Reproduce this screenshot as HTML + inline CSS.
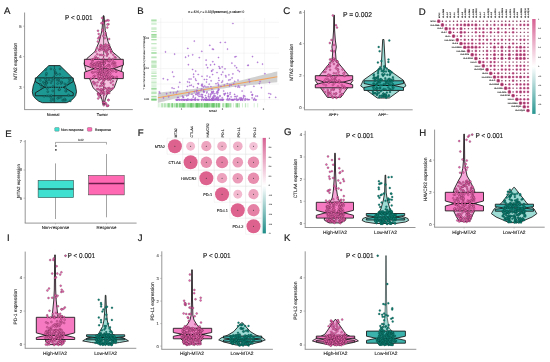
<!DOCTYPE html>
<html><head><meta charset="utf-8"><style>html,body{margin:0;padding:0;background:#fff;overflow:hidden}svg{display:block;will-change:transform}</style></head>
<body>
<svg width="550" height="362" viewBox="0 0 550 362" text-rendering="geometricPrecision" font-family='"Liberation Sans", sans-serif'>
<rect x="0" y="0" width="550" height="362" fill="#ffffff"/>
<text x="4.1" y="13.6" font-size="9.6" fill="#1a1a1a" stroke="#1a1a1a" stroke-width="0.2">A</text>
<line x1="24.6" y1="12.5" x2="24.6" y2="109.6" stroke="#8a8a8a" stroke-width="0.9"/>
<line x1="23" y1="26.2" x2="24.6" y2="26.2" stroke="#8a8a8a" stroke-width="0.5"/>
<text x="21.6" y="27.6" font-size="4.2" text-anchor="end" fill="#555" stroke="#555" stroke-width="0.12">5</text>
<line x1="23" y1="56.6" x2="24.6" y2="56.6" stroke="#8a8a8a" stroke-width="0.5"/>
<text x="21.6" y="58" font-size="4.2" text-anchor="end" fill="#555" stroke="#555" stroke-width="0.12">4</text>
<line x1="23" y1="87.1" x2="24.6" y2="87.1" stroke="#8a8a8a" stroke-width="0.5"/>
<text x="21.6" y="88.5" font-size="4.2" text-anchor="end" fill="#555" stroke="#555" stroke-width="0.12">3</text>
<line x1="24.15" y1="109.6" x2="132.8" y2="109.6" stroke="#8a8a8a" stroke-width="0.9"/>
<line x1="54.4" y1="109.6" x2="54.4" y2="110.9" stroke="#8a8a8a" stroke-width="0.45"/>
<line x1="103.6" y1="109.6" x2="103.6" y2="110.9" stroke="#8a8a8a" stroke-width="0.45"/>
<text x="16.7" y="61.2" font-size="4.8" text-anchor="middle" fill="#333" stroke="#333" stroke-width="0.12" transform="rotate(-90 16.7 61.2)">MTA2 expression</text>
<text x="53" y="116.1" font-size="3.9" text-anchor="middle" fill="#222" stroke="#222" stroke-width="0.12">Normal</text>
<text x="102.3" y="116.1" font-size="3.9" text-anchor="middle" fill="#222" stroke="#222" stroke-width="0.12">Tumor</text>
<text x="65.1" y="20.3" font-size="7.0" fill="#1a1a1a" stroke="#1a1a1a" stroke-width="0.15" textLength="27.4" lengthAdjust="spacingAndGlyphs">P &lt; 0.001</text>
<path d="M60,65.6L72.6,77.9L75.6,86L76.5,91.8L75.7,95.5L73.4,98.5L69.9,101.3L66.3,102.7L42.5,102.7L38.9,101.3L35.4,98.5L33.1,95.5L32.3,91.8L33.2,86L36.2,77.9L48.8,65.6Z" fill="#1e9893" stroke="#141414" stroke-width="0.85" stroke-linejoin="round"/>
<path d="M35.3,77.9L73.2,77.9L73.2,81.6L63.73,87.2L73.2,92.8L73.2,95.8L35.3,95.8L35.3,92.8L44.77,87.2L35.3,81.6Z" fill="#1e9893" stroke="#141414" stroke-width="0.85"/>
<line x1="44.7" y1="87.2" x2="64.1" y2="87.2" stroke="#141414" stroke-width="1.1" stroke-dasharray="1.6,0.7"/>
<line x1="54.4" y1="65.6" x2="54.4" y2="102.7" stroke="#141414" stroke-width="0.45"/>
<g fill="#1a8c87" stroke="#081c1c" stroke-width="0.3"><circle cx="55.5" cy="72.5" r="1.0"/><circle cx="53.8" cy="77.2" r="1.0"/><circle cx="56.0" cy="73.1" r="1.0"/><circle cx="54.6" cy="69.8" r="1.0"/><circle cx="59.7" cy="74.3" r="1.0"/><circle cx="50.9" cy="68.9" r="1.0"/><circle cx="60.0" cy="68.9" r="1.0"/><circle cx="46.2" cy="74.9" r="1.0"/><circle cx="62.8" cy="77.8" r="1.0"/><circle cx="56.5" cy="74.5" r="1.0"/><circle cx="45.7" cy="69.6" r="1.0"/><circle cx="46.5" cy="73.3" r="1.0"/><circle cx="46.1" cy="82.4" r="1.0"/><circle cx="53.2" cy="78.7" r="1.0"/><circle cx="65.4" cy="88.1" r="1.0"/><circle cx="58.9" cy="89.9" r="1.0"/><circle cx="59.6" cy="89.5" r="1.0"/><circle cx="47.3" cy="88.5" r="1.0"/><circle cx="70.3" cy="100.9" r="1.0"/><circle cx="61.0" cy="97.3" r="1.0"/><circle cx="45.7" cy="85.3" r="1.0"/><circle cx="40.6" cy="84.6" r="1.0"/><circle cx="51.2" cy="95.6" r="1.0"/><circle cx="50.8" cy="97.5" r="1.0"/><circle cx="65.5" cy="100.0" r="1.0"/><circle cx="45.1" cy="78.0" r="1.0"/><circle cx="53.4" cy="98.9" r="1.0"/><circle cx="51.1" cy="100.5" r="1.0"/><circle cx="58.5" cy="79.7" r="1.0"/><circle cx="47.0" cy="95.9" r="1.0"/><circle cx="49.0" cy="80.0" r="1.0"/><circle cx="62.7" cy="100.2" r="1.0"/><circle cx="46.3" cy="80.7" r="1.0"/><circle cx="40.3" cy="80.3" r="1.0"/><circle cx="44.1" cy="96.3" r="1.0"/><circle cx="52.7" cy="90.9" r="1.0"/><circle cx="61.8" cy="82.4" r="1.0"/><circle cx="59.0" cy="81.0" r="1.0"/><circle cx="51.9" cy="80.7" r="1.0"/><circle cx="47.0" cy="82.9" r="1.0"/><circle cx="64.1" cy="100.3" r="1.0"/><circle cx="66.7" cy="85.0" r="1.0"/><circle cx="51.0" cy="82.8" r="1.0"/><circle cx="58.9" cy="97.7" r="1.0"/><circle cx="70.1" cy="80.3" r="1.0"/><circle cx="46.7" cy="82.9" r="1.0"/><circle cx="48.9" cy="95.8" r="1.0"/><circle cx="40.7" cy="84.8" r="1.0"/><circle cx="57.0" cy="80.1" r="1.0"/><circle cx="57.6" cy="83.6" r="1.0"/><circle cx="52.9" cy="86.5" r="1.0"/><circle cx="53.9" cy="100.1" r="1.0"/><circle cx="66.1" cy="91.2" r="1.0"/><circle cx="43.3" cy="82.2" r="1.0"/><circle cx="64.6" cy="98.9" r="1.0"/><circle cx="44.5" cy="83.7" r="1.0"/><circle cx="68.5" cy="95.0" r="1.0"/><circle cx="68.8" cy="82.5" r="1.0"/><circle cx="57.7" cy="98.3" r="1.0"/><circle cx="41.7" cy="87.7" r="1.0"/><circle cx="69.2" cy="78.9" r="1.0"/><circle cx="60.9" cy="83.5" r="1.0"/><circle cx="64.8" cy="83.9" r="1.0"/><circle cx="47.8" cy="91.7" r="1.0"/><circle cx="61.5" cy="82.0" r="1.0"/><circle cx="45.7" cy="79.6" r="1.0"/><circle cx="65.7" cy="90.9" r="1.0"/></g>
<path d="M104,15.8L105.3,30.7L108.1,41.8L112.2,51.5L120.2,58.4L123.1,63L121.6,70L117.3,79.3L114.2,87.7L107,94.5L105.1,100L104.1,105.2L103.1,105.2L102.1,100L100.2,94.5L93,87.7L89.9,79.3L85.6,70L84.1,63L87,58.4L95,51.5L99.1,41.8L101.9,30.7L103.2,15.8Z" fill="#f6c0e0" stroke="#141414" stroke-width="0.85" stroke-linejoin="round"/>
<path d="M84.4,59.3L123.3,59.3L123.3,65.2L113.58,68.7L123.3,72.2L123.3,78.6L84.4,78.6L84.4,72.2L94.12,68.7L84.4,65.2Z" fill="#f67ac2" stroke="#141414" stroke-width="0.85"/>
<line x1="94.12" y1="68.7" x2="113.58" y2="68.7" stroke="#141414" stroke-width="0.7"/>
<line x1="103.6" y1="15.8" x2="103.6" y2="105.2" stroke="#141414" stroke-width="0.55"/>
<g fill="#ea62ae" stroke="#1a0610" stroke-width="0.2"><circle cx="105.5" cy="33.0" r="1.0"/><circle cx="99.3" cy="37.7" r="1.0"/><circle cx="102.1" cy="17.9" r="1.0"/><circle cx="107.3" cy="27.6" r="1.0"/><circle cx="104.8" cy="38.2" r="1.0"/><circle cx="105.5" cy="35.1" r="1.0"/><circle cx="102.9" cy="23.6" r="1.0"/><circle cx="108.5" cy="24.2" r="1.0"/><circle cx="107.4" cy="20.3" r="1.0"/><circle cx="105.8" cy="21.0" r="1.0"/><circle cx="102.5" cy="29.4" r="1.0"/><circle cx="97.8" cy="41.6" r="1.0"/><circle cx="108.6" cy="20.4" r="1.0"/><circle cx="98.7" cy="33.9" r="1.0"/><circle cx="109.0" cy="44.7" r="1.0"/><circle cx="102.7" cy="22.4" r="1.0"/><circle cx="101.4" cy="23.2" r="1.0"/><circle cx="99.6" cy="36.6" r="1.0"/><circle cx="98.2" cy="38.4" r="1.0"/><circle cx="107.4" cy="24.5" r="1.0"/><circle cx="102.6" cy="31.1" r="1.0"/><circle cx="103.3" cy="36.0" r="1.0"/><circle cx="98.0" cy="30.7" r="1.0"/><circle cx="109.2" cy="39.0" r="1.0"/><circle cx="105.6" cy="44.5" r="1.0"/><circle cx="101.6" cy="49.6" r="1.0"/><circle cx="107.4" cy="54.0" r="1.0"/><circle cx="100.3" cy="46.5" r="1.0"/><circle cx="103.8" cy="49.7" r="1.0"/><circle cx="103.6" cy="55.5" r="1.0"/><circle cx="107.5" cy="45.4" r="1.0"/><circle cx="103.9" cy="50.6" r="1.0"/><circle cx="102.6" cy="47.9" r="1.0"/><circle cx="107.7" cy="50.0" r="1.0"/><circle cx="104.2" cy="46.3" r="1.0"/><circle cx="106.1" cy="47.3" r="1.0"/><circle cx="100.9" cy="45.5" r="1.0"/><circle cx="105.6" cy="49.5" r="1.0"/><circle cx="103.1" cy="45.7" r="1.0"/><circle cx="100.7" cy="47.7" r="1.0"/><circle cx="111.0" cy="51.2" r="1.0"/><circle cx="111.0" cy="51.3" r="1.0"/><circle cx="109.1" cy="47.2" r="1.0"/><circle cx="99.0" cy="49.7" r="1.0"/><circle cx="113.3" cy="54.7" r="1.0"/><circle cx="100.8" cy="45.1" r="1.0"/><circle cx="99.8" cy="55.0" r="1.0"/><circle cx="96.9" cy="48.1" r="1.0"/><circle cx="105.0" cy="45.5" r="1.0"/><circle cx="115.6" cy="57.8" r="1.0"/><circle cx="95.8" cy="51.5" r="1.0"/><circle cx="107.8" cy="49.2" r="1.0"/><circle cx="106.9" cy="55.8" r="1.0"/><circle cx="104.0" cy="48.0" r="1.0"/><circle cx="105.6" cy="51.2" r="1.0"/><circle cx="109.8" cy="48.4" r="1.0"/><circle cx="95.5" cy="56.6" r="1.0"/><circle cx="108.9" cy="48.8" r="1.0"/><circle cx="109.8" cy="48.6" r="1.0"/><circle cx="106.9" cy="51.7" r="1.0"/><circle cx="97.3" cy="54.2" r="1.0"/><circle cx="100.1" cy="48.7" r="1.0"/><circle cx="107.8" cy="53.9" r="1.0"/><circle cx="108.4" cy="46.7" r="1.0"/><circle cx="99.6" cy="50.5" r="1.0"/><circle cx="111.1" cy="50.7" r="1.0"/><circle cx="105.9" cy="52.3" r="1.0"/><circle cx="114.7" cy="57.0" r="1.0"/><circle cx="101.6" cy="54.9" r="1.0"/><circle cx="111.2" cy="52.6" r="1.0"/><circle cx="105.8" cy="75.4" r="1.0"/><circle cx="100.0" cy="65.6" r="1.0"/><circle cx="105.3" cy="74.2" r="1.0"/><circle cx="109.3" cy="58.4" r="1.0"/><circle cx="111.6" cy="77.9" r="1.0"/><circle cx="114.7" cy="77.7" r="1.0"/><circle cx="111.4" cy="69.8" r="1.0"/><circle cx="92.8" cy="66.3" r="1.0"/><circle cx="98.5" cy="65.8" r="1.0"/><circle cx="108.6" cy="78.5" r="1.0"/><circle cx="106.9" cy="69.9" r="1.0"/><circle cx="104.5" cy="60.7" r="1.0"/><circle cx="100.7" cy="73.4" r="1.0"/><circle cx="101.1" cy="63.4" r="1.0"/><circle cx="108.6" cy="65.1" r="1.0"/><circle cx="92.5" cy="61.1" r="1.0"/><circle cx="108.9" cy="64.9" r="1.0"/><circle cx="107.9" cy="74.7" r="1.0"/><circle cx="100.0" cy="78.6" r="1.0"/><circle cx="103.3" cy="58.7" r="1.0"/><circle cx="94.9" cy="67.8" r="1.0"/><circle cx="99.3" cy="72.7" r="1.0"/><circle cx="98.9" cy="63.2" r="1.0"/><circle cx="90.6" cy="78.8" r="1.0"/><circle cx="97.7" cy="65.9" r="1.0"/><circle cx="101.8" cy="62.4" r="1.0"/><circle cx="114.9" cy="62.8" r="1.0"/><circle cx="108.9" cy="69.0" r="1.0"/><circle cx="102.6" cy="61.6" r="1.0"/><circle cx="112.9" cy="71.3" r="1.0"/><circle cx="102.5" cy="63.5" r="1.0"/><circle cx="112.6" cy="76.8" r="1.0"/><circle cx="104.6" cy="63.0" r="1.0"/><circle cx="100.8" cy="74.7" r="1.0"/><circle cx="108.0" cy="72.8" r="1.0"/><circle cx="105.0" cy="79.4" r="1.0"/><circle cx="99.6" cy="73.0" r="1.0"/><circle cx="98.8" cy="74.1" r="1.0"/><circle cx="99.8" cy="69.0" r="1.0"/><circle cx="93.8" cy="64.8" r="1.0"/><circle cx="104.8" cy="63.0" r="1.0"/><circle cx="91.3" cy="63.5" r="1.0"/><circle cx="97.8" cy="75.7" r="1.0"/><circle cx="106.2" cy="78.6" r="1.0"/><circle cx="113.7" cy="66.6" r="1.0"/><circle cx="98.8" cy="77.7" r="1.0"/><circle cx="107.4" cy="60.8" r="1.0"/><circle cx="106.5" cy="76.5" r="1.0"/><circle cx="101.2" cy="75.3" r="1.0"/><circle cx="97.2" cy="71.6" r="1.0"/><circle cx="100.4" cy="67.0" r="1.0"/><circle cx="100.9" cy="66.5" r="1.0"/><circle cx="94.7" cy="75.8" r="1.0"/><circle cx="97.0" cy="62.5" r="1.0"/><circle cx="104.2" cy="79.4" r="1.0"/><circle cx="112.7" cy="59.2" r="1.0"/><circle cx="112.3" cy="77.2" r="1.0"/><circle cx="109.9" cy="65.9" r="1.0"/><circle cx="93.8" cy="64.7" r="1.0"/><circle cx="112.6" cy="77.0" r="1.0"/><circle cx="113.9" cy="62.6" r="1.0"/><circle cx="98.4" cy="58.5" r="1.0"/><circle cx="94.7" cy="58.3" r="1.0"/><circle cx="109.4" cy="61.6" r="1.0"/><circle cx="95.2" cy="64.5" r="1.0"/><circle cx="98.5" cy="62.0" r="1.0"/><circle cx="106.5" cy="77.0" r="1.0"/><circle cx="108.6" cy="60.3" r="1.0"/><circle cx="102.2" cy="69.8" r="1.0"/><circle cx="107.7" cy="69.6" r="1.0"/><circle cx="103.7" cy="75.6" r="1.0"/><circle cx="102.7" cy="72.0" r="1.0"/><circle cx="100.6" cy="71.9" r="1.0"/><circle cx="104.0" cy="67.1" r="1.0"/><circle cx="97.6" cy="73.7" r="1.0"/><circle cx="103.4" cy="78.3" r="1.0"/><circle cx="108.7" cy="76.8" r="1.0"/><circle cx="108.4" cy="79.0" r="1.0"/><circle cx="101.1" cy="67.4" r="1.0"/><circle cx="110.5" cy="71.4" r="1.0"/><circle cx="93.6" cy="76.5" r="1.0"/><circle cx="93.0" cy="59.4" r="1.0"/><circle cx="91.6" cy="59.9" r="1.0"/><circle cx="96.8" cy="58.2" r="1.0"/><circle cx="108.6" cy="60.5" r="1.0"/><circle cx="116.2" cy="71.5" r="1.0"/><circle cx="110.1" cy="79.1" r="1.0"/><circle cx="91.1" cy="78.9" r="1.0"/><circle cx="115.1" cy="63.0" r="1.0"/><circle cx="95.7" cy="68.5" r="1.0"/><circle cx="101.5" cy="74.6" r="1.0"/><circle cx="98.6" cy="69.9" r="1.0"/><circle cx="92.5" cy="63.3" r="1.0"/><circle cx="115.8" cy="71.4" r="1.0"/><circle cx="110.4" cy="79.7" r="1.0"/><circle cx="99.9" cy="78.5" r="1.0"/><circle cx="115.0" cy="64.6" r="1.0"/><circle cx="108.2" cy="71.2" r="1.0"/><circle cx="96.3" cy="58.3" r="1.0"/><circle cx="109.8" cy="68.6" r="1.0"/><circle cx="110.5" cy="76.2" r="1.0"/><circle cx="100.4" cy="65.5" r="1.0"/><circle cx="116.8" cy="77.0" r="1.0"/><circle cx="95.4" cy="68.7" r="1.0"/><circle cx="104.6" cy="71.7" r="1.0"/><circle cx="96.3" cy="66.0" r="1.0"/><circle cx="106.6" cy="66.5" r="1.0"/><circle cx="104.7" cy="60.8" r="1.0"/><circle cx="110.1" cy="79.0" r="1.0"/><circle cx="101.4" cy="63.5" r="1.0"/><circle cx="110.0" cy="60.3" r="1.0"/><circle cx="94.8" cy="71.9" r="1.0"/><circle cx="106.2" cy="70.1" r="1.0"/><circle cx="100.3" cy="70.7" r="1.0"/><circle cx="99.7" cy="64.8" r="1.0"/><circle cx="99.3" cy="79.9" r="1.0"/><circle cx="102.5" cy="69.1" r="1.0"/><circle cx="100.9" cy="61.8" r="1.0"/><circle cx="98.8" cy="62.5" r="1.0"/><circle cx="99.5" cy="66.1" r="1.0"/><circle cx="98.2" cy="78.6" r="1.0"/><circle cx="107.9" cy="65.3" r="1.0"/><circle cx="104.0" cy="66.7" r="1.0"/><circle cx="92.1" cy="72.2" r="1.0"/><circle cx="92.8" cy="72.8" r="1.0"/><circle cx="112.0" cy="63.5" r="1.0"/><circle cx="108.1" cy="79.8" r="1.0"/><circle cx="101.9" cy="61.8" r="1.0"/><circle cx="112.8" cy="64.2" r="1.0"/><circle cx="95.4" cy="63.1" r="1.0"/><circle cx="107.3" cy="72.0" r="1.0"/><circle cx="103.0" cy="71.0" r="1.0"/><circle cx="102.5" cy="79.1" r="1.0"/><circle cx="100.7" cy="78.6" r="1.0"/><circle cx="99.8" cy="68.2" r="1.0"/><circle cx="110.4" cy="73.7" r="1.0"/><circle cx="104.3" cy="63.3" r="1.0"/><circle cx="103.6" cy="74.0" r="1.0"/><circle cx="106.7" cy="72.6" r="1.0"/><circle cx="99.7" cy="73.7" r="1.0"/><circle cx="90.8" cy="64.7" r="1.0"/><circle cx="111.4" cy="77.6" r="1.0"/><circle cx="116.2" cy="66.6" r="1.0"/><circle cx="94.2" cy="77.9" r="1.0"/><circle cx="101.5" cy="76.4" r="1.0"/><circle cx="97.1" cy="64.9" r="1.0"/><circle cx="91.5" cy="67.1" r="1.0"/><circle cx="93.3" cy="59.1" r="1.0"/><circle cx="94.4" cy="64.8" r="1.0"/><circle cx="112.6" cy="60.7" r="1.0"/><circle cx="103.4" cy="85.7" r="1.0"/><circle cx="111.2" cy="89.0" r="1.0"/><circle cx="97.6" cy="82.2" r="1.0"/><circle cx="108.5" cy="92.9" r="1.0"/><circle cx="103.9" cy="94.0" r="1.0"/><circle cx="96.9" cy="85.5" r="1.0"/><circle cx="106.8" cy="93.7" r="1.0"/><circle cx="109.1" cy="88.3" r="1.0"/><circle cx="104.3" cy="83.9" r="1.0"/><circle cx="98.9" cy="93.6" r="1.0"/><circle cx="98.3" cy="89.3" r="1.0"/><circle cx="107.7" cy="92.6" r="1.0"/><circle cx="102.6" cy="89.7" r="1.0"/><circle cx="103.5" cy="80.3" r="1.0"/><circle cx="101.4" cy="85.4" r="1.0"/><circle cx="112.8" cy="81.2" r="1.0"/><circle cx="104.8" cy="87.8" r="1.0"/><circle cx="108.4" cy="92.6" r="1.0"/><circle cx="104.4" cy="88.2" r="1.0"/><circle cx="102.1" cy="92.7" r="1.0"/><circle cx="97.9" cy="93.5" r="1.0"/><circle cx="103.9" cy="91.9" r="1.0"/><circle cx="111.9" cy="89.3" r="1.0"/><circle cx="101.6" cy="83.3" r="1.0"/><circle cx="106.6" cy="92.0" r="1.0"/><circle cx="109.1" cy="87.9" r="1.0"/><circle cx="109.2" cy="90.2" r="1.0"/><circle cx="101.4" cy="89.8" r="1.0"/><circle cx="94.4" cy="84.3" r="1.0"/><circle cx="93.5" cy="81.8" r="1.0"/><circle cx="99.3" cy="94.6" r="1.0"/><circle cx="97.2" cy="89.0" r="1.0"/><circle cx="104.0" cy="94.5" r="1.0"/><circle cx="110.8" cy="82.7" r="1.0"/><circle cx="109.3" cy="92.9" r="1.0"/><circle cx="101.5" cy="83.4" r="1.0"/><circle cx="100.2" cy="89.9" r="1.0"/><circle cx="107.3" cy="88.5" r="1.0"/><circle cx="107.8" cy="91.3" r="1.0"/><circle cx="100.8" cy="91.3" r="1.0"/><circle cx="102.7" cy="91.3" r="1.0"/><circle cx="93.1" cy="82.5" r="1.0"/><circle cx="101.2" cy="89.3" r="1.0"/><circle cx="103.4" cy="81.4" r="1.0"/><circle cx="99.9" cy="86.2" r="1.0"/><circle cx="104.3" cy="88.5" r="1.0"/><circle cx="113.2" cy="87.9" r="1.0"/><circle cx="101.2" cy="93.6" r="1.0"/><circle cx="101.4" cy="93.1" r="1.0"/><circle cx="98.3" cy="94.1" r="1.0"/><circle cx="113.1" cy="84.8" r="1.0"/><circle cx="106.8" cy="89.9" r="1.0"/><circle cx="95.3" cy="83.1" r="1.0"/><circle cx="98.4" cy="94.4" r="1.0"/><circle cx="102.1" cy="82.6" r="1.0"/><circle cx="105.8" cy="104.0" r="1.0"/><circle cx="107.0" cy="106.0" r="1.0"/><circle cx="108.5" cy="99.8" r="1.0"/><circle cx="98.2" cy="98.5" r="1.0"/><circle cx="108.2" cy="105.6" r="1.0"/><circle cx="103.4" cy="102.3" r="1.0"/><circle cx="100.2" cy="97.2" r="1.0"/><circle cx="98.7" cy="95.7" r="1.0"/><circle cx="108.4" cy="100.3" r="1.0"/><circle cx="103.8" cy="105.3" r="1.0"/><circle cx="103.2" cy="102.4" r="1.0"/><circle cx="106.1" cy="103.5" r="1.0"/><circle cx="107.7" cy="105.8" r="1.0"/><circle cx="104.7" cy="102.5" r="1.0"/></g>
<text x="137.26" y="13.6" font-size="9.6" fill="#1a1a1a" stroke="#1a1a1a" stroke-width="0.2">B</text>
<text x="216.2" y="13.3" font-size="3.5" text-anchor="middle" fill="#222" stroke="#222" stroke-width="0.12" textLength="56" lengthAdjust="spacingAndGlyphs">n = 424, r = 0.32(Spearman), p-value&lt; 0</text>
<line x1="160.8" y1="18" x2="160.8" y2="102.5" stroke="#ebebeb" stroke-width="0.45"/>
<line x1="182.5" y1="18" x2="182.5" y2="102.5" stroke="#ebebeb" stroke-width="0.45"/>
<line x1="203" y1="18" x2="203" y2="102.5" stroke="#ebebeb" stroke-width="0.45"/>
<line x1="223.2" y1="18" x2="223.2" y2="102.5" stroke="#ebebeb" stroke-width="0.45"/>
<line x1="244" y1="18" x2="244" y2="102.5" stroke="#ebebeb" stroke-width="0.45"/>
<line x1="264.6" y1="18" x2="264.6" y2="102.5" stroke="#ebebeb" stroke-width="0.45"/>
<line x1="157" y1="22.3" x2="279" y2="22.3" stroke="#ebebeb" stroke-width="0.45"/>
<line x1="157" y1="37.7" x2="279" y2="37.7" stroke="#ebebeb" stroke-width="0.45"/>
<line x1="157" y1="53.2" x2="279" y2="53.2" stroke="#ebebeb" stroke-width="0.45"/>
<line x1="157" y1="68.6" x2="279" y2="68.6" stroke="#ebebeb" stroke-width="0.45"/>
<line x1="157" y1="84" x2="279" y2="84" stroke="#ebebeb" stroke-width="0.45"/>
<line x1="157" y1="99.4" x2="279" y2="99.4" stroke="#ebebeb" stroke-width="0.45"/>
<text x="149" y="38.8" font-size="2.6" text-anchor="end" fill="#555" stroke="#555" stroke-width="0.12">0.15</text>
<text x="149" y="69.4" font-size="2.6" text-anchor="end" fill="#555" stroke="#555" stroke-width="0.12">0.10</text>
<text x="149" y="100" font-size="2.6" text-anchor="end" fill="#555" stroke="#555" stroke-width="0.12">0.05</text>
<text x="145.2" y="62.8" font-size="2.6" text-anchor="middle" fill="#444" stroke="#444" stroke-width="0.12" transform="rotate(-90 145.2 62.8)" textLength="53.6" lengthAdjust="spacingAndGlyphs">T cell follicular helper (immune infiltration)</text>
<text x="213" y="112.4" font-size="3.0" text-anchor="middle" fill="#333" stroke="#333" stroke-width="0.12">MTA2</text>
<text x="181.5" y="109.8" font-size="2.6" text-anchor="middle" fill="#555" stroke="#555" stroke-width="0.12">1</text>
<text x="222.5" y="109.8" font-size="2.6" text-anchor="middle" fill="#555" stroke="#555" stroke-width="0.12">2</text>
<text x="263.4" y="109.8" font-size="2.6" text-anchor="middle" fill="#555" stroke="#555" stroke-width="0.12">3</text>
<path d="M151.3,92.4H156.6M151.3,69.9H156.6M151.3,84.0H156.6M151.3,64.4H156.6M151.3,62.2H156.6M151.3,99.5H156.6M151.3,100.4H156.6M151.3,39.5H156.6M151.3,91.2H156.6M151.3,92.6H156.6M151.3,20.1H156.6M151.3,76.3H156.6M151.3,39.6H156.6M151.3,75.8H156.6M151.3,60.9H156.6M151.3,96.6H156.6M151.3,61.3H156.6M151.3,35.9H156.6M151.3,71.8H156.6M151.3,50.3H156.6M151.3,57.7H156.6M151.3,99.5H156.6M151.3,48.5H156.6M151.3,65.6H156.6M151.3,88.6H156.6M151.3,100.2H156.6M151.3,36.2H156.6M151.3,76.1H156.6M151.3,52.7H156.6M151.3,34.6H156.6M151.3,53.2H156.6M151.3,29.5H156.6M151.3,82.2H156.6M151.3,43.7H156.6M151.3,78.4H156.6M151.3,27.7H156.6M151.3,34.6H156.6M151.3,98.5H156.6M151.3,97.2H156.6M151.3,93.5H156.6M151.3,23.9H156.6M151.3,79.0H156.6M151.3,62.2H156.6M151.3,88.6H156.6M151.3,73.2H156.6M151.3,82.8H156.6M151.3,85.3H156.6M151.3,66.1H156.6M151.3,66.2H156.6M151.3,31.6H156.6M151.3,56.6H156.6M151.3,28.5H156.6M151.3,37.3H156.6M151.3,20.7H156.6M151.3,57.7H156.6M151.3,96.0H156.6M151.3,36.8H156.6M151.3,24.0H156.6M151.3,31.5H156.6M151.3,67.6H156.6M151.3,53.3H156.6M151.3,93.8H156.6M151.3,40.2H156.6M151.3,67.2H156.6M151.3,89.6H156.6M151.3,99.5H156.6M151.3,37.6H156.6M151.3,20.8H156.6M151.3,98.8H156.6M151.3,43.8H156.6M151.3,81.0H156.6M151.3,96.6H156.6M151.3,89.1H156.6M151.3,47.3H156.6M151.3,35.3H156.6M151.3,99.9H156.6M151.3,63.3H156.6M151.3,99.9H156.6M151.3,52.8H156.6M151.3,86.7H156.6M151.3,34.4H156.6M151.3,22.0H156.6M151.3,73.3H156.6M151.3,19.7H156.6M151.3,88.1H156.6" stroke="#3cb83c" stroke-width="0.5" stroke-opacity="0.42"/>
<path d="M226.4,103.2V107.4M213.8,103.2V107.4M214.3,103.2V107.4M202.9,103.2V107.4M174.7,103.2V107.4M216.5,103.2V107.4M203.6,103.2V107.4M205.4,103.2V107.4M212.9,103.2V107.4M185.9,103.2V107.4M245.3,103.2V107.4M188.0,103.2V107.4M182.4,103.2V107.4M217.0,103.2V107.4M168.6,103.2V107.4M196.0,103.2V107.4M176.8,103.2V107.4M184.1,103.2V107.4M161.9,103.2V107.4M164.2,103.2V107.4M176.7,103.2V107.4M199.0,103.2V107.4M197.0,103.2V107.4M184.1,103.2V107.4M180.8,103.2V107.4M257.6,103.2V107.4M172.5,103.2V107.4M196.3,103.2V107.4M222.7,103.2V107.4M201.6,103.2V107.4M196.1,103.2V107.4M197.9,103.2V107.4M176.8,103.2V107.4M179.3,103.2V107.4M228.7,103.2V107.4M211.4,103.2V107.4M167.6,103.2V107.4M207.0,103.2V107.4M179.3,103.2V107.4M227.6,103.2V107.4M199.6,103.2V107.4M195.4,103.2V107.4M230.7,103.2V107.4M212.3,103.2V107.4M216.3,103.2V107.4M196.2,103.2V107.4M171.6,103.2V107.4M208.0,103.2V107.4M191.1,103.2V107.4M218.9,103.2V107.4M191.9,103.2V107.4M219.5,103.2V107.4M184.7,103.2V107.4M189.5,103.2V107.4M172.9,103.2V107.4M226.4,103.2V107.4M228.1,103.2V107.4M204.8,103.2V107.4M198.2,103.2V107.4M181.1,103.2V107.4M206.8,103.2V107.4M239.1,103.2V107.4M201.0,103.2V107.4M214.1,103.2V107.4M168.7,103.2V107.4M213.5,103.2V107.4M215.6,103.2V107.4M211.6,103.2V107.4M179.1,103.2V107.4M236.0,103.2V107.4M159.9,103.2V107.4M216.3,103.2V107.4M209.7,103.2V107.4M217.4,103.2V107.4M173.2,103.2V107.4M163.0,103.2V107.4M185.0,103.2V107.4M204.8,103.2V107.4M219.6,103.2V107.4M218.6,103.2V107.4M214.5,103.2V107.4M237.2,103.2V107.4M207.4,103.2V107.4M188.1,103.2V107.4M192.9,103.2V107.4M239.3,103.2V107.4M175.0,103.2V107.4M169.0,103.2V107.4M193.5,103.2V107.4M209.6,103.2V107.4M189.8,103.2V107.4M237.7,103.2V107.4M197.3,103.2V107.4M220.1,103.2V107.4M180.1,103.2V107.4M211.4,103.2V107.4M158.3,103.2V107.4M226.7,103.2V107.4M201.2,103.2V107.4M201.8,103.2V107.4M242.5,103.2V107.4M184.2,103.2V107.4M223.4,103.2V107.4M198.1,103.2V107.4M247.9,103.2V107.4M184.5,103.2V107.4M206.3,103.2V107.4M235.8,103.2V107.4M216.8,103.2V107.4M172.2,103.2V107.4M182.0,103.2V107.4M197.8,103.2V107.4M191.4,103.2V107.4M213.3,103.2V107.4M226.7,103.2V107.4M212.2,103.2V107.4M190.8,103.2V107.4M239.0,103.2V107.4M245.7,103.2V107.4M213.3,103.2V107.4M182.7,103.2V107.4M237.6,103.2V107.4M171.5,103.2V107.4M196.8,103.2V107.4M198.3,103.2V107.4M199.6,103.2V107.4M186.5,103.2V107.4M190.0,103.2V107.4M230.9,103.2V107.4M177.5,103.2V107.4M196.4,103.2V107.4M228.1,103.2V107.4M188.7,103.2V107.4M190.9,103.2V107.4M214.1,103.2V107.4M216.2,103.2V107.4M180.9,103.2V107.4M204.1,103.2V107.4M179.9,103.2V107.4M208.8,103.2V107.4M225.7,103.2V107.4M205.5,103.2V107.4M187.7,103.2V107.4M212.9,103.2V107.4M214.1,103.2V107.4M161.5,103.2V107.4M230.9,103.2V107.4M201.5,103.2V107.4M204.6,103.2V107.4M194.6,103.2V107.4M197.7,103.2V107.4M217.2,103.2V107.4M177.3,103.2V107.4M196.1,103.2V107.4M162.5,103.2V107.4M206.5,103.2V107.4M207.4,103.2V107.4M200.1,103.2V107.4M207.9,103.2V107.4M208.1,103.2V107.4M254.2,103.2V107.4M224.9,103.2V107.4M205.7,103.2V107.4M192.6,103.2V107.4M180.8,103.2V107.4M199.7,103.2V107.4M191.9,103.2V107.4M218.8,103.2V107.4M182.4,103.2V107.4M176.7,103.2V107.4M190.8,103.2V107.4M211.0,103.2V107.4M194.6,103.2V107.4M210.0,103.2V107.4M167.2,103.2V107.4M188.1,103.2V107.4M193.4,103.2V107.4M206.1,103.2V107.4M209.2,103.2V107.4M219.2,103.2V107.4M169.5,103.2V107.4M176.6,103.2V107.4M171.1,103.2V107.4M227.0,103.2V107.4M183.3,103.2V107.4M183.7,103.2V107.4M182.1,103.2V107.4M218.5,103.2V107.4M193.3,103.2V107.4M178.0,103.2V107.4M191.6,103.2V107.4M177.0,103.2V107.4M200.8,103.2V107.4M227.2,103.2V107.4M197.1,103.2V107.4M192.0,103.2V107.4M179.4,103.2V107.4M210.5,103.2V107.4M237.6,103.2V107.4M164.6,103.2V107.4M166.9,103.2V107.4M233.4,103.2V107.4M204.4,103.2V107.4M183.4,103.2V107.4M189.0,103.2V107.4M202.5,103.2V107.4M212.5,103.2V107.4M170.1,103.2V107.4M229.6,103.2V107.4M174.6,103.2V107.4M182.3,103.2V107.4M168.9,103.2V107.4M190.6,103.2V107.4M196.0,103.2V107.4M198.1,103.2V107.4M198.9,103.2V107.4M223.5,103.2V107.4M229.8,103.2V107.4M209.3,103.2V107.4M202.7,103.2V107.4M236.8,103.2V107.4M226.5,103.2V107.4M202.1,103.2V107.4M204.3,103.2V107.4M206.1,103.2V107.4M190.6,103.2V107.4M218.3,103.2V107.4M172.7,103.2V107.4M228.0,103.2V107.4M165.4,103.2V107.4M181.2,103.2V107.4M236.6,103.2V107.4M208.5,103.2V107.4M165.2,103.2V107.4M197.5,103.2V107.4M228.7,103.2V107.4M222.7,103.2V107.4M207.2,103.2V107.4M196.9,103.2V107.4M187.3,103.2V107.4M225.3,103.2V107.4M207.7,103.2V107.4M185.5,103.2V107.4M207.1,103.2V107.4M215.1,103.2V107.4M172.5,103.2V107.4M175.5,103.2V107.4M183.5,103.2V107.4M213.0,103.2V107.4M183.7,103.2V107.4M212.4,103.2V107.4M192.0,103.2V107.4M204.5,103.2V107.4M199.9,103.2V107.4M168.8,103.2V107.4M219.0,103.2V107.4" stroke="#3cb83c" stroke-width="0.5" stroke-opacity="0.42"/>
<path d="M157.9,92.7L160.9,92.4L163.9,92.1L166.9,91.8L169.8,91.5L172.8,91.2L175.8,90.9L178.8,90.6L181.8,90.2L184.8,89.9L187.8,89.6L190.7,89.2L193.7,88.9L196.7,88.5L199.7,88.1L202.7,87.7L205.7,87.3L208.6,86.8L211.6,86.3L214.6,85.8L217.6,85.3L220.6,84.7L223.6,84.1L226.6,83.5L229.5,82.9L232.5,82.2L235.5,81.5L238.5,80.9L241.5,80.2L244.5,79.5L247.4,78.7L250.4,78.0L253.4,77.3L256.4,76.6L259.4,75.8L262.4,75.1L265.4,74.3L268.3,73.6L271.3,72.9L274.3,72.1L277.3,71.4L277.3,82.2L274.3,82.5L271.3,82.8L268.3,83.1L265.4,83.5L262.4,83.8L259.4,84.1L256.4,84.4L253.4,84.7L250.4,85.0L247.4,85.4L244.5,85.7L241.5,86.0L238.5,86.4L235.5,86.8L232.5,87.1L229.5,87.5L226.6,87.9L223.6,88.4L220.6,88.8L217.6,89.3L214.6,89.8L211.6,90.4L208.6,90.9L205.7,91.5L202.7,92.2L199.7,92.8L196.7,93.5L193.7,94.1L190.7,94.8L187.8,95.5L184.8,96.2L181.8,97.0L178.8,97.7L175.8,98.4L172.8,99.1L169.8,99.9L166.9,100.6L163.9,101.4L160.9,102.1L157.9,102.9Z" fill="#c8c8c8" fill-opacity="0.85"/>
<line x1="157.9" y1="97.8" x2="277.3" y2="76.8" stroke="#f3a35c" stroke-width="1.1"/>
<g fill="#c090e0" stroke="#9040c0" stroke-width="0.3"><circle cx="185.8" cy="99.6" r="0.6"/><circle cx="213.2" cy="99.7" r="0.6"/><circle cx="209.5" cy="99.8" r="0.6"/><circle cx="241.1" cy="99.8" r="0.6"/><circle cx="186.6" cy="100.0" r="0.6"/><circle cx="195.0" cy="99.9" r="0.6"/><circle cx="208.4" cy="100.0" r="0.6"/><circle cx="222.4" cy="99.8" r="0.6"/><circle cx="240.5" cy="99.8" r="0.6"/><circle cx="176.4" cy="99.7" r="0.6"/><circle cx="242.6" cy="99.8" r="0.6"/><circle cx="245.0" cy="100.0" r="0.6"/><circle cx="186.6" cy="100.0" r="0.6"/><circle cx="214.8" cy="99.8" r="0.6"/><circle cx="256.1" cy="99.9" r="0.6"/><circle cx="177.1" cy="99.8" r="0.6"/><circle cx="227.7" cy="99.8" r="0.6"/><circle cx="191.2" cy="99.6" r="0.6"/><circle cx="201.6" cy="99.7" r="0.6"/><circle cx="226.8" cy="99.7" r="0.6"/><circle cx="195.8" cy="99.9" r="0.6"/><circle cx="210.1" cy="100.0" r="0.6"/><circle cx="218.3" cy="99.8" r="0.6"/><circle cx="205.8" cy="99.8" r="0.6"/><circle cx="183.0" cy="99.6" r="0.6"/><circle cx="183.1" cy="99.7" r="0.6"/><circle cx="213.8" cy="99.9" r="0.6"/><circle cx="228.9" cy="100.0" r="0.6"/><circle cx="179.5" cy="99.7" r="0.6"/><circle cx="178.3" cy="99.7" r="0.6"/><circle cx="216.3" cy="99.7" r="0.6"/><circle cx="194.2" cy="99.6" r="0.6"/><circle cx="255.5" cy="99.9" r="0.6"/><circle cx="197.8" cy="99.7" r="0.6"/><circle cx="208.0" cy="99.7" r="0.6"/><circle cx="248.8" cy="99.7" r="0.6"/><circle cx="247.3" cy="99.7" r="0.6"/><circle cx="212.8" cy="99.6" r="0.6"/><circle cx="223.2" cy="99.7" r="0.6"/><circle cx="220.5" cy="100.0" r="0.6"/><circle cx="242.6" cy="100.0" r="0.6"/><circle cx="219.2" cy="99.8" r="0.6"/><circle cx="205.9" cy="99.7" r="0.6"/><circle cx="205.6" cy="100.0" r="0.6"/><circle cx="197.6" cy="99.7" r="0.6"/><circle cx="236.4" cy="99.9" r="0.6"/><circle cx="223.3" cy="99.6" r="0.6"/><circle cx="184.4" cy="99.9" r="0.6"/><circle cx="212.4" cy="100.0" r="0.6"/><circle cx="218.2" cy="99.7" r="0.6"/><circle cx="181.5" cy="99.8" r="0.6"/><circle cx="191.2" cy="99.9" r="0.6"/><circle cx="184.2" cy="99.9" r="0.6"/><circle cx="186.1" cy="99.9" r="0.6"/><circle cx="198.9" cy="99.8" r="0.6"/><circle cx="207.0" cy="99.9" r="0.6"/><circle cx="231.6" cy="99.6" r="0.6"/><circle cx="191.1" cy="99.8" r="0.6"/><circle cx="238.8" cy="99.7" r="0.6"/><circle cx="222.5" cy="99.8" r="0.6"/><circle cx="213.1" cy="100.0" r="0.6"/><circle cx="238.1" cy="99.6" r="0.6"/><circle cx="182.3" cy="99.6" r="0.6"/><circle cx="217.7" cy="99.9" r="0.6"/><circle cx="222.8" cy="99.6" r="0.6"/><circle cx="189.4" cy="99.8" r="0.6"/><circle cx="237.6" cy="100.0" r="0.6"/><circle cx="240.8" cy="100.0" r="0.6"/><circle cx="240.7" cy="99.6" r="0.6"/><circle cx="187.7" cy="99.8" r="0.6"/><circle cx="192.2" cy="99.8" r="0.6"/><circle cx="212.0" cy="99.8" r="0.6"/><circle cx="207.0" cy="99.8" r="0.6"/><circle cx="184.1" cy="99.8" r="0.6"/><circle cx="177.8" cy="99.7" r="0.6"/><circle cx="213.0" cy="99.6" r="0.6"/><circle cx="210.1" cy="99.8" r="0.6"/><circle cx="228.9" cy="99.6" r="0.6"/><circle cx="193.9" cy="99.8" r="0.6"/><circle cx="203.4" cy="99.9" r="0.6"/><circle cx="215.9" cy="99.6" r="0.6"/><circle cx="211.5" cy="100.0" r="0.6"/><circle cx="180.2" cy="99.9" r="0.6"/><circle cx="184.2" cy="100.0" r="0.6"/><circle cx="206.1" cy="99.9" r="0.6"/><circle cx="192.7" cy="99.6" r="0.6"/><circle cx="206.6" cy="99.6" r="0.6"/><circle cx="181.4" cy="99.8" r="0.6"/><circle cx="249.1" cy="99.6" r="0.6"/><circle cx="209.4" cy="99.6" r="0.6"/><circle cx="232.8" cy="99.8" r="0.6"/><circle cx="253.8" cy="99.6" r="0.6"/><circle cx="253.9" cy="100.0" r="0.6"/><circle cx="237.3" cy="99.7" r="0.6"/><circle cx="195.4" cy="99.7" r="0.6"/><circle cx="222.2" cy="100.0" r="0.6"/><circle cx="234.8" cy="99.6" r="0.6"/><circle cx="179.5" cy="99.7" r="0.6"/><circle cx="191.5" cy="99.7" r="0.6"/><circle cx="216.6" cy="99.6" r="0.6"/><circle cx="245.1" cy="99.8" r="0.6"/><circle cx="176.9" cy="100.0" r="0.6"/><circle cx="195.6" cy="99.8" r="0.6"/><circle cx="232.5" cy="99.8" r="0.6"/><circle cx="232.0" cy="99.9" r="0.6"/><circle cx="203.8" cy="99.8" r="0.6"/><circle cx="177.4" cy="99.7" r="0.6"/><circle cx="230.9" cy="99.7" r="0.6"/><circle cx="233.4" cy="99.8" r="0.6"/><circle cx="176.2" cy="99.9" r="0.6"/><circle cx="221.9" cy="100.0" r="0.6"/><circle cx="204.8" cy="99.7" r="0.6"/><circle cx="220.9" cy="99.6" r="0.6"/><circle cx="187.4" cy="99.8" r="0.6"/><circle cx="217.9" cy="99.8" r="0.6"/><circle cx="215.2" cy="99.6" r="0.6"/><circle cx="188.2" cy="100.0" r="0.6"/><circle cx="207.9" cy="99.9" r="0.6"/><circle cx="218.7" cy="99.8" r="0.6"/><circle cx="201.7" cy="99.9" r="0.6"/><circle cx="201.7" cy="99.6" r="0.6"/><circle cx="213.6" cy="99.7" r="0.6"/><circle cx="214.9" cy="99.6" r="0.6"/><circle cx="179.0" cy="99.6" r="0.6"/><circle cx="190.3" cy="99.7" r="0.6"/><circle cx="233.4" cy="99.8" r="0.6"/><circle cx="211.6" cy="99.6" r="0.6"/><circle cx="183.0" cy="99.7" r="0.6"/><circle cx="198.2" cy="100.0" r="0.6"/><circle cx="187.3" cy="99.9" r="0.6"/><circle cx="225.4" cy="93.4" r="0.6"/><circle cx="192.0" cy="94.2" r="0.6"/><circle cx="191.0" cy="79.0" r="0.6"/><circle cx="234.9" cy="99.1" r="0.6"/><circle cx="221.0" cy="86.3" r="0.6"/><circle cx="228.8" cy="80.1" r="0.6"/><circle cx="213.9" cy="97.8" r="0.6"/><circle cx="213.4" cy="91.7" r="0.6"/><circle cx="189.0" cy="93.2" r="0.6"/><circle cx="167.7" cy="79.7" r="0.6"/><circle cx="236.6" cy="67.7" r="0.6"/><circle cx="209.8" cy="77.1" r="0.6"/><circle cx="252.3" cy="95.1" r="0.6"/><circle cx="215.4" cy="96.1" r="0.6"/><circle cx="270.7" cy="94.1" r="0.6"/><circle cx="253.9" cy="86.3" r="0.6"/><circle cx="243.7" cy="95.6" r="0.6"/><circle cx="187.6" cy="99.2" r="0.6"/><circle cx="222.6" cy="81.0" r="0.6"/><circle cx="234.7" cy="81.3" r="0.6"/><circle cx="224.5" cy="94.9" r="0.6"/><circle cx="217.9" cy="83.0" r="0.6"/><circle cx="159.3" cy="91.9" r="0.6"/><circle cx="232.9" cy="23.5" r="0.6"/><circle cx="203.6" cy="86.9" r="0.6"/><circle cx="163.5" cy="97.9" r="0.6"/><circle cx="202.1" cy="94.8" r="0.6"/><circle cx="214.5" cy="64.4" r="0.6"/><circle cx="203.7" cy="91.2" r="0.6"/><circle cx="218.2" cy="98.2" r="0.6"/><circle cx="244.9" cy="85.8" r="0.6"/><circle cx="217.0" cy="72.6" r="0.6"/><circle cx="231.4" cy="84.9" r="0.6"/><circle cx="261.4" cy="87.7" r="0.6"/><circle cx="257.5" cy="96.1" r="0.6"/><circle cx="218.5" cy="84.5" r="0.6"/><circle cx="217.0" cy="91.8" r="0.6"/><circle cx="212.8" cy="61.7" r="0.6"/><circle cx="202.0" cy="76.3" r="0.6"/><circle cx="259.4" cy="83.6" r="0.6"/><circle cx="252.1" cy="97.9" r="0.6"/><circle cx="212.6" cy="74.5" r="0.6"/><circle cx="213.3" cy="98.0" r="0.6"/><circle cx="188.3" cy="95.2" r="0.6"/><circle cx="194.3" cy="41.1" r="0.6"/><circle cx="209.9" cy="97.1" r="0.6"/><circle cx="211.1" cy="80.8" r="0.6"/><circle cx="225.7" cy="75.6" r="0.6"/><circle cx="212.9" cy="69.8" r="0.6"/><circle cx="237.9" cy="87.1" r="0.6"/><circle cx="230.2" cy="79.6" r="0.6"/><circle cx="203.5" cy="90.0" r="0.6"/><circle cx="238.5" cy="85.8" r="0.6"/><circle cx="199.3" cy="94.0" r="0.6"/><circle cx="216.6" cy="97.5" r="0.6"/><circle cx="178.5" cy="87.0" r="0.6"/><circle cx="212.5" cy="98.4" r="0.6"/><circle cx="172.1" cy="87.9" r="0.6"/><circle cx="198.0" cy="93.8" r="0.6"/><circle cx="218.6" cy="78.1" r="0.6"/><circle cx="188.4" cy="99.3" r="0.6"/><circle cx="236.5" cy="98.2" r="0.6"/><circle cx="227.6" cy="96.5" r="0.6"/><circle cx="252.5" cy="94.6" r="0.6"/><circle cx="195.4" cy="97.8" r="0.6"/><circle cx="208.4" cy="96.8" r="0.6"/><circle cx="174.0" cy="88.5" r="0.6"/><circle cx="206.2" cy="97.8" r="0.6"/><circle cx="204.6" cy="99.1" r="0.6"/><circle cx="224.0" cy="93.9" r="0.6"/><circle cx="195.1" cy="98.8" r="0.6"/><circle cx="201.7" cy="88.9" r="0.6"/><circle cx="197.7" cy="93.6" r="0.6"/><circle cx="208.7" cy="94.1" r="0.6"/><circle cx="219.0" cy="66.5" r="0.6"/><circle cx="264.9" cy="73.7" r="0.6"/><circle cx="193.7" cy="76.9" r="0.6"/><circle cx="189.4" cy="82.3" r="0.6"/><circle cx="188.5" cy="55.8" r="0.6"/><circle cx="187.6" cy="81.8" r="0.6"/><circle cx="193.6" cy="74.2" r="0.6"/><circle cx="208.0" cy="86.8" r="0.6"/><circle cx="211.9" cy="93.7" r="0.6"/><circle cx="218.3" cy="89.1" r="0.6"/><circle cx="218.5" cy="57.5" r="0.6"/><circle cx="168.7" cy="96.8" r="0.6"/><circle cx="196.1" cy="94.0" r="0.6"/><circle cx="249.7" cy="81.9" r="0.6"/><circle cx="202.4" cy="94.7" r="0.6"/><circle cx="201.7" cy="96.4" r="0.6"/><circle cx="193.1" cy="97.1" r="0.6"/><circle cx="218.0" cy="92.7" r="0.6"/><circle cx="222.8" cy="72.1" r="0.6"/><circle cx="189.8" cy="85.6" r="0.6"/><circle cx="206.3" cy="64.9" r="0.6"/><circle cx="209.8" cy="45.3" r="0.6"/><circle cx="268.9" cy="93.5" r="0.6"/><circle cx="247.9" cy="65.5" r="0.6"/><circle cx="227.6" cy="93.2" r="0.6"/><circle cx="205.9" cy="97.6" r="0.6"/><circle cx="229.9" cy="84.7" r="0.6"/><circle cx="198.8" cy="92.3" r="0.6"/><circle cx="269.4" cy="97.5" r="0.6"/><circle cx="177.8" cy="97.5" r="0.6"/><circle cx="249.1" cy="79.7" r="0.6"/><circle cx="206.1" cy="60.1" r="0.6"/><circle cx="183.5" cy="97.3" r="0.6"/><circle cx="203.8" cy="92.2" r="0.6"/><circle cx="194.4" cy="91.7" r="0.6"/><circle cx="206.7" cy="92.9" r="0.6"/><circle cx="225.0" cy="68.8" r="0.6"/><circle cx="193.4" cy="95.9" r="0.6"/><circle cx="195.9" cy="94.6" r="0.6"/><circle cx="189.1" cy="79.0" r="0.6"/><circle cx="226.0" cy="76.9" r="0.6"/><circle cx="212.1" cy="98.4" r="0.6"/><circle cx="174.6" cy="54.1" r="0.6"/><circle cx="262.5" cy="64.1" r="0.6"/><circle cx="187.8" cy="48.4" r="0.6"/><circle cx="245.4" cy="98.5" r="0.6"/><circle cx="231.9" cy="63.1" r="0.6"/><circle cx="177.6" cy="91.3" r="0.6"/><circle cx="186.7" cy="90.1" r="0.6"/><circle cx="179.8" cy="82.3" r="0.6"/><circle cx="214.6" cy="96.0" r="0.6"/><circle cx="220.4" cy="42.5" r="0.6"/><circle cx="165.5" cy="51.9" r="0.6"/><circle cx="234.9" cy="65.8" r="0.6"/><circle cx="193.4" cy="86.7" r="0.6"/><circle cx="206.7" cy="79.5" r="0.6"/><circle cx="211.9" cy="98.6" r="0.6"/><circle cx="206.7" cy="99.0" r="0.6"/><circle cx="213.1" cy="93.1" r="0.6"/><circle cx="238.0" cy="80.1" r="0.6"/><circle cx="214.8" cy="93.6" r="0.6"/><circle cx="192.6" cy="69.5" r="0.6"/><circle cx="210.7" cy="94.0" r="0.6"/><circle cx="207.1" cy="76.0" r="0.6"/><circle cx="196.7" cy="92.2" r="0.6"/><circle cx="209.2" cy="84.2" r="0.6"/><circle cx="221.4" cy="74.6" r="0.6"/><circle cx="230.2" cy="92.7" r="0.6"/><circle cx="252.5" cy="56.6" r="0.6"/><circle cx="212.9" cy="96.9" r="0.6"/><circle cx="213.4" cy="49.3" r="0.6"/><circle cx="207.6" cy="67.7" r="0.6"/><circle cx="195.7" cy="71.1" r="0.6"/><circle cx="211.9" cy="89.2" r="0.6"/><circle cx="208.4" cy="96.0" r="0.6"/><circle cx="212.1" cy="92.5" r="0.6"/><circle cx="238.0" cy="70.3" r="0.6"/><circle cx="202.4" cy="97.1" r="0.6"/><circle cx="223.7" cy="91.0" r="0.6"/><circle cx="204.7" cy="86.0" r="0.6"/><circle cx="260.1" cy="81.6" r="0.6"/><circle cx="227.3" cy="83.6" r="0.6"/><circle cx="242.0" cy="98.7" r="0.6"/><circle cx="183.1" cy="97.2" r="0.6"/><circle cx="235.0" cy="56.9" r="0.6"/><circle cx="216.0" cy="83.7" r="0.6"/><circle cx="225.2" cy="42.4" r="0.6"/><circle cx="217.5" cy="94.0" r="0.6"/><circle cx="182.5" cy="96.1" r="0.6"/><circle cx="229.4" cy="86.0" r="0.6"/><circle cx="220.0" cy="95.6" r="0.6"/><circle cx="227.6" cy="95.6" r="0.6"/><circle cx="211.9" cy="92.3" r="0.6"/><circle cx="234.9" cy="96.6" r="0.6"/><circle cx="206.5" cy="82.0" r="0.6"/><circle cx="237.2" cy="96.1" r="0.6"/><circle cx="227.5" cy="49.1" r="0.6"/><circle cx="185.6" cy="57.2" r="0.6"/><circle cx="224.3" cy="85.1" r="0.6"/><circle cx="239.4" cy="71.6" r="0.6"/><circle cx="211.8" cy="91.7" r="0.6"/><circle cx="202.3" cy="86.2" r="0.6"/><circle cx="275.7" cy="97.3" r="0.6"/><circle cx="178.2" cy="97.4" r="0.6"/><circle cx="197.0" cy="90.5" r="0.6"/><circle cx="198.1" cy="83.7" r="0.6"/><circle cx="218.5" cy="90.4" r="0.6"/><circle cx="187.5" cy="86.5" r="0.6"/><circle cx="195.5" cy="79.0" r="0.6"/><circle cx="219.5" cy="68.0" r="0.6"/><circle cx="200.8" cy="90.3" r="0.6"/><circle cx="216.6" cy="92.9" r="0.6"/><circle cx="229.6" cy="98.6" r="0.6"/><circle cx="199.0" cy="96.5" r="0.6"/><circle cx="222.2" cy="66.9" r="0.6"/><circle cx="204.2" cy="91.8" r="0.6"/><circle cx="172.5" cy="72.1" r="0.6"/><circle cx="202.3" cy="97.8" r="0.6"/><circle cx="199.3" cy="57.6" r="0.6"/><circle cx="204.4" cy="79.5" r="0.6"/><circle cx="212.4" cy="49.1" r="0.6"/><circle cx="236.0" cy="56.5" r="0.6"/><circle cx="213.8" cy="96.1" r="0.6"/><circle cx="206.0" cy="86.9" r="0.6"/><circle cx="221.1" cy="99.3" r="0.6"/><circle cx="242.1" cy="91.0" r="0.6"/><circle cx="166.6" cy="93.7" r="0.6"/><circle cx="220.0" cy="68.3" r="0.6"/><circle cx="213.2" cy="91.3" r="0.6"/><circle cx="217.7" cy="96.9" r="0.6"/><circle cx="257.6" cy="62.3" r="0.6"/><circle cx="200.1" cy="96.2" r="0.6"/><circle cx="252.1" cy="94.9" r="0.6"/><circle cx="173.8" cy="76.6" r="0.6"/><circle cx="202.1" cy="84.2" r="0.6"/><circle cx="224.8" cy="93.9" r="0.6"/><circle cx="201.5" cy="85.3" r="0.6"/><circle cx="247.1" cy="99.2" r="0.6"/><circle cx="243.5" cy="98.1" r="0.6"/><circle cx="218.6" cy="97.9" r="0.6"/><circle cx="269.5" cy="82.6" r="0.6"/><circle cx="188.4" cy="64.7" r="0.6"/><circle cx="192.0" cy="99.4" r="0.6"/><circle cx="159.9" cy="93.1" r="0.6"/><circle cx="197.9" cy="95.2" r="0.6"/><circle cx="230.0" cy="94.2" r="0.6"/><circle cx="210.6" cy="64.9" r="0.6"/><circle cx="186.8" cy="95.9" r="0.6"/><circle cx="234.6" cy="94.4" r="0.6"/><circle cx="239.4" cy="98.2" r="0.6"/><circle cx="196.6" cy="90.5" r="0.6"/><circle cx="222.2" cy="97.8" r="0.6"/><circle cx="176.3" cy="92.8" r="0.6"/><circle cx="205.4" cy="95.6" r="0.6"/><circle cx="228.9" cy="74.8" r="0.6"/><circle cx="170.4" cy="92.6" r="0.6"/><circle cx="198.2" cy="74.5" r="0.6"/><circle cx="235.8" cy="96.5" r="0.6"/><circle cx="214.0" cy="95.2" r="0.6"/><circle cx="211.5" cy="71.0" r="0.6"/><circle cx="197.4" cy="87.7" r="0.6"/><circle cx="216.8" cy="98.5" r="0.6"/><circle cx="209.2" cy="98.9" r="0.6"/><circle cx="241.0" cy="98.6" r="0.6"/><circle cx="210.7" cy="94.8" r="0.6"/><circle cx="201.2" cy="94.3" r="0.6"/><circle cx="228.4" cy="95.7" r="0.6"/><circle cx="213.3" cy="97.8" r="0.6"/><circle cx="239.6" cy="87.1" r="0.6"/><circle cx="218.5" cy="85.7" r="0.6"/><circle cx="198.4" cy="83.8" r="0.6"/><circle cx="203.0" cy="97.4" r="0.6"/><circle cx="235.5" cy="86.5" r="0.6"/><circle cx="255.9" cy="96.1" r="0.6"/><circle cx="207.1" cy="91.9" r="0.6"/><circle cx="192.7" cy="54.8" r="0.6"/><circle cx="211.8" cy="71.0" r="0.6"/><circle cx="196.1" cy="80.5" r="0.6"/><circle cx="218.9" cy="89.5" r="0.6"/><circle cx="201.8" cy="51.3" r="0.6"/><circle cx="163.3" cy="78.7" r="0.6"/><circle cx="221.8" cy="82.3" r="0.6"/><circle cx="243.5" cy="96.8" r="0.6"/><circle cx="232.9" cy="73.9" r="0.6"/><circle cx="211.6" cy="99.2" r="0.6"/><circle cx="216.8" cy="98.2" r="0.6"/><circle cx="215.3" cy="98.4" r="0.6"/><circle cx="248.2" cy="65.2" r="0.6"/><circle cx="232.1" cy="77.9" r="0.6"/><circle cx="231.1" cy="96.8" r="0.6"/><circle cx="173.5" cy="92.8" r="0.6"/><circle cx="228.1" cy="96.5" r="0.6"/><circle cx="217.6" cy="91.0" r="0.6"/><circle cx="233.7" cy="83.6" r="0.6"/><circle cx="202.2" cy="84.9" r="0.6"/><circle cx="210.4" cy="96.1" r="0.6"/><circle cx="219.9" cy="96.4" r="0.6"/><circle cx="191.3" cy="85.2" r="0.6"/><circle cx="210.9" cy="86.6" r="0.6"/><circle cx="251.1" cy="92.1" r="0.6"/><circle cx="244.8" cy="96.2" r="0.6"/><circle cx="241.0" cy="97.7" r="0.6"/><circle cx="219.0" cy="80.5" r="0.6"/><circle cx="217.6" cy="91.9" r="0.6"/><circle cx="227.6" cy="98.3" r="0.6"/><circle cx="254.5" cy="98.3" r="0.6"/></g>
<text x="283.34" y="14.4" font-size="9.6" fill="#1a1a1a" stroke="#1a1a1a" stroke-width="0.2">C</text>
<line x1="304.5" y1="10.2" x2="304.5" y2="109.8" stroke="#8a8a8a" stroke-width="0.9"/>
<line x1="302.9" y1="12.5" x2="304.5" y2="12.5" stroke="#8a8a8a" stroke-width="0.5"/>
<text x="301.5" y="13.9" font-size="4.2" text-anchor="end" fill="#555" stroke="#555" stroke-width="0.12">6</text>
<line x1="302.9" y1="43.6" x2="304.5" y2="43.6" stroke="#8a8a8a" stroke-width="0.5"/>
<text x="301.5" y="45" font-size="4.2" text-anchor="end" fill="#555" stroke="#555" stroke-width="0.12">4</text>
<line x1="302.9" y1="75.8" x2="304.5" y2="75.8" stroke="#8a8a8a" stroke-width="0.5"/>
<text x="301.5" y="77.2" font-size="4.2" text-anchor="end" fill="#555" stroke="#555" stroke-width="0.12">2</text>
<line x1="302.9" y1="107.9" x2="304.5" y2="107.9" stroke="#8a8a8a" stroke-width="0.5"/>
<text x="301.5" y="109.3" font-size="4.2" text-anchor="end" fill="#555" stroke="#555" stroke-width="0.12">0</text>
<line x1="304.05" y1="109.8" x2="412.7" y2="109.8" stroke="#8a8a8a" stroke-width="0.9"/>
<line x1="333.7" y1="109.8" x2="333.7" y2="111.1" stroke="#8a8a8a" stroke-width="0.45"/>
<line x1="383.3" y1="109.8" x2="383.3" y2="111.1" stroke="#8a8a8a" stroke-width="0.45"/>
<text x="293.2" y="62.3" font-size="4.8" text-anchor="middle" fill="#333" stroke="#333" stroke-width="0.12" transform="rotate(-90 293.2 62.3)">MTA2 expression</text>
<text x="333.7" y="116.2" font-size="4.0" text-anchor="middle" fill="#222" stroke="#222" stroke-width="0.12">AFP+</text>
<text x="383.3" y="116.2" font-size="4.0" text-anchor="middle" fill="#222" stroke="#222" stroke-width="0.12">AFP−</text>
<text x="343" y="16.8" font-size="7.0" fill="#1a1a1a" stroke="#1a1a1a" stroke-width="0.15" textLength="29" lengthAdjust="spacingAndGlyphs">P = 0.002</text>
<path d="M334.4,15.2L334.6,30L335.3,40L336.3,47L335.5,52L336.1,60.2L352.9,80.5L340.8,97.4L327.4,97.4L315.3,80.5L332.1,60.2L332.7,52L331.9,47L332.9,40L333.6,30L333.8,15.2Z" fill="#f5a6d8" stroke="#141414" stroke-width="0.85" stroke-linejoin="round"/>
<path d="M315.3,75.7L352.7,75.7L352.7,79.5L343.35,82.1L352.7,84.7L352.7,87.8L315.3,87.8L315.3,84.7L324.65,82.1L315.3,79.5Z" fill="#f67ac2" stroke="#141414" stroke-width="0.85"/>
<line x1="324.65" y1="82.1" x2="343.35" y2="82.1" stroke="#141414" stroke-width="1.0"/>
<g fill="#ea62ae" stroke="#1a0610" stroke-width="0.2"><circle cx="336.0" cy="25.2" r="1.0"/><circle cx="333.9" cy="44.9" r="1.0"/><circle cx="337.0" cy="27.6" r="1.0"/><circle cx="334.2" cy="51.3" r="1.0"/><circle cx="331.5" cy="39.9" r="1.0"/><circle cx="332.8" cy="15.4" r="1.0"/><circle cx="329.8" cy="43.0" r="1.0"/><circle cx="331.4" cy="50.7" r="1.0"/><circle cx="326.2" cy="68.8" r="1.0"/><circle cx="336.5" cy="97.9" r="1.0"/><circle cx="336.2" cy="93.5" r="1.0"/><circle cx="332.4" cy="59.9" r="1.0"/><circle cx="325.6" cy="79.3" r="1.0"/><circle cx="332.2" cy="96.3" r="1.0"/><circle cx="337.9" cy="65.5" r="1.0"/><circle cx="338.4" cy="64.2" r="1.0"/><circle cx="335.2" cy="77.6" r="1.0"/><circle cx="333.8" cy="73.3" r="1.0"/><circle cx="327.5" cy="66.8" r="1.0"/><circle cx="329.2" cy="93.1" r="1.0"/><circle cx="327.7" cy="90.0" r="1.0"/><circle cx="339.4" cy="96.9" r="1.0"/><circle cx="339.9" cy="89.1" r="1.0"/><circle cx="339.2" cy="82.5" r="1.0"/><circle cx="333.9" cy="64.0" r="1.0"/><circle cx="328.0" cy="91.7" r="1.0"/><circle cx="340.2" cy="95.2" r="1.0"/><circle cx="331.1" cy="75.9" r="1.0"/><circle cx="331.6" cy="77.5" r="1.0"/><circle cx="333.0" cy="97.8" r="1.0"/><circle cx="330.0" cy="59.5" r="1.0"/><circle cx="344.9" cy="87.7" r="1.0"/><circle cx="333.9" cy="79.3" r="1.0"/><circle cx="339.6" cy="81.4" r="1.0"/><circle cx="335.9" cy="68.3" r="1.0"/><circle cx="336.8" cy="81.6" r="1.0"/><circle cx="329.5" cy="66.6" r="1.0"/><circle cx="343.5" cy="73.5" r="1.0"/><circle cx="336.2" cy="73.4" r="1.0"/><circle cx="325.4" cy="71.8" r="1.0"/><circle cx="337.2" cy="61.4" r="1.0"/><circle cx="331.3" cy="89.9" r="1.0"/><circle cx="338.0" cy="86.4" r="1.0"/><circle cx="341.8" cy="94.3" r="1.0"/><circle cx="344.9" cy="75.8" r="1.0"/><circle cx="335.3" cy="96.6" r="1.0"/><circle cx="333.9" cy="93.8" r="1.0"/><circle cx="328.5" cy="74.6" r="1.0"/><circle cx="328.0" cy="93.5" r="1.0"/><circle cx="337.2" cy="61.6" r="1.0"/><circle cx="333.7" cy="89.8" r="1.0"/><circle cx="325.2" cy="92.1" r="1.0"/><circle cx="330.1" cy="69.8" r="1.0"/><circle cx="326.9" cy="76.3" r="1.0"/><circle cx="332.5" cy="61.6" r="1.0"/><circle cx="342.3" cy="94.4" r="1.0"/><circle cx="333.6" cy="88.7" r="1.0"/><circle cx="342.6" cy="69.6" r="1.0"/><circle cx="339.1" cy="80.4" r="1.0"/><circle cx="331.2" cy="59.6" r="1.0"/><circle cx="340.0" cy="92.1" r="1.0"/><circle cx="335.9" cy="93.7" r="1.0"/><circle cx="335.9" cy="76.6" r="1.0"/><circle cx="330.4" cy="92.5" r="1.0"/><circle cx="329.2" cy="80.8" r="1.0"/><circle cx="323.3" cy="89.6" r="1.0"/><circle cx="344.1" cy="86.5" r="1.0"/><circle cx="335.0" cy="59.4" r="1.0"/><circle cx="341.8" cy="84.9" r="1.0"/><circle cx="328.8" cy="82.7" r="1.0"/><circle cx="344.2" cy="75.8" r="1.0"/><circle cx="328.0" cy="94.6" r="1.0"/><circle cx="330.0" cy="62.8" r="1.0"/><circle cx="333.6" cy="59.5" r="1.0"/><circle cx="338.2" cy="64.9" r="1.0"/><circle cx="325.9" cy="85.3" r="1.0"/><circle cx="330.2" cy="80.9" r="1.0"/><circle cx="327.9" cy="79.2" r="1.0"/><circle cx="330.0" cy="65.9" r="1.0"/><circle cx="338.7" cy="74.7" r="1.0"/><circle cx="324.1" cy="81.4" r="1.0"/><circle cx="342.3" cy="87.4" r="1.0"/><circle cx="340.5" cy="89.8" r="1.0"/><circle cx="333.7" cy="58.5" r="1.0"/><circle cx="336.7" cy="61.3" r="1.0"/><circle cx="336.9" cy="66.3" r="1.0"/><circle cx="337.8" cy="69.6" r="1.0"/><circle cx="324.0" cy="72.1" r="1.0"/><circle cx="329.9" cy="75.1" r="1.0"/><circle cx="330.7" cy="94.4" r="1.0"/><circle cx="335.2" cy="79.6" r="1.0"/><circle cx="328.3" cy="96.1" r="1.0"/><circle cx="334.3" cy="83.3" r="1.0"/><circle cx="344.4" cy="88.3" r="1.0"/><circle cx="338.5" cy="71.9" r="1.0"/><circle cx="335.4" cy="80.4" r="1.0"/><circle cx="337.2" cy="61.4" r="1.0"/><circle cx="332.2" cy="97.2" r="1.0"/><circle cx="345.0" cy="72.3" r="1.0"/><circle cx="329.9" cy="63.4" r="1.0"/><circle cx="337.2" cy="61.8" r="1.0"/><circle cx="333.0" cy="89.2" r="1.0"/><circle cx="323.5" cy="84.1" r="1.0"/><circle cx="332.8" cy="84.9" r="1.0"/><circle cx="331.7" cy="80.1" r="1.0"/><circle cx="328.1" cy="75.6" r="1.0"/><circle cx="333.4" cy="60.6" r="1.0"/><circle cx="337.8" cy="69.4" r="1.0"/></g>
<path d="M383.9,39.5L384.8,56L385.5,67.5L403.3,80.2L405.9,85.9L389.3,98L377.3,98L360.7,85.9L363.3,80.2L381.1,67.5L381.8,56L382.7,39.5Z" fill="#9ddbd5" stroke="#141414" stroke-width="0.85" stroke-linejoin="round"/>
<path d="M364,80.8L403.5,80.8L403.5,83.5L393.62,85.5L403.5,87.5L403.5,90.4L364,90.4L364,87.5L373.88,85.5L364,83.5Z" fill="#3bb2ac" stroke="#141414" stroke-width="0.85"/>
<line x1="373.88" y1="85.5" x2="393.62" y2="85.5" stroke="#141414" stroke-width="1.0"/>
<g fill="#0f7f72" stroke="#03302a" stroke-width="0.2"><circle cx="379.0" cy="69.0" r="1.0"/><circle cx="389.3" cy="40.5" r="1.0"/><circle cx="378.7" cy="47.0" r="1.0"/><circle cx="381.4" cy="61.0" r="1.0"/><circle cx="380.1" cy="67.2" r="1.0"/><circle cx="381.1" cy="69.0" r="1.0"/><circle cx="388.5" cy="59.6" r="1.0"/><circle cx="388.4" cy="61.9" r="1.0"/><circle cx="377.9" cy="62.5" r="1.0"/><circle cx="384.4" cy="67.0" r="1.0"/><circle cx="379.6" cy="51.2" r="1.0"/><circle cx="384.3" cy="66.2" r="1.0"/><circle cx="386.6" cy="68.5" r="1.0"/><circle cx="384.1" cy="69.0" r="1.0"/><circle cx="385.7" cy="89.6" r="1.0"/><circle cx="392.9" cy="77.2" r="1.0"/><circle cx="389.2" cy="78.7" r="1.0"/><circle cx="385.5" cy="96.7" r="1.0"/><circle cx="390.1" cy="74.0" r="1.0"/><circle cx="376.7" cy="88.7" r="1.0"/><circle cx="383.8" cy="71.4" r="1.0"/><circle cx="388.9" cy="70.9" r="1.0"/><circle cx="383.7" cy="84.2" r="1.0"/><circle cx="386.7" cy="81.5" r="1.0"/><circle cx="379.9" cy="95.7" r="1.0"/><circle cx="385.0" cy="80.5" r="1.0"/><circle cx="385.3" cy="78.3" r="1.0"/><circle cx="381.9" cy="85.2" r="1.0"/><circle cx="383.9" cy="88.9" r="1.0"/><circle cx="391.9" cy="72.5" r="1.0"/><circle cx="381.9" cy="80.0" r="1.0"/><circle cx="392.3" cy="81.3" r="1.0"/><circle cx="383.5" cy="96.7" r="1.0"/><circle cx="374.8" cy="81.2" r="1.0"/><circle cx="377.0" cy="95.1" r="1.0"/><circle cx="380.1" cy="85.3" r="1.0"/><circle cx="380.3" cy="79.2" r="1.0"/><circle cx="373.6" cy="75.4" r="1.0"/><circle cx="389.5" cy="85.0" r="1.0"/><circle cx="377.0" cy="88.1" r="1.0"/><circle cx="373.9" cy="89.4" r="1.0"/><circle cx="390.2" cy="81.5" r="1.0"/><circle cx="382.6" cy="95.8" r="1.0"/><circle cx="383.3" cy="93.7" r="1.0"/><circle cx="385.1" cy="84.7" r="1.0"/><circle cx="386.2" cy="97.8" r="1.0"/><circle cx="388.1" cy="83.2" r="1.0"/><circle cx="380.2" cy="88.0" r="1.0"/><circle cx="390.0" cy="92.0" r="1.0"/><circle cx="392.6" cy="87.0" r="1.0"/><circle cx="383.3" cy="70.5" r="1.0"/><circle cx="380.0" cy="87.8" r="1.0"/><circle cx="387.3" cy="74.8" r="1.0"/><circle cx="378.4" cy="82.2" r="1.0"/><circle cx="389.8" cy="71.2" r="1.0"/><circle cx="375.3" cy="79.9" r="1.0"/><circle cx="378.2" cy="76.1" r="1.0"/><circle cx="376.6" cy="94.3" r="1.0"/><circle cx="374.8" cy="77.7" r="1.0"/><circle cx="377.2" cy="83.2" r="1.0"/><circle cx="388.2" cy="79.6" r="1.0"/><circle cx="388.9" cy="95.9" r="1.0"/><circle cx="381.6" cy="71.1" r="1.0"/><circle cx="373.5" cy="93.8" r="1.0"/><circle cx="383.1" cy="75.7" r="1.0"/><circle cx="388.6" cy="80.7" r="1.0"/><circle cx="382.6" cy="90.1" r="1.0"/><circle cx="377.6" cy="77.0" r="1.0"/><circle cx="374.2" cy="77.5" r="1.0"/><circle cx="376.1" cy="88.6" r="1.0"/><circle cx="386.1" cy="94.9" r="1.0"/><circle cx="383.3" cy="71.6" r="1.0"/><circle cx="373.7" cy="86.9" r="1.0"/><circle cx="373.4" cy="83.6" r="1.0"/><circle cx="372.9" cy="91.5" r="1.0"/><circle cx="393.5" cy="87.7" r="1.0"/><circle cx="377.7" cy="93.7" r="1.0"/><circle cx="375.7" cy="85.0" r="1.0"/><circle cx="390.9" cy="79.6" r="1.0"/><circle cx="373.0" cy="92.9" r="1.0"/><circle cx="386.2" cy="80.6" r="1.0"/><circle cx="389.7" cy="74.9" r="1.0"/><circle cx="384.3" cy="95.0" r="1.0"/><circle cx="390.6" cy="80.1" r="1.0"/><circle cx="376.8" cy="84.4" r="1.0"/><circle cx="376.1" cy="77.8" r="1.0"/><circle cx="383.5" cy="93.5" r="1.0"/><circle cx="390.0" cy="89.5" r="1.0"/><circle cx="379.2" cy="97.3" r="1.0"/><circle cx="391.2" cy="81.4" r="1.0"/><circle cx="380.9" cy="91.3" r="1.0"/><circle cx="376.9" cy="88.4" r="1.0"/><circle cx="373.9" cy="74.5" r="1.0"/><circle cx="377.8" cy="80.6" r="1.0"/><circle cx="393.2" cy="84.5" r="1.0"/><circle cx="384.5" cy="74.3" r="1.0"/><circle cx="385.4" cy="94.2" r="1.0"/><circle cx="388.9" cy="84.8" r="1.0"/><circle cx="388.9" cy="70.6" r="1.0"/><circle cx="389.7" cy="89.2" r="1.0"/><circle cx="374.9" cy="93.1" r="1.0"/><circle cx="378.2" cy="71.9" r="1.0"/><circle cx="392.5" cy="84.1" r="1.0"/><circle cx="381.7" cy="95.5" r="1.0"/><circle cx="388.3" cy="87.4" r="1.0"/><circle cx="393.2" cy="79.3" r="1.0"/><circle cx="386.9" cy="96.4" r="1.0"/><circle cx="388.9" cy="95.2" r="1.0"/><circle cx="379.5" cy="88.3" r="1.0"/><circle cx="377.8" cy="77.9" r="1.0"/><circle cx="389.7" cy="71.6" r="1.0"/><circle cx="373.3" cy="78.4" r="1.0"/><circle cx="375.0" cy="78.9" r="1.0"/><circle cx="379.8" cy="82.5" r="1.0"/><circle cx="382.8" cy="74.9" r="1.0"/><circle cx="380.2" cy="81.6" r="1.0"/><circle cx="379.2" cy="92.8" r="1.0"/><circle cx="391.2" cy="85.2" r="1.0"/><circle cx="381.5" cy="96.9" r="1.0"/><circle cx="389.5" cy="71.1" r="1.0"/><circle cx="377.4" cy="84.4" r="1.0"/><circle cx="378.0" cy="73.6" r="1.0"/><circle cx="375.7" cy="78.7" r="1.0"/><circle cx="390.5" cy="71.4" r="1.0"/><circle cx="375.2" cy="93.0" r="1.0"/><circle cx="389.6" cy="83.5" r="1.0"/><circle cx="374.3" cy="84.1" r="1.0"/><circle cx="380.8" cy="79.5" r="1.0"/><circle cx="384.8" cy="95.6" r="1.0"/><circle cx="386.0" cy="82.9" r="1.0"/><circle cx="386.0" cy="71.4" r="1.0"/><circle cx="386.9" cy="92.6" r="1.0"/><circle cx="378.8" cy="80.1" r="1.0"/><circle cx="378.3" cy="70.3" r="1.0"/><circle cx="382.3" cy="74.3" r="1.0"/><circle cx="377.4" cy="91.8" r="1.0"/><circle cx="386.2" cy="83.2" r="1.0"/><circle cx="373.2" cy="87.6" r="1.0"/><circle cx="384.8" cy="95.8" r="1.0"/><circle cx="377.8" cy="78.5" r="1.0"/><circle cx="392.4" cy="89.3" r="1.0"/><circle cx="381.2" cy="79.4" r="1.0"/><circle cx="376.5" cy="85.6" r="1.0"/><circle cx="392.1" cy="81.4" r="1.0"/></g>
<text x="418.66" y="14.7" font-size="9.6" fill="#1a1a1a" stroke="#1a1a1a" stroke-width="0.2">D</text>
<text x="435.7" y="21.9" font-size="2.0" text-anchor="end" fill="#333" stroke="#333" stroke-width="0.12">MTA2</text>
<text x="440.2" y="17.9" font-size="2.0" fill="#333" stroke="#333" stroke-width="0.12" transform="rotate(-90 440.2 17.9)">MTA2</text>
<text x="439.42" y="25.62" font-size="2.0" text-anchor="end" fill="#333" stroke="#333" stroke-width="0.12">HLA-DMB</text>
<text x="443.92" y="17.9" font-size="2.0" fill="#333" stroke="#333" stroke-width="0.12" transform="rotate(-90 443.92 17.9)">HLA-DMB</text>
<text x="443.14" y="29.34" font-size="2.0" text-anchor="end" fill="#333" stroke="#333" stroke-width="0.12">HLA-F</text>
<text x="447.64" y="17.9" font-size="2.0" fill="#333" stroke="#333" stroke-width="0.12" transform="rotate(-90 447.64 17.9)">HLA-F</text>
<text x="446.86" y="33.06" font-size="2.0" text-anchor="end" fill="#333" stroke="#333" stroke-width="0.12">HLA-F</text>
<text x="451.36" y="17.9" font-size="2.0" fill="#333" stroke="#333" stroke-width="0.12" transform="rotate(-90 451.36 17.9)">HLA-F</text>
<text x="450.58" y="36.78" font-size="2.0" text-anchor="end" fill="#333" stroke="#333" stroke-width="0.12">HLA-L</text>
<text x="455.08" y="17.9" font-size="2.0" fill="#333" stroke="#333" stroke-width="0.12" transform="rotate(-90 455.08 17.9)">HLA-L</text>
<text x="454.3" y="40.5" font-size="2.0" text-anchor="end" fill="#333" stroke="#333" stroke-width="0.12">HLA-DPB2</text>
<text x="458.8" y="17.9" font-size="2.0" fill="#333" stroke="#333" stroke-width="0.12" transform="rotate(-90 458.8 17.9)">HLA-DPB2</text>
<text x="458.02" y="44.22" font-size="2.0" text-anchor="end" fill="#333" stroke="#333" stroke-width="0.12">HLA-B</text>
<text x="462.52" y="17.9" font-size="2.0" fill="#333" stroke="#333" stroke-width="0.12" transform="rotate(-90 462.52 17.9)">HLA-B</text>
<text x="461.74" y="47.94" font-size="2.0" text-anchor="end" fill="#333" stroke="#333" stroke-width="0.12">HLA-DRB1</text>
<text x="466.24" y="17.9" font-size="2.0" fill="#333" stroke="#333" stroke-width="0.12" transform="rotate(-90 466.24 17.9)">HLA-DRB1</text>
<text x="465.46" y="51.66" font-size="2.0" text-anchor="end" fill="#333" stroke="#333" stroke-width="0.12">HLA-DMA</text>
<text x="469.96" y="17.9" font-size="2.0" fill="#333" stroke="#333" stroke-width="0.12" transform="rotate(-90 469.96 17.9)">HLA-DMA</text>
<text x="469.18" y="55.38" font-size="2.0" text-anchor="end" fill="#333" stroke="#333" stroke-width="0.12">HLA-DOB</text>
<text x="473.68" y="17.9" font-size="2.0" fill="#333" stroke="#333" stroke-width="0.12" transform="rotate(-90 473.68 17.9)">HLA-DOB</text>
<text x="472.9" y="59.1" font-size="2.0" text-anchor="end" fill="#333" stroke="#333" stroke-width="0.12">HLA-DPB1</text>
<text x="477.4" y="17.9" font-size="2.0" fill="#333" stroke="#333" stroke-width="0.12" transform="rotate(-90 477.4 17.9)">HLA-DPB1</text>
<text x="476.62" y="62.82" font-size="2.0" text-anchor="end" fill="#333" stroke="#333" stroke-width="0.12">HLA-C</text>
<text x="481.12" y="17.9" font-size="2.0" fill="#333" stroke="#333" stroke-width="0.12" transform="rotate(-90 481.12 17.9)">HLA-C</text>
<text x="480.34" y="66.54" font-size="2.0" text-anchor="end" fill="#333" stroke="#333" stroke-width="0.12">HLA-J</text>
<text x="484.84" y="17.9" font-size="2.0" fill="#333" stroke="#333" stroke-width="0.12" transform="rotate(-90 484.84 17.9)">HLA-J</text>
<text x="484.06" y="70.26" font-size="2.0" text-anchor="end" fill="#333" stroke="#333" stroke-width="0.12">HLA-DQB1</text>
<text x="488.56" y="17.9" font-size="2.0" fill="#333" stroke="#333" stroke-width="0.12" transform="rotate(-90 488.56 17.9)">HLA-DQB1</text>
<text x="487.78" y="73.98" font-size="2.0" text-anchor="end" fill="#333" stroke="#333" stroke-width="0.12">HLA-E</text>
<text x="492.28" y="17.9" font-size="2.0" fill="#333" stroke="#333" stroke-width="0.12" transform="rotate(-90 492.28 17.9)">HLA-E</text>
<text x="491.5" y="77.7" font-size="2.0" text-anchor="end" fill="#333" stroke="#333" stroke-width="0.12">HLA-DPA1</text>
<text x="496" y="17.9" font-size="2.0" fill="#333" stroke="#333" stroke-width="0.12" transform="rotate(-90 496 17.9)">HLA-DPA1</text>
<text x="495.22" y="81.42" font-size="2.0" text-anchor="end" fill="#333" stroke="#333" stroke-width="0.12">HLA-G</text>
<text x="499.72" y="17.9" font-size="2.0" fill="#333" stroke="#333" stroke-width="0.12" transform="rotate(-90 499.72 17.9)">HLA-G</text>
<text x="498.94" y="85.14" font-size="2.0" text-anchor="end" fill="#333" stroke="#333" stroke-width="0.12">HLA-DRB6</text>
<text x="503.44" y="17.9" font-size="2.0" fill="#333" stroke="#333" stroke-width="0.12" transform="rotate(-90 503.44 17.9)">HLA-DRB6</text>
<text x="502.66" y="88.86" font-size="2.0" text-anchor="end" fill="#333" stroke="#333" stroke-width="0.12">HLA-DRA</text>
<text x="507.16" y="17.9" font-size="2.0" fill="#333" stroke="#333" stroke-width="0.12" transform="rotate(-90 507.16 17.9)">HLA-DRA</text>
<text x="506.38" y="92.58" font-size="2.0" text-anchor="end" fill="#333" stroke="#333" stroke-width="0.12">HLA-DOA</text>
<text x="510.88" y="17.9" font-size="2.0" fill="#333" stroke="#333" stroke-width="0.12" transform="rotate(-90 510.88 17.9)">HLA-DOA</text>
<text x="510.1" y="96.3" font-size="2.0" text-anchor="end" fill="#333" stroke="#333" stroke-width="0.12">HLA-DPB2</text>
<text x="514.6" y="17.9" font-size="2.0" fill="#333" stroke="#333" stroke-width="0.12" transform="rotate(-90 514.6 17.9)">HLA-DPB2</text>
<text x="513.82" y="100.02" font-size="2.0" text-anchor="end" fill="#333" stroke="#333" stroke-width="0.12">HLA-H</text>
<text x="518.32" y="17.9" font-size="2.0" fill="#333" stroke="#333" stroke-width="0.12" transform="rotate(-90 518.32 17.9)">HLA-H</text>
<text x="517.54" y="103.74" font-size="2.0" text-anchor="end" fill="#333" stroke="#333" stroke-width="0.12">HLA-DRB5</text>
<text x="522.04" y="17.9" font-size="2.0" fill="#333" stroke="#333" stroke-width="0.12" transform="rotate(-90 522.04 17.9)">HLA-DRB5</text>
<text x="521.26" y="107.46" font-size="2.0" text-anchor="end" fill="#333" stroke="#333" stroke-width="0.12">HLA-DQA1</text>
<text x="525.76" y="17.9" font-size="2.0" fill="#333" stroke="#333" stroke-width="0.12" transform="rotate(-90 525.76 17.9)">HLA-DQA1</text>
<text x="524.98" y="111.18" font-size="2.0" text-anchor="end" fill="#333" stroke="#333" stroke-width="0.12">HLA-DQA2</text>
<text x="529.48" y="17.9" font-size="2.0" fill="#333" stroke="#333" stroke-width="0.12" transform="rotate(-90 529.48 17.9)">HLA-DQA2</text>
<defs><radialGradient id="rgS"><stop offset="0" stop-color="#7a3a5a"/><stop offset="0.25" stop-color="#7a3a5a"/><stop offset="1" stop-color="#e8b0cc" stop-opacity="0.35"/></radialGradient><radialGradient id="rgM"><stop offset="0" stop-color="#a04070"/><stop offset="0.25" stop-color="#a04070"/><stop offset="1" stop-color="#e084b0" stop-opacity="1"/></radialGradient><radialGradient id="rgL"><stop offset="0" stop-color="#983868"/><stop offset="0.25" stop-color="#983868"/><stop offset="1" stop-color="#dc74a4" stop-opacity="1"/></radialGradient><radialGradient id="rgD"><stop offset="0" stop-color="#943060"/><stop offset="0.25" stop-color="#943060"/><stop offset="1" stop-color="#d86498" stop-opacity="1"/></radialGradient></defs>
<g fill="#f3d6e2"><circle cx="442.42" cy="21.20" r="1.0"/><circle cx="446.14" cy="21.20" r="1.0"/><circle cx="449.86" cy="21.20" r="1.0"/><circle cx="453.58" cy="21.20" r="1.0"/><circle cx="457.30" cy="21.20" r="1.0"/><circle cx="461.02" cy="21.20" r="1.0"/><circle cx="464.74" cy="21.20" r="1.0"/><circle cx="468.46" cy="21.20" r="1.0"/><circle cx="472.18" cy="21.20" r="1.0"/><circle cx="475.90" cy="21.20" r="1.0"/><circle cx="479.62" cy="21.20" r="1.0"/><circle cx="483.34" cy="21.20" r="1.0"/><circle cx="487.06" cy="21.20" r="1.0"/><circle cx="490.78" cy="21.20" r="1.0"/><circle cx="494.50" cy="21.20" r="1.0"/><circle cx="498.22" cy="21.20" r="1.0"/><circle cx="501.94" cy="21.20" r="1.0"/><circle cx="505.66" cy="21.20" r="1.0"/><circle cx="509.38" cy="21.20" r="1.0"/><circle cx="513.10" cy="21.20" r="1.0"/><circle cx="516.82" cy="21.20" r="1.0"/><circle cx="520.54" cy="21.20" r="1.0"/><circle cx="524.26" cy="21.20" r="1.0"/><circle cx="527.98" cy="21.20" r="1.0"/><circle cx="446.14" cy="24.92" r="1.0"/><circle cx="449.86" cy="24.92" r="1.0"/><circle cx="453.58" cy="24.92" r="1.0"/><circle cx="479.62" cy="24.92" r="1.0"/><circle cx="483.34" cy="24.92" r="1.0"/><circle cx="490.78" cy="24.92" r="1.0"/><circle cx="498.22" cy="24.92" r="1.0"/><circle cx="513.10" cy="24.92" r="1.0"/><circle cx="516.82" cy="24.92" r="1.0"/><circle cx="457.30" cy="28.64" r="1.0"/><circle cx="464.74" cy="28.64" r="1.0"/><circle cx="468.46" cy="28.64" r="1.0"/><circle cx="472.18" cy="28.64" r="1.0"/><circle cx="487.06" cy="28.64" r="1.0"/><circle cx="494.50" cy="28.64" r="1.0"/><circle cx="501.94" cy="28.64" r="1.0"/><circle cx="505.66" cy="28.64" r="1.0"/><circle cx="509.38" cy="28.64" r="1.0"/><circle cx="516.82" cy="28.64" r="1.0"/><circle cx="520.54" cy="28.64" r="1.0"/><circle cx="524.26" cy="28.64" r="1.0"/><circle cx="527.98" cy="28.64" r="1.0"/><circle cx="453.58" cy="32.36" r="1.0"/><circle cx="457.30" cy="32.36" r="1.0"/><circle cx="468.46" cy="32.36" r="1.0"/><circle cx="472.18" cy="32.36" r="1.0"/><circle cx="479.62" cy="32.36" r="1.0"/><circle cx="487.06" cy="32.36" r="1.0"/><circle cx="494.50" cy="32.36" r="1.0"/><circle cx="501.94" cy="32.36" r="1.0"/><circle cx="509.38" cy="32.36" r="1.0"/><circle cx="516.82" cy="32.36" r="1.0"/><circle cx="520.54" cy="32.36" r="1.0"/><circle cx="524.26" cy="32.36" r="1.0"/><circle cx="527.98" cy="32.36" r="1.0"/><circle cx="457.30" cy="36.08" r="1.0"/><circle cx="464.74" cy="36.08" r="1.0"/><circle cx="468.46" cy="36.08" r="1.0"/><circle cx="472.18" cy="36.08" r="1.0"/><circle cx="475.90" cy="36.08" r="1.0"/><circle cx="487.06" cy="36.08" r="1.0"/><circle cx="490.78" cy="36.08" r="1.0"/><circle cx="494.50" cy="36.08" r="1.0"/><circle cx="498.22" cy="36.08" r="1.0"/><circle cx="501.94" cy="36.08" r="1.0"/><circle cx="505.66" cy="36.08" r="1.0"/><circle cx="509.38" cy="36.08" r="1.0"/><circle cx="513.10" cy="36.08" r="1.0"/><circle cx="516.82" cy="36.08" r="1.0"/><circle cx="520.54" cy="36.08" r="1.0"/><circle cx="524.26" cy="36.08" r="1.0"/><circle cx="527.98" cy="36.08" r="1.0"/><circle cx="461.02" cy="39.80" r="1.0"/><circle cx="468.46" cy="39.80" r="1.0"/><circle cx="475.90" cy="39.80" r="1.0"/><circle cx="483.34" cy="39.80" r="1.0"/><circle cx="490.78" cy="39.80" r="1.0"/><circle cx="498.22" cy="39.80" r="1.0"/><circle cx="505.66" cy="39.80" r="1.0"/><circle cx="513.10" cy="39.80" r="1.0"/><circle cx="516.82" cy="39.80" r="1.0"/><circle cx="527.98" cy="39.80" r="1.0"/><circle cx="475.90" cy="43.52" r="1.0"/><circle cx="487.06" cy="43.52" r="1.0"/><circle cx="494.50" cy="43.52" r="1.0"/><circle cx="501.94" cy="43.52" r="1.0"/><circle cx="505.66" cy="43.52" r="1.0"/><circle cx="509.38" cy="43.52" r="1.0"/><circle cx="516.82" cy="43.52" r="1.0"/><circle cx="520.54" cy="43.52" r="1.0"/><circle cx="524.26" cy="43.52" r="1.0"/><circle cx="527.98" cy="43.52" r="1.0"/><circle cx="483.34" cy="47.24" r="1.0"/><circle cx="487.06" cy="47.24" r="1.0"/><circle cx="490.78" cy="47.24" r="1.0"/><circle cx="498.22" cy="47.24" r="1.0"/><circle cx="505.66" cy="47.24" r="1.0"/><circle cx="513.10" cy="47.24" r="1.0"/><circle cx="527.98" cy="47.24" r="1.0"/><circle cx="472.18" cy="50.96" r="1.0"/><circle cx="479.62" cy="50.96" r="1.0"/><circle cx="483.34" cy="50.96" r="1.0"/><circle cx="490.78" cy="50.96" r="1.0"/><circle cx="498.22" cy="50.96" r="1.0"/><circle cx="505.66" cy="50.96" r="1.0"/><circle cx="513.10" cy="50.96" r="1.0"/><circle cx="527.98" cy="50.96" r="1.0"/><circle cx="479.62" cy="54.68" r="1.0"/><circle cx="483.34" cy="54.68" r="1.0"/><circle cx="490.78" cy="54.68" r="1.0"/><circle cx="498.22" cy="54.68" r="1.0"/><circle cx="505.66" cy="54.68" r="1.0"/><circle cx="513.10" cy="54.68" r="1.0"/><circle cx="527.98" cy="54.68" r="1.0"/><circle cx="479.62" cy="58.40" r="1.0"/><circle cx="483.34" cy="58.40" r="1.0"/><circle cx="490.78" cy="58.40" r="1.0"/><circle cx="498.22" cy="58.40" r="1.0"/><circle cx="505.66" cy="58.40" r="1.0"/><circle cx="513.10" cy="58.40" r="1.0"/><circle cx="527.98" cy="58.40" r="1.0"/><circle cx="487.06" cy="62.12" r="1.0"/><circle cx="498.22" cy="62.12" r="1.0"/><circle cx="501.94" cy="62.12" r="1.0"/><circle cx="505.66" cy="62.12" r="1.0"/><circle cx="509.38" cy="62.12" r="1.0"/><circle cx="513.10" cy="62.12" r="1.0"/><circle cx="516.82" cy="62.12" r="1.0"/><circle cx="520.54" cy="62.12" r="1.0"/><circle cx="524.26" cy="62.12" r="1.0"/><circle cx="527.98" cy="62.12" r="1.0"/><circle cx="487.06" cy="65.84" r="1.0"/><circle cx="498.22" cy="65.84" r="1.0"/><circle cx="505.66" cy="65.84" r="1.0"/><circle cx="513.10" cy="65.84" r="1.0"/><circle cx="527.98" cy="65.84" r="1.0"/><circle cx="490.78" cy="69.56" r="1.0"/><circle cx="498.22" cy="69.56" r="1.0"/><circle cx="513.10" cy="69.56" r="1.0"/><circle cx="527.98" cy="69.56" r="1.0"/><circle cx="494.50" cy="73.28" r="1.0"/><circle cx="501.94" cy="73.28" r="1.0"/><circle cx="505.66" cy="73.28" r="1.0"/><circle cx="509.38" cy="73.28" r="1.0"/><circle cx="516.82" cy="73.28" r="1.0"/><circle cx="520.54" cy="73.28" r="1.0"/><circle cx="524.26" cy="73.28" r="1.0"/><circle cx="527.98" cy="73.28" r="1.0"/><circle cx="501.94" cy="80.72" r="1.0"/><circle cx="505.66" cy="80.72" r="1.0"/><circle cx="509.38" cy="80.72" r="1.0"/><circle cx="516.82" cy="80.72" r="1.0"/><circle cx="520.54" cy="80.72" r="1.0"/><circle cx="524.26" cy="80.72" r="1.0"/><circle cx="527.98" cy="80.72" r="1.0"/><circle cx="505.66" cy="84.44" r="1.0"/><circle cx="513.10" cy="84.44" r="1.0"/><circle cx="513.10" cy="88.16" r="1.0"/><circle cx="516.82" cy="88.16" r="1.0"/><circle cx="513.10" cy="91.88" r="1.0"/><circle cx="516.82" cy="95.60" r="1.0"/><circle cx="520.54" cy="95.60" r="1.0"/><circle cx="524.26" cy="95.60" r="1.0"/><circle cx="527.98" cy="95.60" r="1.0"/></g>
<g fill="#7a3a5a"><circle cx="442.42" cy="21.20" r="0.68"/><circle cx="446.14" cy="21.20" r="0.68"/><circle cx="449.86" cy="21.20" r="0.68"/><circle cx="453.58" cy="21.20" r="0.68"/><circle cx="457.30" cy="21.20" r="0.68"/><circle cx="461.02" cy="21.20" r="0.68"/><circle cx="464.74" cy="21.20" r="0.68"/><circle cx="468.46" cy="21.20" r="0.68"/><circle cx="472.18" cy="21.20" r="0.68"/><circle cx="475.90" cy="21.20" r="0.68"/><circle cx="479.62" cy="21.20" r="0.68"/><circle cx="483.34" cy="21.20" r="0.68"/><circle cx="487.06" cy="21.20" r="0.68"/><circle cx="490.78" cy="21.20" r="0.68"/><circle cx="494.50" cy="21.20" r="0.68"/><circle cx="498.22" cy="21.20" r="0.68"/><circle cx="501.94" cy="21.20" r="0.68"/><circle cx="505.66" cy="21.20" r="0.68"/><circle cx="509.38" cy="21.20" r="0.68"/><circle cx="513.10" cy="21.20" r="0.68"/><circle cx="516.82" cy="21.20" r="0.68"/><circle cx="520.54" cy="21.20" r="0.68"/><circle cx="524.26" cy="21.20" r="0.68"/><circle cx="527.98" cy="21.20" r="0.68"/><circle cx="446.14" cy="24.92" r="0.68"/><circle cx="449.86" cy="24.92" r="0.68"/><circle cx="453.58" cy="24.92" r="0.68"/><circle cx="479.62" cy="24.92" r="0.68"/><circle cx="483.34" cy="24.92" r="0.68"/><circle cx="490.78" cy="24.92" r="0.68"/><circle cx="498.22" cy="24.92" r="0.68"/><circle cx="513.10" cy="24.92" r="0.68"/><circle cx="516.82" cy="24.92" r="0.68"/><circle cx="457.30" cy="28.64" r="0.68"/><circle cx="464.74" cy="28.64" r="0.68"/><circle cx="468.46" cy="28.64" r="0.68"/><circle cx="472.18" cy="28.64" r="0.68"/><circle cx="487.06" cy="28.64" r="0.68"/><circle cx="494.50" cy="28.64" r="0.68"/><circle cx="501.94" cy="28.64" r="0.68"/><circle cx="505.66" cy="28.64" r="0.68"/><circle cx="509.38" cy="28.64" r="0.68"/><circle cx="516.82" cy="28.64" r="0.68"/><circle cx="520.54" cy="28.64" r="0.68"/><circle cx="524.26" cy="28.64" r="0.68"/><circle cx="527.98" cy="28.64" r="0.68"/><circle cx="453.58" cy="32.36" r="0.68"/><circle cx="457.30" cy="32.36" r="0.68"/><circle cx="468.46" cy="32.36" r="0.68"/><circle cx="472.18" cy="32.36" r="0.68"/><circle cx="479.62" cy="32.36" r="0.68"/><circle cx="487.06" cy="32.36" r="0.68"/><circle cx="494.50" cy="32.36" r="0.68"/><circle cx="501.94" cy="32.36" r="0.68"/><circle cx="509.38" cy="32.36" r="0.68"/><circle cx="516.82" cy="32.36" r="0.68"/><circle cx="520.54" cy="32.36" r="0.68"/><circle cx="524.26" cy="32.36" r="0.68"/><circle cx="527.98" cy="32.36" r="0.68"/><circle cx="457.30" cy="36.08" r="0.68"/><circle cx="464.74" cy="36.08" r="0.68"/><circle cx="468.46" cy="36.08" r="0.68"/><circle cx="472.18" cy="36.08" r="0.68"/><circle cx="475.90" cy="36.08" r="0.68"/><circle cx="487.06" cy="36.08" r="0.68"/><circle cx="490.78" cy="36.08" r="0.68"/><circle cx="494.50" cy="36.08" r="0.68"/><circle cx="498.22" cy="36.08" r="0.68"/><circle cx="501.94" cy="36.08" r="0.68"/><circle cx="505.66" cy="36.08" r="0.68"/><circle cx="509.38" cy="36.08" r="0.68"/><circle cx="513.10" cy="36.08" r="0.68"/><circle cx="516.82" cy="36.08" r="0.68"/><circle cx="520.54" cy="36.08" r="0.68"/><circle cx="524.26" cy="36.08" r="0.68"/><circle cx="527.98" cy="36.08" r="0.68"/><circle cx="461.02" cy="39.80" r="0.68"/><circle cx="468.46" cy="39.80" r="0.68"/><circle cx="475.90" cy="39.80" r="0.68"/><circle cx="483.34" cy="39.80" r="0.68"/><circle cx="490.78" cy="39.80" r="0.68"/><circle cx="498.22" cy="39.80" r="0.68"/><circle cx="505.66" cy="39.80" r="0.68"/><circle cx="513.10" cy="39.80" r="0.68"/><circle cx="516.82" cy="39.80" r="0.68"/><circle cx="527.98" cy="39.80" r="0.68"/><circle cx="475.90" cy="43.52" r="0.68"/><circle cx="487.06" cy="43.52" r="0.68"/><circle cx="494.50" cy="43.52" r="0.68"/><circle cx="501.94" cy="43.52" r="0.68"/><circle cx="505.66" cy="43.52" r="0.68"/><circle cx="509.38" cy="43.52" r="0.68"/><circle cx="516.82" cy="43.52" r="0.68"/><circle cx="520.54" cy="43.52" r="0.68"/><circle cx="524.26" cy="43.52" r="0.68"/><circle cx="527.98" cy="43.52" r="0.68"/><circle cx="483.34" cy="47.24" r="0.68"/><circle cx="487.06" cy="47.24" r="0.68"/><circle cx="490.78" cy="47.24" r="0.68"/><circle cx="498.22" cy="47.24" r="0.68"/><circle cx="505.66" cy="47.24" r="0.68"/><circle cx="513.10" cy="47.24" r="0.68"/><circle cx="527.98" cy="47.24" r="0.68"/><circle cx="472.18" cy="50.96" r="0.68"/><circle cx="479.62" cy="50.96" r="0.68"/><circle cx="483.34" cy="50.96" r="0.68"/><circle cx="490.78" cy="50.96" r="0.68"/><circle cx="498.22" cy="50.96" r="0.68"/><circle cx="505.66" cy="50.96" r="0.68"/><circle cx="513.10" cy="50.96" r="0.68"/><circle cx="527.98" cy="50.96" r="0.68"/><circle cx="479.62" cy="54.68" r="0.68"/><circle cx="483.34" cy="54.68" r="0.68"/><circle cx="490.78" cy="54.68" r="0.68"/><circle cx="498.22" cy="54.68" r="0.68"/><circle cx="505.66" cy="54.68" r="0.68"/><circle cx="513.10" cy="54.68" r="0.68"/><circle cx="527.98" cy="54.68" r="0.68"/><circle cx="479.62" cy="58.40" r="0.68"/><circle cx="483.34" cy="58.40" r="0.68"/><circle cx="490.78" cy="58.40" r="0.68"/><circle cx="498.22" cy="58.40" r="0.68"/><circle cx="505.66" cy="58.40" r="0.68"/><circle cx="513.10" cy="58.40" r="0.68"/><circle cx="527.98" cy="58.40" r="0.68"/><circle cx="487.06" cy="62.12" r="0.68"/><circle cx="498.22" cy="62.12" r="0.68"/><circle cx="501.94" cy="62.12" r="0.68"/><circle cx="505.66" cy="62.12" r="0.68"/><circle cx="509.38" cy="62.12" r="0.68"/><circle cx="513.10" cy="62.12" r="0.68"/><circle cx="516.82" cy="62.12" r="0.68"/><circle cx="520.54" cy="62.12" r="0.68"/><circle cx="524.26" cy="62.12" r="0.68"/><circle cx="527.98" cy="62.12" r="0.68"/><circle cx="487.06" cy="65.84" r="0.68"/><circle cx="498.22" cy="65.84" r="0.68"/><circle cx="505.66" cy="65.84" r="0.68"/><circle cx="513.10" cy="65.84" r="0.68"/><circle cx="527.98" cy="65.84" r="0.68"/><circle cx="490.78" cy="69.56" r="0.68"/><circle cx="498.22" cy="69.56" r="0.68"/><circle cx="513.10" cy="69.56" r="0.68"/><circle cx="527.98" cy="69.56" r="0.68"/><circle cx="494.50" cy="73.28" r="0.68"/><circle cx="501.94" cy="73.28" r="0.68"/><circle cx="505.66" cy="73.28" r="0.68"/><circle cx="509.38" cy="73.28" r="0.68"/><circle cx="516.82" cy="73.28" r="0.68"/><circle cx="520.54" cy="73.28" r="0.68"/><circle cx="524.26" cy="73.28" r="0.68"/><circle cx="527.98" cy="73.28" r="0.68"/><circle cx="501.94" cy="80.72" r="0.68"/><circle cx="505.66" cy="80.72" r="0.68"/><circle cx="509.38" cy="80.72" r="0.68"/><circle cx="516.82" cy="80.72" r="0.68"/><circle cx="520.54" cy="80.72" r="0.68"/><circle cx="524.26" cy="80.72" r="0.68"/><circle cx="527.98" cy="80.72" r="0.68"/><circle cx="505.66" cy="84.44" r="0.68"/><circle cx="513.10" cy="84.44" r="0.68"/><circle cx="513.10" cy="88.16" r="0.68"/><circle cx="516.82" cy="88.16" r="0.68"/><circle cx="513.10" cy="91.88" r="0.68"/><circle cx="516.82" cy="95.60" r="0.68"/><circle cx="520.54" cy="95.60" r="0.68"/><circle cx="524.26" cy="95.60" r="0.68"/><circle cx="527.98" cy="95.60" r="0.68"/></g>
<g fill="url(#rgM)"><circle cx="457.30" cy="24.92" r="1.35"/><circle cx="461.02" cy="24.92" r="1.35"/><circle cx="472.18" cy="24.92" r="1.35"/><circle cx="487.06" cy="24.92" r="1.35"/><circle cx="494.50" cy="24.92" r="1.35"/><circle cx="501.94" cy="24.92" r="1.35"/><circle cx="505.66" cy="24.92" r="1.35"/><circle cx="509.38" cy="24.92" r="1.35"/><circle cx="520.54" cy="24.92" r="1.35"/><circle cx="524.26" cy="24.92" r="1.35"/><circle cx="527.98" cy="24.92" r="1.35"/><circle cx="449.86" cy="28.64" r="1.35"/><circle cx="453.58" cy="28.64" r="1.35"/><circle cx="475.90" cy="28.64" r="1.35"/><circle cx="479.62" cy="28.64" r="1.35"/><circle cx="483.34" cy="28.64" r="1.35"/><circle cx="490.78" cy="28.64" r="1.35"/><circle cx="498.22" cy="28.64" r="1.35"/><circle cx="513.10" cy="28.64" r="1.35"/><circle cx="464.74" cy="32.36" r="1.35"/><circle cx="475.90" cy="32.36" r="1.35"/><circle cx="483.34" cy="32.36" r="1.35"/><circle cx="490.78" cy="32.36" r="1.35"/><circle cx="498.22" cy="32.36" r="1.35"/><circle cx="505.66" cy="32.36" r="1.35"/><circle cx="513.10" cy="32.36" r="1.35"/><circle cx="461.02" cy="36.08" r="1.35"/><circle cx="479.62" cy="36.08" r="1.35"/><circle cx="483.34" cy="36.08" r="1.35"/><circle cx="464.74" cy="39.80" r="1.35"/><circle cx="472.18" cy="39.80" r="1.35"/><circle cx="479.62" cy="39.80" r="1.35"/><circle cx="487.06" cy="39.80" r="1.35"/><circle cx="494.50" cy="39.80" r="1.35"/><circle cx="501.94" cy="39.80" r="1.35"/><circle cx="509.38" cy="39.80" r="1.35"/><circle cx="520.54" cy="39.80" r="1.35"/><circle cx="524.26" cy="39.80" r="1.35"/><circle cx="464.74" cy="43.52" r="1.35"/><circle cx="468.46" cy="43.52" r="1.35"/><circle cx="472.18" cy="43.52" r="1.35"/><circle cx="479.62" cy="43.52" r="1.35"/><circle cx="483.34" cy="43.52" r="1.35"/><circle cx="490.78" cy="43.52" r="1.35"/><circle cx="498.22" cy="43.52" r="1.35"/><circle cx="513.10" cy="43.52" r="1.35"/><circle cx="479.62" cy="47.24" r="1.35"/><circle cx="516.82" cy="47.24" r="1.35"/><circle cx="524.26" cy="47.24" r="1.35"/><circle cx="475.90" cy="50.96" r="1.35"/><circle cx="487.06" cy="50.96" r="1.35"/><circle cx="494.50" cy="50.96" r="1.35"/><circle cx="501.94" cy="50.96" r="1.35"/><circle cx="509.38" cy="50.96" r="1.35"/><circle cx="516.82" cy="50.96" r="1.35"/><circle cx="520.54" cy="50.96" r="1.35"/><circle cx="524.26" cy="50.96" r="1.35"/><circle cx="475.90" cy="54.68" r="1.35"/><circle cx="487.06" cy="54.68" r="1.35"/><circle cx="487.06" cy="58.40" r="1.35"/><circle cx="483.34" cy="62.12" r="1.35"/><circle cx="490.78" cy="62.12" r="1.35"/><circle cx="494.50" cy="62.12" r="1.35"/><circle cx="490.78" cy="65.84" r="1.35"/><circle cx="494.50" cy="65.84" r="1.35"/><circle cx="501.94" cy="65.84" r="1.35"/><circle cx="509.38" cy="65.84" r="1.35"/><circle cx="516.82" cy="65.84" r="1.35"/><circle cx="520.54" cy="65.84" r="1.35"/><circle cx="524.26" cy="65.84" r="1.35"/><circle cx="494.50" cy="69.56" r="1.35"/><circle cx="501.94" cy="69.56" r="1.35"/><circle cx="505.66" cy="69.56" r="1.35"/><circle cx="509.38" cy="69.56" r="1.35"/><circle cx="516.82" cy="69.56" r="1.35"/><circle cx="520.54" cy="69.56" r="1.35"/><circle cx="524.26" cy="69.56" r="1.35"/><circle cx="498.22" cy="73.28" r="1.35"/><circle cx="513.10" cy="73.28" r="1.35"/><circle cx="498.22" cy="77.00" r="1.35"/><circle cx="505.66" cy="77.00" r="1.35"/><circle cx="513.10" cy="77.00" r="1.35"/><circle cx="516.82" cy="77.00" r="1.35"/><circle cx="524.26" cy="77.00" r="1.35"/><circle cx="527.98" cy="77.00" r="1.35"/><circle cx="513.10" cy="80.72" r="1.35"/><circle cx="509.38" cy="84.44" r="1.35"/><circle cx="516.82" cy="84.44" r="1.35"/><circle cx="520.54" cy="84.44" r="1.35"/><circle cx="524.26" cy="84.44" r="1.35"/><circle cx="527.98" cy="84.44" r="1.35"/><circle cx="509.38" cy="88.16" r="1.35"/><circle cx="520.54" cy="88.16" r="1.35"/><circle cx="524.26" cy="88.16" r="1.35"/><circle cx="527.98" cy="88.16" r="1.35"/><circle cx="516.82" cy="91.88" r="1.35"/><circle cx="524.26" cy="91.88" r="1.35"/><circle cx="527.98" cy="91.88" r="1.35"/><circle cx="520.54" cy="99.32" r="1.35"/><circle cx="524.26" cy="99.32" r="1.35"/><circle cx="527.98" cy="99.32" r="1.35"/><circle cx="527.98" cy="103.04" r="1.35"/><circle cx="527.98" cy="106.76" r="1.35"/></g>
<g fill="url(#rgL)"><circle cx="464.74" cy="24.92" r="1.62"/><circle cx="468.46" cy="24.92" r="1.62"/><circle cx="475.90" cy="24.92" r="1.62"/><circle cx="461.02" cy="28.64" r="1.62"/><circle cx="461.02" cy="32.36" r="1.62"/><circle cx="468.46" cy="47.24" r="1.62"/><circle cx="472.18" cy="47.24" r="1.62"/><circle cx="475.90" cy="47.24" r="1.62"/><circle cx="494.50" cy="47.24" r="1.62"/><circle cx="501.94" cy="47.24" r="1.62"/><circle cx="509.38" cy="47.24" r="1.62"/><circle cx="520.54" cy="47.24" r="1.62"/><circle cx="494.50" cy="54.68" r="1.62"/><circle cx="501.94" cy="54.68" r="1.62"/><circle cx="509.38" cy="54.68" r="1.62"/><circle cx="516.82" cy="54.68" r="1.62"/><circle cx="520.54" cy="54.68" r="1.62"/><circle cx="524.26" cy="54.68" r="1.62"/><circle cx="494.50" cy="58.40" r="1.62"/><circle cx="501.94" cy="58.40" r="1.62"/><circle cx="509.38" cy="58.40" r="1.62"/><circle cx="516.82" cy="58.40" r="1.62"/><circle cx="520.54" cy="58.40" r="1.62"/><circle cx="524.26" cy="58.40" r="1.62"/><circle cx="501.94" cy="77.00" r="1.62"/><circle cx="509.38" cy="77.00" r="1.62"/><circle cx="520.54" cy="77.00" r="1.62"/><circle cx="520.54" cy="91.88" r="1.62"/><circle cx="524.26" cy="103.04" r="1.62"/></g>
<g fill="url(#rgD)"><circle cx="438.70" cy="21.20" r="1.85"/><circle cx="442.42" cy="24.92" r="1.85"/><circle cx="446.14" cy="28.64" r="1.85"/><circle cx="449.86" cy="32.36" r="1.85"/><circle cx="453.58" cy="36.08" r="1.85"/><circle cx="457.30" cy="39.80" r="1.85"/><circle cx="461.02" cy="43.52" r="1.85"/><circle cx="464.74" cy="47.24" r="1.85"/><circle cx="468.46" cy="50.96" r="1.85"/><circle cx="472.18" cy="54.68" r="1.85"/><circle cx="475.90" cy="58.40" r="1.85"/><circle cx="479.62" cy="62.12" r="1.85"/><circle cx="483.34" cy="65.84" r="1.85"/><circle cx="487.06" cy="69.56" r="1.85"/><circle cx="490.78" cy="73.28" r="1.85"/><circle cx="494.50" cy="77.00" r="1.85"/><circle cx="498.22" cy="80.72" r="1.85"/><circle cx="501.94" cy="84.44" r="1.85"/><circle cx="505.66" cy="88.16" r="1.85"/><circle cx="509.38" cy="91.88" r="1.85"/><circle cx="513.10" cy="95.60" r="1.85"/><circle cx="516.82" cy="99.32" r="1.85"/><circle cx="520.54" cy="103.04" r="1.85"/><circle cx="524.26" cy="106.76" r="1.85"/><circle cx="527.98" cy="110.48" r="1.85"/></g>
<defs><linearGradient id="g532" x1="0" y1="0" x2="0" y2="1"><stop offset="0" stop-color="#d66092"/><stop offset="0.5" stop-color="#ffffff"/><stop offset="1" stop-color="#289691"/></linearGradient></defs>
<rect x="532.2" y="19" width="3.4" height="94.9" fill="url(#g532)"/>
<text x="538.3" y="19.6" font-size="1.7" fill="#555" stroke="#555" stroke-width="0.12">1</text>
<text x="538.3" y="29.09" font-size="1.7" fill="#555" stroke="#555" stroke-width="0.12">0.8</text>
<text x="538.3" y="38.58" font-size="1.7" fill="#555" stroke="#555" stroke-width="0.12">0.6</text>
<text x="538.3" y="48.07" font-size="1.7" fill="#555" stroke="#555" stroke-width="0.12">0.4</text>
<text x="538.3" y="57.56" font-size="1.7" fill="#555" stroke="#555" stroke-width="0.12">0.2</text>
<text x="538.3" y="67.05" font-size="1.7" fill="#555" stroke="#555" stroke-width="0.12">0</text>
<text x="538.3" y="76.54" font-size="1.7" fill="#555" stroke="#555" stroke-width="0.12">-0.2</text>
<text x="538.3" y="86.03" font-size="1.7" fill="#555" stroke="#555" stroke-width="0.12">-0.4</text>
<text x="538.3" y="95.52" font-size="1.7" fill="#555" stroke="#555" stroke-width="0.12">-0.6</text>
<text x="538.3" y="105.01" font-size="1.7" fill="#555" stroke="#555" stroke-width="0.12">-0.8</text>
<text x="538.3" y="114.5" font-size="1.7" fill="#555" stroke="#555" stroke-width="0.12">-1</text>
<text x="5.36" y="137.2" font-size="9.6" fill="#1a1a1a" stroke="#1a1a1a" stroke-width="0.2">E</text>
<line x1="25.2" y1="140" x2="25.2" y2="223.1" stroke="#8a8a8a" stroke-width="0.9"/>
<line x1="23.6" y1="141.6" x2="25.2" y2="141.6" stroke="#8a8a8a" stroke-width="0.5"/>
<text x="22.2" y="143" font-size="4.2" text-anchor="end" fill="#555" stroke="#555" stroke-width="0.12">7</text>
<line x1="23.6" y1="170" x2="25.2" y2="170" stroke="#8a8a8a" stroke-width="0.5"/>
<text x="22.2" y="171.4" font-size="4.2" text-anchor="end" fill="#555" stroke="#555" stroke-width="0.12">6</text>
<line x1="23.6" y1="198.2" x2="25.2" y2="198.2" stroke="#8a8a8a" stroke-width="0.5"/>
<text x="22.2" y="199.6" font-size="4.2" text-anchor="end" fill="#555" stroke="#555" stroke-width="0.12">5</text>
<line x1="24.75" y1="223.1" x2="136.6" y2="223.1" stroke="#8a8a8a" stroke-width="0.9"/>
<line x1="55.5" y1="223.1" x2="55.5" y2="224.4" stroke="#8a8a8a" stroke-width="0.45"/>
<line x1="106.5" y1="223.1" x2="106.5" y2="224.4" stroke="#8a8a8a" stroke-width="0.45"/>
<text x="19.6" y="181" font-size="4.4" text-anchor="middle" fill="#333" stroke="#333" stroke-width="0.12" transform="rotate(-90 19.6 181)">MTA2 expression</text>
<rect x="54.7" y="127.5" width="4.5" height="3.8" fill="#40e0d0" stroke="#444" stroke-width="0.3" rx="0.8"/>
<text x="61" y="130.8" font-size="3.6" fill="#222" stroke="#222" stroke-width="0.12">Non-response</text>
<rect x="87.4" y="127.5" width="4.5" height="3.8" fill="#ff69b4" stroke="#444" stroke-width="0.3" rx="0.8"/>
<text x="94.8" y="130.8" font-size="3.6" fill="#222" stroke="#222" stroke-width="0.12">Response</text>
<path d="M55.5,144.5V142.4H106.5V144.5" fill="none" stroke="#444" stroke-width="0.45"/>
<text x="80.8" y="140.9" font-size="3.0" text-anchor="middle" fill="#444" stroke="#444" stroke-width="0.12">0.02</text>
<circle cx="55.9" cy="146" r="0.8" fill="#111"/>
<circle cx="55.9" cy="149.9" r="0.8" fill="#111"/>
<line x1="55.5" y1="163.4" x2="55.5" y2="219" stroke="#333" stroke-width="0.45"/>
<rect x="38.1" y="180.3" width="35.5" height="17.4" fill="#40e0d0" stroke="#333" stroke-width="0.5"/>
<line x1="38.1" y1="189.1" x2="73.6" y2="189.1" stroke="#1e5450" stroke-width="1.5"/>
<line x1="106.5" y1="154" x2="106.5" y2="217.3" stroke="#333" stroke-width="0.45"/>
<rect x="88.7" y="175.5" width="35.5" height="19.4" fill="#ff69b4" stroke="#333" stroke-width="0.5"/>
<line x1="88.7" y1="183.6" x2="124.2" y2="183.6" stroke="#6b1f4a" stroke-width="1.5"/>
<text x="55.5" y="228.8" font-size="4.4" text-anchor="middle" fill="#222" stroke="#222" stroke-width="0.12">Non-response</text>
<text x="106.5" y="228.8" font-size="4.4" text-anchor="middle" fill="#222" stroke="#222" stroke-width="0.12">Response</text>
<text x="137.86" y="135.5" font-size="9.6" fill="#1a1a1a" stroke="#1a1a1a" stroke-width="0.2">F</text>
<path d="M167.04,138.2h15.72v16.0h-15.72zM182.76,138.2h15.72v16.0h-15.72zM198.48,138.2h15.72v16.0h-15.72zM214.2,138.2h15.72v16.0h-15.72zM229.92,138.2h15.72v16.0h-15.72zM245.64,138.2h15.72v16.0h-15.72zM182.76,154.2h15.72v16.0h-15.72zM198.48,154.2h15.72v16.0h-15.72zM214.2,154.2h15.72v16.0h-15.72zM229.92,154.2h15.72v16.0h-15.72zM245.64,154.2h15.72v16.0h-15.72zM198.48,170.2h15.72v16.0h-15.72zM214.2,170.2h15.72v16.0h-15.72zM229.92,170.2h15.72v16.0h-15.72zM245.64,170.2h15.72v16.0h-15.72zM214.2,186.2h15.72v16.0h-15.72zM229.92,186.2h15.72v16.0h-15.72zM245.64,186.2h15.72v16.0h-15.72zM229.92,202.2h15.72v16.0h-15.72zM245.64,202.2h15.72v16.0h-15.72zM245.64,218.2h15.72v16.0h-15.72z" fill="none" stroke="#e6e6e6" stroke-width="0.45"/>
<text x="164.94" y="147.6" font-size="3.9" text-anchor="end" fill="#222" stroke="#222" stroke-width="0.12" stroke-width="0.15">MTA2</text>
<text x="177.1" y="137.5" font-size="3.6" fill="#222" stroke="#222" stroke-width="0.12" transform="rotate(-90 177.1 137.5)">MTA2</text>
<circle cx="174.9" cy="146.2" r="7" fill="#de628e"/>
<circle cx="174.9" cy="146.2" r="0.5" fill="#333"/>
<circle cx="190.62" cy="146.2" r="4.45" fill="#f2b9cf"/>
<circle cx="190.62" cy="146.2" r="0.5" fill="#333"/>
<circle cx="206.34" cy="146.2" r="5.1" fill="#eda3be"/>
<circle cx="206.34" cy="146.2" r="0.5" fill="#333"/>
<circle cx="222.06" cy="146.2" r="4.8" fill="#efadc6"/>
<circle cx="222.06" cy="146.2" r="0.5" fill="#333"/>
<circle cx="237.78" cy="146.2" r="4.8" fill="#efadc6"/>
<circle cx="237.78" cy="146.2" r="0.5" fill="#333"/>
<circle cx="253.5" cy="146.2" r="4.2" fill="#f3c1d5"/>
<circle cx="253.5" cy="146.2" r="0.5" fill="#333"/>
<text x="180.66" y="163.6" font-size="3.9" text-anchor="end" fill="#222" stroke="#222" stroke-width="0.12" stroke-width="0.15">CTLA4</text>
<text x="192.82" y="137.5" font-size="3.6" fill="#222" stroke="#222" stroke-width="0.12" transform="rotate(-90 192.82 137.5)">CTLA4</text>
<circle cx="190.62" cy="162.2" r="7" fill="#de628e"/>
<circle cx="190.62" cy="162.2" r="0.5" fill="#333"/>
<circle cx="206.34" cy="162.2" r="5.7" fill="#e88eaf"/>
<circle cx="206.34" cy="162.2" r="0.5" fill="#333"/>
<circle cx="222.06" cy="162.2" r="6.1" fill="#e581a5"/>
<circle cx="222.06" cy="162.2" r="0.5" fill="#333"/>
<circle cx="237.78" cy="162.2" r="5.3" fill="#eb9cb9"/>
<circle cx="237.78" cy="162.2" r="0.5" fill="#333"/>
<circle cx="253.5" cy="162.2" r="5.7" fill="#e88eaf"/>
<circle cx="253.5" cy="162.2" r="0.5" fill="#333"/>
<text x="196.38" y="179.6" font-size="3.9" text-anchor="end" fill="#222" stroke="#222" stroke-width="0.12" stroke-width="0.15">HAVCR2</text>
<text x="208.54" y="137.5" font-size="3.6" fill="#222" stroke="#222" stroke-width="0.12" transform="rotate(-90 208.54 137.5)">HAVCR2</text>
<circle cx="206.34" cy="178.2" r="7" fill="#de628e"/>
<circle cx="206.34" cy="178.2" r="0.5" fill="#333"/>
<circle cx="222.06" cy="178.2" r="5.1" fill="#eda3be"/>
<circle cx="222.06" cy="178.2" r="0.5" fill="#333"/>
<circle cx="237.78" cy="178.2" r="5.3" fill="#eb9cb9"/>
<circle cx="237.78" cy="178.2" r="0.5" fill="#333"/>
<circle cx="253.5" cy="178.2" r="5.7" fill="#e88eaf"/>
<circle cx="253.5" cy="178.2" r="0.5" fill="#333"/>
<text x="212.1" y="195.6" font-size="3.9" text-anchor="end" fill="#222" stroke="#222" stroke-width="0.12" stroke-width="0.15">PD-1</text>
<text x="224.26" y="137.5" font-size="3.6" fill="#222" stroke="#222" stroke-width="0.12" transform="rotate(-90 224.26 137.5)">PD-1</text>
<circle cx="222.06" cy="194.2" r="7" fill="#de628e"/>
<circle cx="222.06" cy="194.2" r="0.5" fill="#333"/>
<circle cx="237.78" cy="194.2" r="4.45" fill="#f2b9cf"/>
<circle cx="237.78" cy="194.2" r="0.5" fill="#333"/>
<circle cx="253.5" cy="194.2" r="5.1" fill="#eda3be"/>
<circle cx="253.5" cy="194.2" r="0.5" fill="#333"/>
<text x="227.82" y="211.6" font-size="3.9" text-anchor="end" fill="#222" stroke="#222" stroke-width="0.12" stroke-width="0.15">PD-L1</text>
<text x="239.98" y="137.5" font-size="3.6" fill="#222" stroke="#222" stroke-width="0.12" transform="rotate(-90 239.98 137.5)">PD-L1</text>
<circle cx="237.78" cy="210.2" r="7" fill="#de628e"/>
<circle cx="237.78" cy="210.2" r="0.5" fill="#333"/>
<circle cx="253.5" cy="210.2" r="6.1" fill="#e581a5"/>
<circle cx="253.5" cy="210.2" r="0.5" fill="#333"/>
<text x="243.54" y="227.6" font-size="3.9" text-anchor="end" fill="#222" stroke="#222" stroke-width="0.12" stroke-width="0.15">PD-L2</text>
<text x="255.7" y="137.5" font-size="3.6" fill="#222" stroke="#222" stroke-width="0.12" transform="rotate(-90 255.7 137.5)">PD-L2</text>
<circle cx="253.5" cy="226.2" r="7" fill="#de628e"/>
<circle cx="253.5" cy="226.2" r="0.5" fill="#333"/>
<defs><linearGradient id="g262" x1="0" y1="0" x2="0" y2="1"><stop offset="0" stop-color="#d66092"/><stop offset="0.5" stop-color="#ffffff"/><stop offset="1" stop-color="#1e8c87"/></linearGradient></defs>
<rect x="262.6" y="137.9" width="3.3" height="95.5" fill="url(#g262)"/>
<text x="268.8" y="138.6" font-size="1.9" fill="#555" stroke="#555" stroke-width="0.12">1</text>
<text x="268.8" y="148.15" font-size="1.9" fill="#555" stroke="#555" stroke-width="0.12">0.8</text>
<text x="268.8" y="157.7" font-size="1.9" fill="#555" stroke="#555" stroke-width="0.12">0.6</text>
<text x="268.8" y="167.25" font-size="1.9" fill="#555" stroke="#555" stroke-width="0.12">0.4</text>
<text x="268.8" y="176.8" font-size="1.9" fill="#555" stroke="#555" stroke-width="0.12">0.2</text>
<text x="268.8" y="186.35" font-size="1.9" fill="#555" stroke="#555" stroke-width="0.12">0</text>
<text x="268.8" y="195.9" font-size="1.9" fill="#555" stroke="#555" stroke-width="0.12">-0.2</text>
<text x="268.8" y="205.45" font-size="1.9" fill="#555" stroke="#555" stroke-width="0.12">-0.4</text>
<text x="268.8" y="215" font-size="1.9" fill="#555" stroke="#555" stroke-width="0.12">-0.6</text>
<text x="268.8" y="224.55" font-size="1.9" fill="#555" stroke="#555" stroke-width="0.12">-0.8</text>
<text x="268.8" y="234.1" font-size="1.9" fill="#555" stroke="#555" stroke-width="0.12">-1</text>
<text x="283.94" y="135.4" font-size="9.6" fill="#1a1a1a" stroke="#1a1a1a" stroke-width="0.2">G</text>
<line x1="305.2" y1="130.8" x2="305.2" y2="227.5" stroke="#8a8a8a" stroke-width="0.9"/>
<line x1="303.6" y1="134.6" x2="305.2" y2="134.6" stroke="#8a8a8a" stroke-width="0.5"/>
<text x="302.2" y="136" font-size="4.2" text-anchor="end" fill="#555" stroke="#555" stroke-width="0.12">4</text>
<line x1="303.6" y1="157" x2="305.2" y2="157" stroke="#8a8a8a" stroke-width="0.5"/>
<text x="302.2" y="158.4" font-size="4.2" text-anchor="end" fill="#555" stroke="#555" stroke-width="0.12">3</text>
<line x1="303.6" y1="179.2" x2="305.2" y2="179.2" stroke="#8a8a8a" stroke-width="0.5"/>
<text x="302.2" y="180.6" font-size="4.2" text-anchor="end" fill="#555" stroke="#555" stroke-width="0.12">2</text>
<line x1="303.6" y1="201.3" x2="305.2" y2="201.3" stroke="#8a8a8a" stroke-width="0.5"/>
<text x="302.2" y="202.7" font-size="4.2" text-anchor="end" fill="#555" stroke="#555" stroke-width="0.12">1</text>
<line x1="303.6" y1="223.5" x2="305.2" y2="223.5" stroke="#8a8a8a" stroke-width="0.5"/>
<text x="302.2" y="224.9" font-size="4.2" text-anchor="end" fill="#555" stroke="#555" stroke-width="0.12">0</text>
<line x1="304.75" y1="227.5" x2="415.5" y2="227.5" stroke="#8a8a8a" stroke-width="0.9"/>
<line x1="335" y1="227.5" x2="335" y2="228.8" stroke="#8a8a8a" stroke-width="0.45"/>
<line x1="385.4" y1="227.5" x2="385.4" y2="228.8" stroke="#8a8a8a" stroke-width="0.45"/>
<text x="297.2" y="178.6" font-size="4.8" text-anchor="middle" fill="#333" stroke="#333" stroke-width="0.12" transform="rotate(-90 297.2 178.6)">CTLA4 expression</text>
<text x="345.9" y="137.7" font-size="7.0" fill="#1a1a1a" stroke="#1a1a1a" stroke-width="0.15" textLength="27.6" lengthAdjust="spacingAndGlyphs">P &lt; 0.001</text>
<path d="M335.3,153.2L335.5,170L335.9,180L336.6,190L337.8,198L340,202L344,212L345.8,220L341,222.9L329,222.9L324.2,220L326,212L330,202L332.2,198L333.4,190L334.1,180L334.5,170L334.7,153.2Z" fill="#f5a6d8" stroke="#141414" stroke-width="0.85" stroke-linejoin="round"/>
<path d="M316.3,202.3L353.5,202.3L353.5,210.3L344.2,212.8L353.5,215.3L353.5,218.1L316.3,218.1L316.3,215.3L325.6,212.8L316.3,210.3Z" fill="#f67ac2" stroke="#141414" stroke-width="0.85"/>
<line x1="325.6" y1="212.8" x2="344.2" y2="212.8" stroke="#141414" stroke-width="1.0"/>
<g fill="#ea62ae" stroke="#1a0610" stroke-width="0.2"><circle cx="328.0" cy="156.4" r="1.0"/><circle cx="338.3" cy="180.4" r="1.0"/><circle cx="328.0" cy="167.7" r="1.0"/><circle cx="339.6" cy="173.0" r="1.0"/><circle cx="339.3" cy="168.2" r="1.0"/><circle cx="328.5" cy="190.5" r="1.0"/><circle cx="334.1" cy="186.0" r="1.0"/><circle cx="343.9" cy="181.2" r="1.0"/><circle cx="326.4" cy="164.6" r="1.0"/><circle cx="333.3" cy="199.2" r="1.0"/><circle cx="331.9" cy="171.2" r="1.0"/><circle cx="343.2" cy="179.2" r="1.0"/><circle cx="329.9" cy="171.8" r="1.0"/><circle cx="335.9" cy="187.8" r="1.0"/><circle cx="341.1" cy="199.7" r="1.0"/><circle cx="329.7" cy="178.8" r="1.0"/><circle cx="343.8" cy="196.1" r="1.0"/><circle cx="339.2" cy="158.9" r="1.0"/><circle cx="337.7" cy="197.1" r="1.0"/><circle cx="340.3" cy="172.3" r="1.0"/><circle cx="329.5" cy="192.7" r="1.0"/><circle cx="329.9" cy="189.8" r="1.0"/><circle cx="332.0" cy="160.1" r="1.0"/><circle cx="333.1" cy="177.9" r="1.0"/><circle cx="341.1" cy="190.0" r="1.0"/><circle cx="343.6" cy="199.9" r="1.0"/><circle cx="340.2" cy="200.8" r="1.0"/><circle cx="329.2" cy="176.6" r="1.0"/><circle cx="335.8" cy="189.2" r="1.0"/><circle cx="327.7" cy="190.9" r="1.0"/><circle cx="342.6" cy="170.9" r="1.0"/><circle cx="338.5" cy="188.4" r="1.0"/><circle cx="333.2" cy="164.7" r="1.0"/><circle cx="337.7" cy="198.4" r="1.0"/><circle cx="329.5" cy="200.8" r="1.0"/><circle cx="340.4" cy="182.9" r="1.0"/><circle cx="340.2" cy="213.3" r="1.0"/><circle cx="327.9" cy="215.7" r="1.0"/><circle cx="343.7" cy="204.7" r="1.0"/><circle cx="329.5" cy="205.3" r="1.0"/><circle cx="338.8" cy="210.9" r="1.0"/><circle cx="334.6" cy="221.0" r="1.0"/><circle cx="340.2" cy="214.4" r="1.0"/><circle cx="332.7" cy="209.6" r="1.0"/><circle cx="337.6" cy="216.7" r="1.0"/><circle cx="328.0" cy="202.4" r="1.0"/><circle cx="339.1" cy="205.9" r="1.0"/><circle cx="344.3" cy="218.2" r="1.0"/><circle cx="330.0" cy="219.5" r="1.0"/><circle cx="344.8" cy="219.5" r="1.0"/><circle cx="326.2" cy="211.2" r="1.0"/><circle cx="331.1" cy="211.8" r="1.0"/><circle cx="326.8" cy="207.0" r="1.0"/><circle cx="341.6" cy="205.5" r="1.0"/><circle cx="337.1" cy="202.9" r="1.0"/><circle cx="329.5" cy="207.8" r="1.0"/><circle cx="331.2" cy="220.5" r="1.0"/><circle cx="334.2" cy="207.2" r="1.0"/><circle cx="335.5" cy="218.2" r="1.0"/><circle cx="333.2" cy="221.1" r="1.0"/><circle cx="339.0" cy="214.9" r="1.0"/><circle cx="338.9" cy="213.7" r="1.0"/><circle cx="328.4" cy="213.8" r="1.0"/><circle cx="340.1" cy="205.4" r="1.0"/><circle cx="343.9" cy="219.1" r="1.0"/><circle cx="336.6" cy="218.1" r="1.0"/><circle cx="341.4" cy="206.7" r="1.0"/><circle cx="333.6" cy="205.3" r="1.0"/><circle cx="332.9" cy="206.0" r="1.0"/><circle cx="333.7" cy="210.3" r="1.0"/><circle cx="335.8" cy="218.5" r="1.0"/><circle cx="340.0" cy="208.7" r="1.0"/><circle cx="341.6" cy="218.9" r="1.0"/><circle cx="337.1" cy="202.2" r="1.0"/><circle cx="330.7" cy="221.8" r="1.0"/><circle cx="340.6" cy="207.7" r="1.0"/><circle cx="333.2" cy="211.6" r="1.0"/><circle cx="332.8" cy="220.4" r="1.0"/><circle cx="329.9" cy="207.6" r="1.0"/><circle cx="338.6" cy="211.2" r="1.0"/><circle cx="339.9" cy="211.7" r="1.0"/><circle cx="330.5" cy="203.5" r="1.0"/><circle cx="334.6" cy="216.9" r="1.0"/><circle cx="342.9" cy="214.5" r="1.0"/><circle cx="329.3" cy="209.6" r="1.0"/><circle cx="334.7" cy="202.2" r="1.0"/><circle cx="334.5" cy="210.0" r="1.0"/><circle cx="326.0" cy="200.6" r="1.0"/><circle cx="339.6" cy="211.9" r="1.0"/><circle cx="342.4" cy="210.1" r="1.0"/><circle cx="333.2" cy="216.0" r="1.0"/><circle cx="329.6" cy="219.7" r="1.0"/><circle cx="341.6" cy="216.5" r="1.0"/><circle cx="331.7" cy="215.3" r="1.0"/><circle cx="336.3" cy="204.6" r="1.0"/><circle cx="332.7" cy="207.3" r="1.0"/><circle cx="343.2" cy="215.3" r="1.0"/><circle cx="335.4" cy="217.8" r="1.0"/><circle cx="331.6" cy="221.1" r="1.0"/><circle cx="338.2" cy="212.1" r="1.0"/><circle cx="329.8" cy="215.5" r="1.0"/><circle cx="340.8" cy="212.6" r="1.0"/><circle cx="338.7" cy="208.7" r="1.0"/><circle cx="343.2" cy="202.8" r="1.0"/><circle cx="331.5" cy="218.0" r="1.0"/><circle cx="340.3" cy="223.2" r="1.0"/><circle cx="330.5" cy="203.3" r="1.0"/><circle cx="344.0" cy="214.3" r="1.0"/><circle cx="326.9" cy="206.0" r="1.0"/><circle cx="326.8" cy="210.4" r="1.0"/><circle cx="335.7" cy="212.6" r="1.0"/><circle cx="328.5" cy="213.2" r="1.0"/><circle cx="340.5" cy="201.7" r="1.0"/><circle cx="334.6" cy="213.2" r="1.0"/><circle cx="338.3" cy="214.0" r="1.0"/><circle cx="340.9" cy="221.8" r="1.0"/><circle cx="331.8" cy="218.8" r="1.0"/><circle cx="327.6" cy="206.8" r="1.0"/><circle cx="327.0" cy="221.1" r="1.0"/><circle cx="342.7" cy="215.8" r="1.0"/><circle cx="333.0" cy="210.6" r="1.0"/><circle cx="343.0" cy="212.8" r="1.0"/><circle cx="341.7" cy="218.0" r="1.0"/><circle cx="339.1" cy="202.4" r="1.0"/><circle cx="333.2" cy="213.5" r="1.0"/><circle cx="339.5" cy="220.4" r="1.0"/><circle cx="339.3" cy="222.0" r="1.0"/><circle cx="333.7" cy="222.0" r="1.0"/><circle cx="340.3" cy="215.6" r="1.0"/><circle cx="328.5" cy="213.5" r="1.0"/><circle cx="342.0" cy="216.2" r="1.0"/><circle cx="328.3" cy="221.3" r="1.0"/><circle cx="330.1" cy="212.0" r="1.0"/><circle cx="343.3" cy="211.1" r="1.0"/><circle cx="331.6" cy="212.8" r="1.0"/><circle cx="333.9" cy="209.5" r="1.0"/><circle cx="331.9" cy="217.7" r="1.0"/><circle cx="330.1" cy="207.2" r="1.0"/><circle cx="342.3" cy="209.2" r="1.0"/><circle cx="339.6" cy="206.8" r="1.0"/><circle cx="340.1" cy="205.0" r="1.0"/><circle cx="340.0" cy="209.3" r="1.0"/><circle cx="327.4" cy="213.1" r="1.0"/><circle cx="340.4" cy="204.5" r="1.0"/><circle cx="334.7" cy="215.3" r="1.0"/><circle cx="338.4" cy="211.3" r="1.0"/><circle cx="327.1" cy="214.1" r="1.0"/><circle cx="331.5" cy="216.5" r="1.0"/><circle cx="335.9" cy="220.9" r="1.0"/><circle cx="327.3" cy="219.6" r="1.0"/><circle cx="337.2" cy="218.4" r="1.0"/><circle cx="341.9" cy="221.0" r="1.0"/><circle cx="336.7" cy="215.5" r="1.0"/><circle cx="330.2" cy="219.5" r="1.0"/><circle cx="340.3" cy="215.4" r="1.0"/><circle cx="335.8" cy="216.3" r="1.0"/><circle cx="343.6" cy="221.1" r="1.0"/><circle cx="327.3" cy="209.1" r="1.0"/><circle cx="328.3" cy="216.7" r="1.0"/><circle cx="334.5" cy="223.0" r="1.0"/><circle cx="340.9" cy="215.2" r="1.0"/><circle cx="328.6" cy="221.3" r="1.0"/><circle cx="329.2" cy="213.5" r="1.0"/><circle cx="328.4" cy="213.7" r="1.0"/><circle cx="332.4" cy="221.4" r="1.0"/><circle cx="342.2" cy="212.1" r="1.0"/><circle cx="331.9" cy="220.5" r="1.0"/><circle cx="338.0" cy="214.5" r="1.0"/><circle cx="328.5" cy="207.3" r="1.0"/><circle cx="328.9" cy="221.1" r="1.0"/><circle cx="339.7" cy="218.5" r="1.0"/><circle cx="332.1" cy="216.3" r="1.0"/><circle cx="340.2" cy="221.1" r="1.0"/><circle cx="342.2" cy="203.7" r="1.0"/><circle cx="330.9" cy="217.1" r="1.0"/><circle cx="327.8" cy="206.8" r="1.0"/><circle cx="341.8" cy="220.3" r="1.0"/><circle cx="329.2" cy="211.2" r="1.0"/><circle cx="333.5" cy="203.8" r="1.0"/><circle cx="326.9" cy="210.1" r="1.0"/><circle cx="340.8" cy="210.1" r="1.0"/><circle cx="333.3" cy="203.5" r="1.0"/><circle cx="328.8" cy="214.8" r="1.0"/><circle cx="327.3" cy="202.3" r="1.0"/><circle cx="343.5" cy="206.0" r="1.0"/><circle cx="338.7" cy="221.2" r="1.0"/></g>
<text x="335" y="234.2" font-size="4.8" text-anchor="middle" fill="#222" stroke="#222" stroke-width="0.12">High-MTA2</text>
<path d="M385.7,175.1L386.2,192.9L387.4,200L389.9,209L392.9,213.5L401.4,216L407.9,218.5L408.6,220.5L405.4,222L395.4,223.5L375.4,223.5L365.4,222L362.2,220.5L362.9,218.5L369.4,216L377.9,213.5L380.9,209L383.4,200L384.6,192.9L385.1,175.1Z" fill="#9ddbd5" stroke="#141414" stroke-width="0.85" stroke-linejoin="round"/>
<path d="M366.3,213.5L404.7,213.5L404.7,215.5L395.1,217L404.7,218.5L404.7,220L366.3,220L366.3,218.5L375.9,217L366.3,215.5Z" fill="#3bb2ac" stroke="#141414" stroke-width="0.85"/>
<line x1="375.9" y1="217" x2="395.1" y2="217" stroke="#141414" stroke-width="1.0"/>
<g fill="#0f7f72" stroke="#03302a" stroke-width="0.2"><circle cx="381.4" cy="183.2" r="1.0"/><circle cx="391.0" cy="193.6" r="1.0"/><circle cx="388.5" cy="200.0" r="1.0"/><circle cx="385.5" cy="184.6" r="1.0"/><circle cx="385.7" cy="209.3" r="1.0"/><circle cx="390.7" cy="211.7" r="1.0"/><circle cx="378.4" cy="196.0" r="1.0"/><circle cx="380.2" cy="207.1" r="1.0"/><circle cx="388.6" cy="177.3" r="1.0"/><circle cx="390.1" cy="209.3" r="1.0"/><circle cx="381.2" cy="211.9" r="1.0"/><circle cx="380.1" cy="183.4" r="1.0"/><circle cx="380.0" cy="212.5" r="1.0"/><circle cx="378.7" cy="187.6" r="1.0"/><circle cx="378.9" cy="181.2" r="1.0"/><circle cx="380.7" cy="195.3" r="1.0"/><circle cx="391.4" cy="193.8" r="1.0"/><circle cx="389.8" cy="188.0" r="1.0"/><circle cx="386.4" cy="206.7" r="1.0"/><circle cx="389.2" cy="202.3" r="1.0"/><circle cx="381.6" cy="202.6" r="1.0"/><circle cx="381.8" cy="194.5" r="1.0"/><circle cx="392.2" cy="197.0" r="1.0"/><circle cx="379.4" cy="197.8" r="1.0"/><circle cx="389.8" cy="199.4" r="1.0"/><circle cx="388.2" cy="198.4" r="1.0"/><circle cx="379.3" cy="184.0" r="1.0"/><circle cx="379.1" cy="204.7" r="1.0"/><circle cx="383.8" cy="193.5" r="1.0"/><circle cx="378.9" cy="189.2" r="1.0"/><circle cx="391.7" cy="176.9" r="1.0"/><circle cx="391.7" cy="205.4" r="1.0"/><circle cx="391.8" cy="199.8" r="1.0"/><circle cx="387.1" cy="209.8" r="1.0"/><circle cx="385.5" cy="200.8" r="1.0"/><circle cx="383.3" cy="213.9" r="1.0"/><circle cx="379.0" cy="220.4" r="1.0"/><circle cx="385.6" cy="222.0" r="1.0"/><circle cx="392.2" cy="218.9" r="1.0"/><circle cx="377.8" cy="219.4" r="1.0"/><circle cx="376.0" cy="214.2" r="1.0"/><circle cx="391.7" cy="211.4" r="1.0"/><circle cx="395.2" cy="218.7" r="1.0"/><circle cx="381.5" cy="221.1" r="1.0"/><circle cx="391.3" cy="223.6" r="1.0"/><circle cx="376.6" cy="216.9" r="1.0"/><circle cx="378.4" cy="215.1" r="1.0"/><circle cx="376.6" cy="215.8" r="1.0"/><circle cx="395.5" cy="220.3" r="1.0"/><circle cx="389.8" cy="213.7" r="1.0"/><circle cx="385.0" cy="218.6" r="1.0"/><circle cx="382.8" cy="222.8" r="1.0"/><circle cx="375.6" cy="221.7" r="1.0"/><circle cx="381.0" cy="223.5" r="1.0"/><circle cx="390.7" cy="211.0" r="1.0"/><circle cx="389.1" cy="220.4" r="1.0"/><circle cx="382.8" cy="221.0" r="1.0"/><circle cx="382.9" cy="212.5" r="1.0"/><circle cx="395.2" cy="223.4" r="1.0"/><circle cx="384.4" cy="214.0" r="1.0"/><circle cx="393.9" cy="216.9" r="1.0"/><circle cx="390.0" cy="211.1" r="1.0"/><circle cx="386.4" cy="214.3" r="1.0"/><circle cx="379.6" cy="212.7" r="1.0"/><circle cx="385.5" cy="222.5" r="1.0"/><circle cx="390.5" cy="223.6" r="1.0"/><circle cx="376.5" cy="220.8" r="1.0"/><circle cx="395.7" cy="218.7" r="1.0"/><circle cx="376.3" cy="217.5" r="1.0"/><circle cx="392.3" cy="213.4" r="1.0"/><circle cx="381.9" cy="223.7" r="1.0"/><circle cx="389.9" cy="215.1" r="1.0"/><circle cx="378.8" cy="217.6" r="1.0"/><circle cx="387.1" cy="223.8" r="1.0"/><circle cx="375.4" cy="215.7" r="1.0"/><circle cx="390.7" cy="217.6" r="1.0"/><circle cx="379.6" cy="213.3" r="1.0"/><circle cx="394.2" cy="220.4" r="1.0"/><circle cx="384.8" cy="215.9" r="1.0"/><circle cx="385.8" cy="219.3" r="1.0"/><circle cx="382.2" cy="212.7" r="1.0"/><circle cx="380.7" cy="213.7" r="1.0"/><circle cx="383.9" cy="212.1" r="1.0"/><circle cx="391.1" cy="213.9" r="1.0"/><circle cx="395.1" cy="215.2" r="1.0"/><circle cx="380.6" cy="221.5" r="1.0"/><circle cx="386.4" cy="213.0" r="1.0"/><circle cx="386.1" cy="217.2" r="1.0"/><circle cx="385.8" cy="212.6" r="1.0"/><circle cx="384.2" cy="220.9" r="1.0"/><circle cx="393.6" cy="214.3" r="1.0"/><circle cx="395.8" cy="214.8" r="1.0"/><circle cx="374.9" cy="220.0" r="1.0"/><circle cx="378.0" cy="216.8" r="1.0"/><circle cx="383.7" cy="221.2" r="1.0"/><circle cx="391.7" cy="212.1" r="1.0"/><circle cx="387.7" cy="221.4" r="1.0"/><circle cx="376.5" cy="218.4" r="1.0"/><circle cx="382.6" cy="223.8" r="1.0"/><circle cx="385.2" cy="217.8" r="1.0"/><circle cx="375.3" cy="217.1" r="1.0"/><circle cx="385.2" cy="222.6" r="1.0"/><circle cx="393.0" cy="216.1" r="1.0"/><circle cx="390.0" cy="222.2" r="1.0"/><circle cx="382.2" cy="222.8" r="1.0"/><circle cx="383.3" cy="212.4" r="1.0"/><circle cx="391.4" cy="218.8" r="1.0"/><circle cx="388.1" cy="220.5" r="1.0"/><circle cx="388.9" cy="218.8" r="1.0"/><circle cx="375.2" cy="218.5" r="1.0"/><circle cx="380.7" cy="218.1" r="1.0"/><circle cx="387.0" cy="211.9" r="1.0"/><circle cx="380.8" cy="221.9" r="1.0"/><circle cx="388.0" cy="219.7" r="1.0"/><circle cx="393.2" cy="219.9" r="1.0"/><circle cx="376.6" cy="220.0" r="1.0"/><circle cx="382.2" cy="219.0" r="1.0"/><circle cx="389.1" cy="216.4" r="1.0"/><circle cx="387.2" cy="213.3" r="1.0"/><circle cx="376.5" cy="223.2" r="1.0"/><circle cx="389.8" cy="222.1" r="1.0"/><circle cx="391.0" cy="216.3" r="1.0"/><circle cx="380.7" cy="212.0" r="1.0"/><circle cx="387.1" cy="224.0" r="1.0"/><circle cx="380.2" cy="213.2" r="1.0"/><circle cx="386.4" cy="216.8" r="1.0"/><circle cx="381.0" cy="223.9" r="1.0"/><circle cx="384.1" cy="219.3" r="1.0"/><circle cx="394.7" cy="218.2" r="1.0"/><circle cx="390.1" cy="212.5" r="1.0"/><circle cx="380.5" cy="220.5" r="1.0"/><circle cx="388.9" cy="212.6" r="1.0"/><circle cx="382.2" cy="222.1" r="1.0"/><circle cx="386.2" cy="212.8" r="1.0"/><circle cx="382.4" cy="219.7" r="1.0"/><circle cx="377.0" cy="216.3" r="1.0"/><circle cx="381.5" cy="212.8" r="1.0"/><circle cx="377.5" cy="220.9" r="1.0"/><circle cx="384.9" cy="213.6" r="1.0"/><circle cx="381.3" cy="213.7" r="1.0"/><circle cx="379.8" cy="220.6" r="1.0"/><circle cx="376.7" cy="218.3" r="1.0"/><circle cx="389.6" cy="217.7" r="1.0"/><circle cx="378.9" cy="216.8" r="1.0"/><circle cx="382.3" cy="211.4" r="1.0"/><circle cx="377.0" cy="216.3" r="1.0"/><circle cx="385.6" cy="216.5" r="1.0"/><circle cx="387.7" cy="211.8" r="1.0"/><circle cx="389.4" cy="223.4" r="1.0"/><circle cx="392.4" cy="216.8" r="1.0"/><circle cx="394.8" cy="223.3" r="1.0"/><circle cx="390.9" cy="223.4" r="1.0"/><circle cx="390.9" cy="223.3" r="1.0"/><circle cx="377.7" cy="215.2" r="1.0"/><circle cx="389.7" cy="217.3" r="1.0"/><circle cx="382.5" cy="214.5" r="1.0"/><circle cx="379.0" cy="212.1" r="1.0"/><circle cx="392.3" cy="214.4" r="1.0"/><circle cx="380.5" cy="211.8" r="1.0"/><circle cx="395.2" cy="216.2" r="1.0"/><circle cx="377.9" cy="213.8" r="1.0"/><circle cx="383.2" cy="211.6" r="1.0"/><circle cx="387.8" cy="211.1" r="1.0"/><circle cx="381.1" cy="211.8" r="1.0"/><circle cx="382.2" cy="212.0" r="1.0"/><circle cx="380.7" cy="212.1" r="1.0"/><circle cx="381.6" cy="213.5" r="1.0"/><circle cx="382.7" cy="219.2" r="1.0"/><circle cx="377.8" cy="213.7" r="1.0"/><circle cx="392.8" cy="222.2" r="1.0"/><circle cx="389.8" cy="223.3" r="1.0"/><circle cx="381.8" cy="216.6" r="1.0"/><circle cx="384.5" cy="213.5" r="1.0"/><circle cx="394.6" cy="216.4" r="1.0"/><circle cx="388.4" cy="213.6" r="1.0"/><circle cx="388.7" cy="220.5" r="1.0"/><circle cx="375.8" cy="219.0" r="1.0"/><circle cx="385.7" cy="212.9" r="1.0"/><circle cx="395.1" cy="218.8" r="1.0"/><circle cx="379.5" cy="221.2" r="1.0"/><circle cx="389.2" cy="212.9" r="1.0"/><circle cx="391.2" cy="211.1" r="1.0"/><circle cx="386.8" cy="212.1" r="1.0"/><circle cx="376.7" cy="222.0" r="1.0"/><circle cx="387.2" cy="212.3" r="1.0"/><circle cx="375.1" cy="220.4" r="1.0"/><circle cx="391.6" cy="217.1" r="1.0"/><circle cx="383.2" cy="221.1" r="1.0"/><circle cx="387.0" cy="211.1" r="1.0"/><circle cx="383.8" cy="218.0" r="1.0"/><circle cx="387.2" cy="218.7" r="1.0"/><circle cx="386.4" cy="217.3" r="1.0"/><circle cx="391.1" cy="218.3" r="1.0"/><circle cx="375.4" cy="221.3" r="1.0"/><circle cx="380.0" cy="221.2" r="1.0"/></g>
<text x="385.4" y="234.2" font-size="4.8" text-anchor="middle" fill="#222" stroke="#222" stroke-width="0.12">Low-MTA2</text>
<text x="419.16" y="135.8" font-size="9.6" fill="#1a1a1a" stroke="#1a1a1a" stroke-width="0.2">H</text>
<line x1="434.6" y1="129.6" x2="434.6" y2="227.2" stroke="#8a8a8a" stroke-width="0.9"/>
<line x1="433" y1="160.1" x2="434.6" y2="160.1" stroke="#8a8a8a" stroke-width="0.5"/>
<text x="431.6" y="161.5" font-size="4.2" text-anchor="end" fill="#555" stroke="#555" stroke-width="0.12">4</text>
<line x1="433" y1="192.3" x2="434.6" y2="192.3" stroke="#8a8a8a" stroke-width="0.5"/>
<text x="431.6" y="193.7" font-size="4.2" text-anchor="end" fill="#555" stroke="#555" stroke-width="0.12">2</text>
<line x1="433" y1="224.4" x2="434.6" y2="224.4" stroke="#8a8a8a" stroke-width="0.5"/>
<text x="431.6" y="225.8" font-size="4.2" text-anchor="end" fill="#555" stroke="#555" stroke-width="0.12">0</text>
<line x1="434.15" y1="227.2" x2="544.7" y2="227.2" stroke="#8a8a8a" stroke-width="0.9"/>
<line x1="464.1" y1="227.2" x2="464.1" y2="228.5" stroke="#8a8a8a" stroke-width="0.45"/>
<line x1="514.1" y1="227.2" x2="514.1" y2="228.5" stroke="#8a8a8a" stroke-width="0.45"/>
<text x="427.1" y="179.4" font-size="4.8" text-anchor="middle" fill="#333" stroke="#333" stroke-width="0.12" transform="rotate(-90 427.1 179.4)">HAVCR2 expression</text>
<text x="475.6" y="137.7" font-size="7.0" fill="#1a1a1a" stroke="#1a1a1a" stroke-width="0.15" textLength="27.6" lengthAdjust="spacingAndGlyphs">P &lt; 0.001</text>
<circle cx="472.2" cy="134.6" r="0.95" fill="#ea62ae" stroke="#1a0610" stroke-width="0.35"/>
<path d="M464.4,134.1L464.7,160L465.4,168.2L467.1,176L469.5,180L474,188.9L475.6,195L476.1,205L474.1,212L471.1,218L468.6,221.4L459.6,221.4L457.1,218L454.1,212L452.1,205L452.6,195L454.2,188.9L458.7,180L461.1,176L462.8,168.2L463.5,160L463.8,134.1Z" fill="#f5a6d8" stroke="#141414" stroke-width="0.85" stroke-linejoin="round"/>
<path d="M445.3,192.3L483.5,192.3L483.5,201L473.95,203.5L483.5,206L483.5,210.9L445.3,210.9L445.3,206L454.85,203.5L445.3,201Z" fill="#f67ac2" stroke="#141414" stroke-width="0.85"/>
<line x1="454.85" y1="203.5" x2="473.95" y2="203.5" stroke="#141414" stroke-width="1.0"/>
<g fill="#ea62ae" stroke="#1a0610" stroke-width="0.2"><circle cx="460.3" cy="151.5" r="1.0"/><circle cx="469.9" cy="141.6" r="1.0"/><circle cx="466.8" cy="160.6" r="1.0"/><circle cx="462.5" cy="159.4" r="1.0"/><circle cx="465.2" cy="167.7" r="1.0"/><circle cx="466.4" cy="169.9" r="1.0"/><circle cx="463.3" cy="172.6" r="1.0"/><circle cx="459.2" cy="141.1" r="1.0"/><circle cx="459.4" cy="167.3" r="1.0"/><circle cx="465.8" cy="164.1" r="1.0"/><circle cx="468.1" cy="136.7" r="1.0"/><circle cx="469.2" cy="135.5" r="1.0"/><circle cx="460.1" cy="172.7" r="1.0"/><circle cx="467.4" cy="167.4" r="1.0"/><circle cx="466.5" cy="139.8" r="1.0"/><circle cx="471.5" cy="187.9" r="1.0"/><circle cx="473.4" cy="211.2" r="1.0"/><circle cx="461.5" cy="184.0" r="1.0"/><circle cx="466.4" cy="208.6" r="1.0"/><circle cx="471.8" cy="190.8" r="1.0"/><circle cx="461.2" cy="216.8" r="1.0"/><circle cx="467.3" cy="189.0" r="1.0"/><circle cx="467.8" cy="200.5" r="1.0"/><circle cx="461.7" cy="203.9" r="1.0"/><circle cx="459.0" cy="182.0" r="1.0"/><circle cx="469.2" cy="202.5" r="1.0"/><circle cx="469.6" cy="201.2" r="1.0"/><circle cx="472.6" cy="205.6" r="1.0"/><circle cx="460.5" cy="209.9" r="1.0"/><circle cx="456.0" cy="188.7" r="1.0"/><circle cx="469.2" cy="183.2" r="1.0"/><circle cx="467.6" cy="217.7" r="1.0"/><circle cx="466.8" cy="187.1" r="1.0"/><circle cx="471.1" cy="188.1" r="1.0"/><circle cx="469.1" cy="210.0" r="1.0"/><circle cx="462.4" cy="208.2" r="1.0"/><circle cx="470.8" cy="216.8" r="1.0"/><circle cx="462.8" cy="193.5" r="1.0"/><circle cx="467.4" cy="212.8" r="1.0"/><circle cx="463.0" cy="200.6" r="1.0"/><circle cx="461.0" cy="220.9" r="1.0"/><circle cx="467.9" cy="192.1" r="1.0"/><circle cx="472.8" cy="195.0" r="1.0"/><circle cx="473.5" cy="197.1" r="1.0"/><circle cx="472.7" cy="199.4" r="1.0"/><circle cx="468.2" cy="213.4" r="1.0"/><circle cx="457.2" cy="192.2" r="1.0"/><circle cx="459.6" cy="182.6" r="1.0"/><circle cx="455.4" cy="210.4" r="1.0"/><circle cx="465.5" cy="193.3" r="1.0"/><circle cx="460.8" cy="189.5" r="1.0"/><circle cx="467.8" cy="192.9" r="1.0"/><circle cx="472.8" cy="187.6" r="1.0"/><circle cx="468.6" cy="207.9" r="1.0"/><circle cx="464.1" cy="206.1" r="1.0"/><circle cx="469.6" cy="221.0" r="1.0"/><circle cx="456.9" cy="215.9" r="1.0"/><circle cx="473.6" cy="207.5" r="1.0"/><circle cx="464.4" cy="209.3" r="1.0"/><circle cx="457.6" cy="209.7" r="1.0"/><circle cx="469.3" cy="212.6" r="1.0"/><circle cx="464.2" cy="185.1" r="1.0"/><circle cx="460.9" cy="207.7" r="1.0"/><circle cx="472.4" cy="210.9" r="1.0"/><circle cx="461.4" cy="218.8" r="1.0"/><circle cx="470.8" cy="189.3" r="1.0"/><circle cx="471.0" cy="208.4" r="1.0"/><circle cx="461.0" cy="217.5" r="1.0"/><circle cx="459.9" cy="207.4" r="1.0"/><circle cx="467.2" cy="215.0" r="1.0"/><circle cx="464.1" cy="193.4" r="1.0"/><circle cx="458.4" cy="207.7" r="1.0"/><circle cx="463.6" cy="190.8" r="1.0"/><circle cx="464.0" cy="185.1" r="1.0"/><circle cx="468.7" cy="220.0" r="1.0"/><circle cx="468.7" cy="184.1" r="1.0"/><circle cx="468.0" cy="212.2" r="1.0"/><circle cx="467.7" cy="182.3" r="1.0"/><circle cx="470.2" cy="191.4" r="1.0"/><circle cx="461.2" cy="197.0" r="1.0"/><circle cx="471.3" cy="190.3" r="1.0"/><circle cx="471.8" cy="192.6" r="1.0"/><circle cx="456.1" cy="204.7" r="1.0"/><circle cx="464.7" cy="209.9" r="1.0"/><circle cx="468.6" cy="182.3" r="1.0"/><circle cx="453.8" cy="194.8" r="1.0"/><circle cx="468.0" cy="213.9" r="1.0"/><circle cx="457.1" cy="199.6" r="1.0"/><circle cx="466.1" cy="205.2" r="1.0"/><circle cx="463.9" cy="211.2" r="1.0"/><circle cx="468.9" cy="206.7" r="1.0"/><circle cx="457.7" cy="191.1" r="1.0"/><circle cx="469.9" cy="203.5" r="1.0"/><circle cx="469.7" cy="215.2" r="1.0"/><circle cx="468.9" cy="201.7" r="1.0"/><circle cx="462.2" cy="187.0" r="1.0"/><circle cx="469.1" cy="184.8" r="1.0"/><circle cx="466.5" cy="222.0" r="1.0"/><circle cx="461.8" cy="213.5" r="1.0"/><circle cx="457.4" cy="215.0" r="1.0"/><circle cx="460.8" cy="199.0" r="1.0"/><circle cx="459.5" cy="217.4" r="1.0"/><circle cx="456.2" cy="189.7" r="1.0"/><circle cx="461.4" cy="216.6" r="1.0"/><circle cx="461.5" cy="218.7" r="1.0"/><circle cx="459.6" cy="216.4" r="1.0"/><circle cx="470.7" cy="218.7" r="1.0"/><circle cx="466.8" cy="217.9" r="1.0"/><circle cx="469.9" cy="218.5" r="1.0"/><circle cx="461.0" cy="220.8" r="1.0"/><circle cx="468.1" cy="216.9" r="1.0"/><circle cx="456.8" cy="198.0" r="1.0"/><circle cx="463.7" cy="218.6" r="1.0"/><circle cx="472.9" cy="205.3" r="1.0"/><circle cx="458.5" cy="203.5" r="1.0"/><circle cx="464.7" cy="211.1" r="1.0"/><circle cx="468.3" cy="194.8" r="1.0"/><circle cx="460.5" cy="218.7" r="1.0"/><circle cx="468.1" cy="215.6" r="1.0"/><circle cx="457.1" cy="205.0" r="1.0"/><circle cx="459.7" cy="210.3" r="1.0"/><circle cx="471.6" cy="193.9" r="1.0"/><circle cx="455.2" cy="194.8" r="1.0"/><circle cx="471.3" cy="216.7" r="1.0"/><circle cx="462.0" cy="196.3" r="1.0"/><circle cx="469.8" cy="205.8" r="1.0"/><circle cx="466.2" cy="181.2" r="1.0"/><circle cx="473.1" cy="193.1" r="1.0"/><circle cx="474.1" cy="200.8" r="1.0"/><circle cx="467.6" cy="202.2" r="1.0"/><circle cx="459.9" cy="183.1" r="1.0"/><circle cx="461.2" cy="195.9" r="1.0"/><circle cx="462.6" cy="190.3" r="1.0"/><circle cx="465.2" cy="186.0" r="1.0"/><circle cx="469.1" cy="220.8" r="1.0"/><circle cx="474.1" cy="208.7" r="1.0"/><circle cx="466.6" cy="212.6" r="1.0"/><circle cx="454.7" cy="202.5" r="1.0"/><circle cx="469.6" cy="218.4" r="1.0"/><circle cx="467.1" cy="215.3" r="1.0"/><circle cx="471.3" cy="215.6" r="1.0"/><circle cx="467.9" cy="221.1" r="1.0"/><circle cx="470.4" cy="181.6" r="1.0"/><circle cx="463.1" cy="206.7" r="1.0"/><circle cx="458.9" cy="201.4" r="1.0"/><circle cx="465.8" cy="182.8" r="1.0"/><circle cx="455.5" cy="208.6" r="1.0"/><circle cx="469.7" cy="219.4" r="1.0"/><circle cx="464.6" cy="217.4" r="1.0"/><circle cx="463.4" cy="199.6" r="1.0"/><circle cx="474.2" cy="199.0" r="1.0"/><circle cx="469.7" cy="219.3" r="1.0"/><circle cx="464.4" cy="204.9" r="1.0"/><circle cx="460.0" cy="211.1" r="1.0"/><circle cx="473.7" cy="190.8" r="1.0"/><circle cx="459.1" cy="194.7" r="1.0"/><circle cx="454.8" cy="203.8" r="1.0"/><circle cx="456.4" cy="205.0" r="1.0"/><circle cx="457.8" cy="216.2" r="1.0"/><circle cx="460.4" cy="215.2" r="1.0"/><circle cx="469.0" cy="214.7" r="1.0"/><circle cx="459.5" cy="220.5" r="1.0"/><circle cx="459.2" cy="221.5" r="1.0"/><circle cx="453.2" cy="198.2" r="1.0"/><circle cx="454.6" cy="203.9" r="1.0"/><circle cx="473.7" cy="206.2" r="1.0"/><circle cx="466.6" cy="214.5" r="1.0"/><circle cx="472.0" cy="186.2" r="1.0"/><circle cx="474.1" cy="198.7" r="1.0"/><circle cx="460.3" cy="189.0" r="1.0"/><circle cx="467.6" cy="220.2" r="1.0"/><circle cx="463.3" cy="191.0" r="1.0"/><circle cx="458.5" cy="205.7" r="1.0"/><circle cx="455.5" cy="192.4" r="1.0"/><circle cx="462.2" cy="204.5" r="1.0"/><circle cx="463.6" cy="198.1" r="1.0"/><circle cx="461.6" cy="198.0" r="1.0"/><circle cx="458.0" cy="213.9" r="1.0"/><circle cx="463.2" cy="186.4" r="1.0"/><circle cx="463.6" cy="195.6" r="1.0"/><circle cx="470.4" cy="217.2" r="1.0"/><circle cx="470.6" cy="215.7" r="1.0"/><circle cx="460.9" cy="193.0" r="1.0"/><circle cx="460.5" cy="187.3" r="1.0"/><circle cx="458.5" cy="194.3" r="1.0"/><circle cx="473.8" cy="197.4" r="1.0"/><circle cx="473.2" cy="204.7" r="1.0"/><circle cx="469.8" cy="205.2" r="1.0"/><circle cx="465.9" cy="210.5" r="1.0"/><circle cx="465.4" cy="219.4" r="1.0"/><circle cx="457.9" cy="204.3" r="1.0"/><circle cx="462.9" cy="186.6" r="1.0"/><circle cx="455.8" cy="200.4" r="1.0"/><circle cx="457.3" cy="220.4" r="1.0"/><circle cx="458.4" cy="201.8" r="1.0"/><circle cx="471.6" cy="200.5" r="1.0"/><circle cx="462.7" cy="220.8" r="1.0"/><circle cx="471.6" cy="212.0" r="1.0"/><circle cx="461.8" cy="195.6" r="1.0"/><circle cx="471.7" cy="201.5" r="1.0"/><circle cx="472.8" cy="196.2" r="1.0"/><circle cx="467.7" cy="190.9" r="1.0"/><circle cx="454.5" cy="209.1" r="1.0"/><circle cx="471.5" cy="197.2" r="1.0"/><circle cx="454.2" cy="200.3" r="1.0"/><circle cx="465.0" cy="203.0" r="1.0"/><circle cx="462.3" cy="202.9" r="1.0"/><circle cx="466.5" cy="219.9" r="1.0"/><circle cx="462.9" cy="201.9" r="1.0"/><circle cx="459.6" cy="214.1" r="1.0"/><circle cx="470.0" cy="203.4" r="1.0"/><circle cx="458.4" cy="186.1" r="1.0"/><circle cx="466.5" cy="183.9" r="1.0"/><circle cx="466.7" cy="215.1" r="1.0"/><circle cx="454.4" cy="208.7" r="1.0"/><circle cx="463.3" cy="198.7" r="1.0"/><circle cx="458.6" cy="197.6" r="1.0"/><circle cx="458.0" cy="199.0" r="1.0"/><circle cx="465.2" cy="185.0" r="1.0"/><circle cx="463.2" cy="182.2" r="1.0"/><circle cx="471.0" cy="200.2" r="1.0"/><circle cx="463.3" cy="211.8" r="1.0"/><circle cx="467.1" cy="180.7" r="1.0"/><circle cx="466.7" cy="212.4" r="1.0"/><circle cx="464.0" cy="221.7" r="1.0"/></g>
<text x="464.1" y="233.8" font-size="4.8" text-anchor="middle" fill="#222" stroke="#222" stroke-width="0.12">High-MTA2</text>
<path d="M514.5,187.4L527.1,203.5L534.1,209L536.8,213.7L532.1,217L519.1,222.6L509.1,222.6L496.1,217L491.4,213.7L494.1,209L501.1,203.5L513.7,187.4Z" fill="#9ddbd5" stroke="#141414" stroke-width="0.85" stroke-linejoin="round"/>
<path d="M495.3,204.2L533.5,204.2L533.5,206.7L523.95,208L533.5,209.3L533.5,211.2L495.3,211.2L495.3,209.3L504.85,208L495.3,206.7Z" fill="#3bb2ac" stroke="#141414" stroke-width="0.85"/>
<line x1="504.85" y1="208" x2="523.95" y2="208" stroke="#141414" stroke-width="1.0"/>
<g fill="#0f7f72" stroke="#03302a" stroke-width="0.2"><circle cx="504.7" cy="200.2" r="1.0"/><circle cx="510.2" cy="195.4" r="1.0"/><circle cx="517.6" cy="201.3" r="1.0"/><circle cx="505.8" cy="202.9" r="1.0"/><circle cx="506.7" cy="197.5" r="1.0"/><circle cx="514.2" cy="194.4" r="1.0"/><circle cx="509.9" cy="189.8" r="1.0"/><circle cx="515.0" cy="200.4" r="1.0"/><circle cx="515.3" cy="194.5" r="1.0"/><circle cx="504.2" cy="202.1" r="1.0"/><circle cx="518.1" cy="202.1" r="1.0"/><circle cx="509.2" cy="196.4" r="1.0"/><circle cx="510.8" cy="203.6" r="1.0"/><circle cx="508.5" cy="191.8" r="1.0"/><circle cx="516.2" cy="202.5" r="1.0"/><circle cx="518.7" cy="202.1" r="1.0"/><circle cx="522.6" cy="199.0" r="1.0"/><circle cx="514.9" cy="196.9" r="1.0"/><circle cx="516.5" cy="202.3" r="1.0"/><circle cx="515.6" cy="202.6" r="1.0"/><circle cx="505.0" cy="201.0" r="1.0"/><circle cx="511.2" cy="194.6" r="1.0"/><circle cx="510.4" cy="191.5" r="1.0"/><circle cx="511.0" cy="192.0" r="1.0"/><circle cx="511.4" cy="200.2" r="1.0"/><circle cx="509.8" cy="196.8" r="1.0"/><circle cx="520.2" cy="195.2" r="1.0"/><circle cx="516.3" cy="200.3" r="1.0"/><circle cx="517.3" cy="193.5" r="1.0"/><circle cx="512.4" cy="193.4" r="1.0"/><circle cx="516.9" cy="203.9" r="1.0"/><circle cx="517.5" cy="199.3" r="1.0"/><circle cx="519.6" cy="202.4" r="1.0"/><circle cx="507.5" cy="194.6" r="1.0"/><circle cx="510.8" cy="196.0" r="1.0"/><circle cx="520.3" cy="194.3" r="1.0"/><circle cx="510.4" cy="202.8" r="1.0"/><circle cx="512.0" cy="200.4" r="1.0"/><circle cx="513.3" cy="203.2" r="1.0"/><circle cx="510.6" cy="195.2" r="1.0"/><circle cx="509.7" cy="199.3" r="1.0"/><circle cx="521.6" cy="199.6" r="1.0"/><circle cx="509.8" cy="197.2" r="1.0"/><circle cx="514.3" cy="204.0" r="1.0"/><circle cx="507.8" cy="191.8" r="1.0"/><circle cx="517.0" cy="206.0" r="1.0"/><circle cx="512.3" cy="218.7" r="1.0"/><circle cx="511.4" cy="205.2" r="1.0"/><circle cx="514.5" cy="222.4" r="1.0"/><circle cx="519.2" cy="222.0" r="1.0"/><circle cx="519.2" cy="204.2" r="1.0"/><circle cx="515.0" cy="216.6" r="1.0"/><circle cx="517.3" cy="208.9" r="1.0"/><circle cx="512.6" cy="206.1" r="1.0"/><circle cx="524.5" cy="212.4" r="1.0"/><circle cx="509.4" cy="220.2" r="1.0"/><circle cx="506.7" cy="213.3" r="1.0"/><circle cx="520.4" cy="220.9" r="1.0"/><circle cx="517.3" cy="209.5" r="1.0"/><circle cx="506.1" cy="215.3" r="1.0"/><circle cx="515.0" cy="218.1" r="1.0"/><circle cx="514.8" cy="218.4" r="1.0"/><circle cx="510.1" cy="204.0" r="1.0"/><circle cx="524.0" cy="204.4" r="1.0"/><circle cx="520.7" cy="220.3" r="1.0"/><circle cx="503.9" cy="209.7" r="1.0"/><circle cx="523.0" cy="220.2" r="1.0"/><circle cx="513.8" cy="205.6" r="1.0"/><circle cx="520.1" cy="205.3" r="1.0"/><circle cx="505.6" cy="218.2" r="1.0"/><circle cx="515.2" cy="212.8" r="1.0"/><circle cx="522.7" cy="208.9" r="1.0"/><circle cx="507.5" cy="211.8" r="1.0"/><circle cx="519.4" cy="214.0" r="1.0"/><circle cx="509.8" cy="207.7" r="1.0"/><circle cx="516.2" cy="222.4" r="1.0"/><circle cx="514.5" cy="212.1" r="1.0"/><circle cx="507.8" cy="206.2" r="1.0"/><circle cx="516.1" cy="210.3" r="1.0"/><circle cx="507.7" cy="208.3" r="1.0"/><circle cx="517.1" cy="205.3" r="1.0"/><circle cx="523.4" cy="208.2" r="1.0"/><circle cx="504.9" cy="219.9" r="1.0"/><circle cx="518.0" cy="208.4" r="1.0"/><circle cx="505.6" cy="208.0" r="1.0"/><circle cx="515.2" cy="221.3" r="1.0"/><circle cx="520.6" cy="212.7" r="1.0"/><circle cx="507.0" cy="218.9" r="1.0"/><circle cx="512.5" cy="205.8" r="1.0"/><circle cx="513.3" cy="211.8" r="1.0"/><circle cx="518.1" cy="217.5" r="1.0"/><circle cx="508.5" cy="222.2" r="1.0"/><circle cx="510.4" cy="211.4" r="1.0"/><circle cx="508.8" cy="219.9" r="1.0"/><circle cx="512.9" cy="207.5" r="1.0"/><circle cx="509.0" cy="211.8" r="1.0"/><circle cx="523.8" cy="208.6" r="1.0"/><circle cx="522.4" cy="212.2" r="1.0"/><circle cx="503.8" cy="214.2" r="1.0"/><circle cx="518.8" cy="222.5" r="1.0"/><circle cx="520.1" cy="221.9" r="1.0"/><circle cx="506.7" cy="219.7" r="1.0"/><circle cx="507.5" cy="213.0" r="1.0"/><circle cx="503.9" cy="211.4" r="1.0"/><circle cx="525.3" cy="211.0" r="1.0"/><circle cx="520.6" cy="208.9" r="1.0"/><circle cx="512.3" cy="212.4" r="1.0"/><circle cx="521.0" cy="221.7" r="1.0"/><circle cx="519.1" cy="214.3" r="1.0"/><circle cx="509.4" cy="206.9" r="1.0"/><circle cx="515.2" cy="221.9" r="1.0"/><circle cx="519.8" cy="214.0" r="1.0"/><circle cx="516.0" cy="205.1" r="1.0"/><circle cx="522.2" cy="213.3" r="1.0"/><circle cx="524.7" cy="206.9" r="1.0"/><circle cx="506.9" cy="205.5" r="1.0"/><circle cx="518.1" cy="215.0" r="1.0"/><circle cx="505.4" cy="208.4" r="1.0"/><circle cx="509.3" cy="220.5" r="1.0"/><circle cx="516.8" cy="215.0" r="1.0"/><circle cx="516.0" cy="211.8" r="1.0"/><circle cx="524.1" cy="213.7" r="1.0"/><circle cx="519.1" cy="207.8" r="1.0"/><circle cx="511.7" cy="208.4" r="1.0"/><circle cx="509.5" cy="216.4" r="1.0"/><circle cx="519.9" cy="209.8" r="1.0"/><circle cx="513.1" cy="205.3" r="1.0"/><circle cx="521.0" cy="222.5" r="1.0"/><circle cx="507.5" cy="205.4" r="1.0"/><circle cx="524.1" cy="208.9" r="1.0"/><circle cx="521.6" cy="220.3" r="1.0"/><circle cx="506.2" cy="210.8" r="1.0"/><circle cx="518.8" cy="219.4" r="1.0"/><circle cx="525.3" cy="215.3" r="1.0"/><circle cx="502.8" cy="216.1" r="1.0"/><circle cx="509.5" cy="219.1" r="1.0"/><circle cx="524.2" cy="216.3" r="1.0"/><circle cx="505.3" cy="206.5" r="1.0"/><circle cx="515.3" cy="206.0" r="1.0"/><circle cx="516.5" cy="209.0" r="1.0"/><circle cx="507.3" cy="217.3" r="1.0"/><circle cx="508.7" cy="215.7" r="1.0"/><circle cx="523.4" cy="213.0" r="1.0"/><circle cx="504.9" cy="219.7" r="1.0"/><circle cx="509.0" cy="211.8" r="1.0"/><circle cx="520.3" cy="204.1" r="1.0"/><circle cx="508.6" cy="215.8" r="1.0"/><circle cx="515.3" cy="217.7" r="1.0"/><circle cx="502.8" cy="211.9" r="1.0"/><circle cx="522.9" cy="205.4" r="1.0"/><circle cx="514.9" cy="220.7" r="1.0"/><circle cx="516.0" cy="219.4" r="1.0"/><circle cx="505.5" cy="206.7" r="1.0"/><circle cx="523.3" cy="209.7" r="1.0"/><circle cx="522.4" cy="218.7" r="1.0"/><circle cx="508.8" cy="220.6" r="1.0"/><circle cx="505.0" cy="208.6" r="1.0"/><circle cx="522.9" cy="218.4" r="1.0"/><circle cx="516.9" cy="211.5" r="1.0"/><circle cx="524.0" cy="206.9" r="1.0"/><circle cx="524.1" cy="220.0" r="1.0"/><circle cx="522.9" cy="219.0" r="1.0"/><circle cx="519.5" cy="204.5" r="1.0"/><circle cx="524.0" cy="210.1" r="1.0"/><circle cx="522.5" cy="218.8" r="1.0"/><circle cx="508.7" cy="219.0" r="1.0"/><circle cx="505.1" cy="218.6" r="1.0"/><circle cx="521.4" cy="220.1" r="1.0"/><circle cx="521.4" cy="208.1" r="1.0"/><circle cx="509.6" cy="212.5" r="1.0"/><circle cx="507.8" cy="218.7" r="1.0"/><circle cx="507.0" cy="204.4" r="1.0"/><circle cx="522.5" cy="210.1" r="1.0"/><circle cx="511.0" cy="221.9" r="1.0"/><circle cx="511.8" cy="215.9" r="1.0"/><circle cx="514.6" cy="222.2" r="1.0"/><circle cx="508.4" cy="221.4" r="1.0"/><circle cx="509.6" cy="222.0" r="1.0"/><circle cx="510.8" cy="221.8" r="1.0"/><circle cx="512.6" cy="206.0" r="1.0"/><circle cx="509.8" cy="217.5" r="1.0"/><circle cx="514.4" cy="215.2" r="1.0"/><circle cx="515.9" cy="211.1" r="1.0"/><circle cx="518.9" cy="208.7" r="1.0"/><circle cx="523.9" cy="204.0" r="1.0"/><circle cx="519.1" cy="214.0" r="1.0"/><circle cx="518.0" cy="217.7" r="1.0"/><circle cx="504.2" cy="210.7" r="1.0"/><circle cx="510.2" cy="216.3" r="1.0"/><circle cx="522.1" cy="209.8" r="1.0"/><circle cx="509.5" cy="217.3" r="1.0"/><circle cx="512.0" cy="209.7" r="1.0"/><circle cx="509.4" cy="211.4" r="1.0"/><circle cx="512.3" cy="206.4" r="1.0"/><circle cx="516.7" cy="221.4" r="1.0"/><circle cx="516.2" cy="220.7" r="1.0"/><circle cx="515.2" cy="209.6" r="1.0"/><circle cx="509.2" cy="204.0" r="1.0"/><circle cx="515.9" cy="212.0" r="1.0"/><circle cx="513.3" cy="216.1" r="1.0"/><circle cx="507.5" cy="212.2" r="1.0"/><circle cx="523.3" cy="212.8" r="1.0"/><circle cx="506.5" cy="218.7" r="1.0"/><circle cx="514.5" cy="205.6" r="1.0"/><circle cx="510.3" cy="215.7" r="1.0"/><circle cx="519.9" cy="219.1" r="1.0"/><circle cx="507.8" cy="216.4" r="1.0"/><circle cx="503.2" cy="207.7" r="1.0"/><circle cx="513.5" cy="208.5" r="1.0"/><circle cx="504.6" cy="219.7" r="1.0"/><circle cx="517.1" cy="211.7" r="1.0"/><circle cx="518.6" cy="207.6" r="1.0"/><circle cx="508.2" cy="213.1" r="1.0"/><circle cx="502.7" cy="216.1" r="1.0"/><circle cx="520.3" cy="217.9" r="1.0"/><circle cx="512.4" cy="206.0" r="1.0"/><circle cx="524.6" cy="207.3" r="1.0"/><circle cx="503.8" cy="213.6" r="1.0"/><circle cx="522.1" cy="208.6" r="1.0"/><circle cx="521.0" cy="212.4" r="1.0"/><circle cx="525.3" cy="216.4" r="1.0"/><circle cx="524.5" cy="215.0" r="1.0"/><circle cx="516.2" cy="220.5" r="1.0"/><circle cx="514.2" cy="217.3" r="1.0"/><circle cx="515.2" cy="219.4" r="1.0"/><circle cx="518.6" cy="220.6" r="1.0"/><circle cx="508.6" cy="212.8" r="1.0"/><circle cx="517.3" cy="208.6" r="1.0"/><circle cx="514.6" cy="218.2" r="1.0"/><circle cx="508.9" cy="215.6" r="1.0"/><circle cx="509.2" cy="205.4" r="1.0"/><circle cx="510.0" cy="209.0" r="1.0"/><circle cx="505.8" cy="214.0" r="1.0"/><circle cx="518.6" cy="208.3" r="1.0"/><circle cx="504.1" cy="217.1" r="1.0"/><circle cx="515.1" cy="211.5" r="1.0"/><circle cx="507.4" cy="211.7" r="1.0"/><circle cx="523.4" cy="211.8" r="1.0"/><circle cx="518.6" cy="214.8" r="1.0"/><circle cx="519.8" cy="219.8" r="1.0"/><circle cx="502.7" cy="211.0" r="1.0"/><circle cx="519.9" cy="210.5" r="1.0"/><circle cx="524.0" cy="219.8" r="1.0"/><circle cx="519.8" cy="211.8" r="1.0"/><circle cx="516.5" cy="214.1" r="1.0"/><circle cx="507.6" cy="208.1" r="1.0"/><circle cx="503.3" cy="212.1" r="1.0"/><circle cx="518.2" cy="210.2" r="1.0"/><circle cx="506.4" cy="211.5" r="1.0"/><circle cx="505.5" cy="212.6" r="1.0"/><circle cx="503.2" cy="215.5" r="1.0"/><circle cx="515.6" cy="211.3" r="1.0"/><circle cx="517.4" cy="204.5" r="1.0"/><circle cx="513.2" cy="206.5" r="1.0"/><circle cx="511.3" cy="204.9" r="1.0"/></g>
<text x="514.1" y="233.8" font-size="4.8" text-anchor="middle" fill="#222" stroke="#222" stroke-width="0.12">Low-MTA2</text>
<text x="7.11" y="240.7" font-size="9.6" fill="#1a1a1a" stroke="#1a1a1a" stroke-width="0.2">I</text>
<line x1="25.2" y1="251.6" x2="25.2" y2="348.3" stroke="#8a8a8a" stroke-width="0.9"/>
<line x1="23.6" y1="277.8" x2="25.2" y2="277.8" stroke="#8a8a8a" stroke-width="0.5"/>
<text x="22.2" y="279.2" font-size="4.2" text-anchor="end" fill="#555" stroke="#555" stroke-width="0.12">4</text>
<line x1="23.6" y1="311.1" x2="25.2" y2="311.1" stroke="#8a8a8a" stroke-width="0.5"/>
<text x="22.2" y="312.5" font-size="4.2" text-anchor="end" fill="#555" stroke="#555" stroke-width="0.12">2</text>
<line x1="23.6" y1="344.3" x2="25.2" y2="344.3" stroke="#8a8a8a" stroke-width="0.5"/>
<text x="22.2" y="345.7" font-size="4.2" text-anchor="end" fill="#555" stroke="#555" stroke-width="0.12">0</text>
<line x1="24.75" y1="348.3" x2="136.3" y2="348.3" stroke="#8a8a8a" stroke-width="0.9"/>
<line x1="55" y1="348.3" x2="55" y2="349.6" stroke="#8a8a8a" stroke-width="0.45"/>
<line x1="105.6" y1="348.3" x2="105.6" y2="349.6" stroke="#8a8a8a" stroke-width="0.45"/>
<text x="17.2" y="306.8" font-size="4.8" text-anchor="middle" fill="#333" stroke="#333" stroke-width="0.12" transform="rotate(-90 17.2 306.8)">PD-1 expression</text>
<text x="67.6" y="258.4" font-size="7.0" fill="#1a1a1a" stroke="#1a1a1a" stroke-width="0.15" textLength="27.6" lengthAdjust="spacingAndGlyphs">P &lt; 0.001</text>
<circle cx="65.5" cy="255.7" r="0.95" fill="#ea62ae" stroke="#1a0610" stroke-width="0.35"/>
<path d="M55.3,254.9L55.7,290L56.2,300L57.2,310L58,317L60,325L63,332L65,338L64,342L60,344.6L50,344.6L46,342L45,338L47,332L50,325L52,317L52.8,310L53.8,300L54.3,290L54.7,254.9Z" fill="#f5a6d8" stroke="#141414" stroke-width="0.85" stroke-linejoin="round"/>
<path d="M36.3,317.3L74.7,317.3L74.7,332.9L65.1,335.3L74.7,337.5L74.7,339.5L36.3,339.5L36.3,337.5L45.9,335.3L36.3,332.9Z" fill="#f67ac2" stroke="#141414" stroke-width="0.85"/>
<line x1="45.9" y1="335.3" x2="65.1" y2="335.3" stroke="#141414" stroke-width="1.0"/>
<g fill="#ea62ae" stroke="#1a0610" stroke-width="0.2"><circle cx="55.0" cy="278.1" r="1.0"/><circle cx="61.4" cy="272.3" r="1.0"/><circle cx="56.0" cy="277.3" r="1.0"/><circle cx="52.9" cy="313.8" r="1.0"/><circle cx="59.6" cy="315.6" r="1.0"/><circle cx="57.6" cy="295.7" r="1.0"/><circle cx="52.2" cy="297.7" r="1.0"/><circle cx="53.1" cy="316.9" r="1.0"/><circle cx="62.1" cy="316.3" r="1.0"/><circle cx="50.2" cy="260.1" r="1.0"/><circle cx="61.3" cy="292.0" r="1.0"/><circle cx="57.3" cy="273.5" r="1.0"/><circle cx="60.7" cy="285.7" r="1.0"/><circle cx="60.2" cy="313.8" r="1.0"/><circle cx="60.2" cy="274.6" r="1.0"/><circle cx="61.7" cy="289.8" r="1.0"/><circle cx="63.1" cy="291.6" r="1.0"/><circle cx="61.5" cy="316.4" r="1.0"/><circle cx="61.4" cy="309.2" r="1.0"/><circle cx="48.5" cy="298.0" r="1.0"/><circle cx="54.3" cy="316.4" r="1.0"/><circle cx="53.7" cy="258.5" r="1.0"/><circle cx="49.0" cy="288.5" r="1.0"/><circle cx="47.2" cy="315.3" r="1.0"/><circle cx="56.0" cy="312.8" r="1.0"/><circle cx="52.2" cy="273.6" r="1.0"/><circle cx="47.4" cy="290.5" r="1.0"/><circle cx="58.0" cy="306.3" r="1.0"/><circle cx="61.6" cy="316.2" r="1.0"/><circle cx="64.9" cy="307.4" r="1.0"/><circle cx="57.9" cy="314.0" r="1.0"/><circle cx="55.5" cy="295.2" r="1.0"/><circle cx="63.5" cy="308.7" r="1.0"/><circle cx="61.8" cy="309.4" r="1.0"/><circle cx="53.4" cy="260.0" r="1.0"/><circle cx="56.7" cy="266.2" r="1.0"/><circle cx="56.2" cy="297.3" r="1.0"/><circle cx="49.5" cy="310.7" r="1.0"/><circle cx="56.7" cy="326.5" r="1.0"/><circle cx="64.6" cy="319.8" r="1.0"/><circle cx="54.3" cy="317.7" r="1.0"/><circle cx="56.9" cy="324.0" r="1.0"/><circle cx="56.0" cy="329.8" r="1.0"/><circle cx="50.9" cy="328.5" r="1.0"/><circle cx="47.9" cy="323.3" r="1.0"/><circle cx="53.4" cy="325.3" r="1.0"/><circle cx="47.2" cy="327.2" r="1.0"/><circle cx="64.2" cy="323.0" r="1.0"/><circle cx="58.2" cy="317.1" r="1.0"/><circle cx="59.5" cy="325.8" r="1.0"/><circle cx="55.0" cy="324.2" r="1.0"/><circle cx="50.7" cy="329.5" r="1.0"/><circle cx="58.4" cy="326.1" r="1.0"/><circle cx="54.6" cy="326.5" r="1.0"/><circle cx="60.5" cy="317.2" r="1.0"/><circle cx="60.6" cy="320.6" r="1.0"/><circle cx="60.5" cy="329.8" r="1.0"/><circle cx="62.1" cy="322.2" r="1.0"/><circle cx="51.4" cy="322.0" r="1.0"/><circle cx="58.1" cy="324.4" r="1.0"/><circle cx="56.1" cy="325.9" r="1.0"/><circle cx="59.9" cy="322.3" r="1.0"/><circle cx="57.1" cy="321.2" r="1.0"/><circle cx="47.6" cy="317.1" r="1.0"/><circle cx="49.3" cy="328.3" r="1.0"/><circle cx="46.1" cy="322.4" r="1.0"/><circle cx="51.6" cy="326.9" r="1.0"/><circle cx="50.5" cy="317.6" r="1.0"/><circle cx="60.1" cy="329.1" r="1.0"/><circle cx="64.1" cy="317.0" r="1.0"/><circle cx="54.7" cy="317.9" r="1.0"/><circle cx="60.7" cy="323.9" r="1.0"/><circle cx="61.5" cy="318.8" r="1.0"/><circle cx="59.8" cy="334.1" r="1.0"/><circle cx="56.8" cy="343.9" r="1.0"/><circle cx="58.3" cy="330.0" r="1.0"/><circle cx="59.6" cy="336.5" r="1.0"/><circle cx="47.1" cy="341.8" r="1.0"/><circle cx="57.9" cy="338.5" r="1.0"/><circle cx="57.3" cy="343.9" r="1.0"/><circle cx="60.4" cy="339.2" r="1.0"/><circle cx="62.2" cy="332.4" r="1.0"/><circle cx="57.7" cy="338.7" r="1.0"/><circle cx="55.5" cy="332.3" r="1.0"/><circle cx="49.1" cy="336.1" r="1.0"/><circle cx="61.9" cy="344.1" r="1.0"/><circle cx="46.5" cy="336.9" r="1.0"/><circle cx="47.4" cy="344.8" r="1.0"/><circle cx="56.3" cy="337.6" r="1.0"/><circle cx="58.1" cy="342.8" r="1.0"/><circle cx="55.3" cy="339.1" r="1.0"/><circle cx="61.4" cy="344.7" r="1.0"/><circle cx="60.9" cy="335.3" r="1.0"/><circle cx="54.7" cy="344.2" r="1.0"/><circle cx="46.3" cy="331.3" r="1.0"/><circle cx="49.2" cy="344.5" r="1.0"/><circle cx="48.9" cy="342.1" r="1.0"/><circle cx="48.2" cy="333.4" r="1.0"/><circle cx="46.8" cy="342.2" r="1.0"/><circle cx="61.2" cy="337.1" r="1.0"/><circle cx="45.2" cy="337.9" r="1.0"/><circle cx="61.6" cy="330.2" r="1.0"/><circle cx="46.7" cy="334.5" r="1.0"/><circle cx="60.7" cy="337.9" r="1.0"/><circle cx="47.7" cy="334.5" r="1.0"/><circle cx="54.5" cy="332.8" r="1.0"/><circle cx="46.7" cy="341.7" r="1.0"/><circle cx="58.6" cy="341.4" r="1.0"/><circle cx="52.7" cy="338.4" r="1.0"/><circle cx="55.1" cy="330.5" r="1.0"/><circle cx="58.6" cy="336.2" r="1.0"/><circle cx="48.3" cy="330.9" r="1.0"/><circle cx="54.7" cy="330.3" r="1.0"/><circle cx="55.7" cy="330.9" r="1.0"/><circle cx="51.6" cy="336.6" r="1.0"/><circle cx="63.4" cy="332.9" r="1.0"/><circle cx="47.0" cy="337.2" r="1.0"/><circle cx="60.3" cy="338.7" r="1.0"/><circle cx="62.8" cy="337.3" r="1.0"/><circle cx="58.6" cy="342.6" r="1.0"/><circle cx="53.0" cy="330.4" r="1.0"/><circle cx="48.4" cy="337.7" r="1.0"/><circle cx="58.4" cy="337.5" r="1.0"/><circle cx="60.2" cy="341.3" r="1.0"/><circle cx="51.0" cy="341.2" r="1.0"/><circle cx="55.0" cy="339.2" r="1.0"/><circle cx="47.4" cy="341.4" r="1.0"/><circle cx="59.3" cy="332.6" r="1.0"/><circle cx="49.6" cy="340.9" r="1.0"/><circle cx="60.5" cy="341.5" r="1.0"/><circle cx="54.2" cy="339.7" r="1.0"/><circle cx="49.6" cy="330.9" r="1.0"/><circle cx="63.6" cy="341.5" r="1.0"/><circle cx="45.7" cy="332.5" r="1.0"/><circle cx="63.8" cy="335.2" r="1.0"/><circle cx="63.7" cy="333.2" r="1.0"/><circle cx="61.8" cy="341.8" r="1.0"/><circle cx="58.5" cy="344.9" r="1.0"/><circle cx="53.7" cy="333.0" r="1.0"/><circle cx="58.3" cy="336.0" r="1.0"/><circle cx="59.6" cy="335.3" r="1.0"/><circle cx="49.5" cy="330.4" r="1.0"/><circle cx="48.4" cy="333.3" r="1.0"/><circle cx="62.5" cy="341.2" r="1.0"/><circle cx="54.5" cy="331.4" r="1.0"/><circle cx="50.0" cy="330.1" r="1.0"/><circle cx="58.8" cy="332.2" r="1.0"/><circle cx="61.9" cy="342.5" r="1.0"/><circle cx="53.2" cy="334.1" r="1.0"/><circle cx="58.3" cy="333.5" r="1.0"/><circle cx="60.3" cy="333.4" r="1.0"/><circle cx="56.0" cy="337.1" r="1.0"/><circle cx="63.5" cy="343.1" r="1.0"/><circle cx="59.5" cy="334.0" r="1.0"/><circle cx="45.2" cy="334.1" r="1.0"/><circle cx="48.8" cy="342.8" r="1.0"/><circle cx="59.4" cy="334.2" r="1.0"/><circle cx="52.8" cy="342.8" r="1.0"/><circle cx="52.9" cy="340.7" r="1.0"/><circle cx="56.1" cy="330.3" r="1.0"/><circle cx="49.2" cy="332.6" r="1.0"/><circle cx="57.9" cy="336.1" r="1.0"/><circle cx="49.4" cy="333.3" r="1.0"/><circle cx="50.5" cy="338.6" r="1.0"/><circle cx="58.5" cy="338.4" r="1.0"/><circle cx="63.0" cy="334.6" r="1.0"/><circle cx="45.8" cy="344.5" r="1.0"/><circle cx="47.2" cy="331.0" r="1.0"/><circle cx="51.0" cy="337.4" r="1.0"/><circle cx="64.7" cy="341.0" r="1.0"/><circle cx="50.5" cy="336.8" r="1.0"/><circle cx="63.2" cy="333.3" r="1.0"/><circle cx="62.6" cy="342.2" r="1.0"/><circle cx="54.1" cy="345.0" r="1.0"/><circle cx="51.7" cy="341.2" r="1.0"/><circle cx="58.9" cy="332.1" r="1.0"/><circle cx="55.8" cy="335.6" r="1.0"/><circle cx="49.9" cy="338.5" r="1.0"/><circle cx="59.9" cy="330.3" r="1.0"/><circle cx="60.3" cy="341.4" r="1.0"/><circle cx="51.7" cy="334.9" r="1.0"/><circle cx="52.4" cy="339.4" r="1.0"/><circle cx="55.4" cy="341.2" r="1.0"/><circle cx="62.1" cy="337.9" r="1.0"/><circle cx="49.2" cy="331.8" r="1.0"/><circle cx="62.1" cy="337.8" r="1.0"/><circle cx="62.5" cy="343.8" r="1.0"/><circle cx="51.3" cy="333.0" r="1.0"/></g>
<text x="55" y="354.6" font-size="4.8" text-anchor="middle" fill="#222" stroke="#222" stroke-width="0.12">High-MTA2</text>
<path d="M105.9,295.3L106.4,310L107.2,320L108.6,326.5L110.6,330L113.1,334.8L123.6,338L128.5,340.9L119.6,342.5L110.6,343.6L100.6,343.6L91.6,342.5L82.7,340.9L87.6,338L98.1,334.8L100.6,330L102.6,326.5L104,320L104.8,310L105.3,295.3Z" fill="#9ddbd5" stroke="#141414" stroke-width="0.85" stroke-linejoin="round"/>
<path d="M86.5,334.8L124.7,334.8L124.7,336.5L115.15,337.5L124.7,338.5L124.7,339.8L86.5,339.8L86.5,338.5L96.05,337.5L86.5,336.5Z" fill="#3bb2ac" stroke="#141414" stroke-width="0.85"/>
<line x1="96.05" y1="337.5" x2="115.15" y2="337.5" stroke="#141414" stroke-width="1.0"/>
<g fill="#0f7f72" stroke="#03302a" stroke-width="0.2"><circle cx="99.4" cy="334.5" r="1.0"/><circle cx="105.4" cy="328.0" r="1.0"/><circle cx="104.3" cy="333.6" r="1.0"/><circle cx="100.8" cy="333.0" r="1.0"/><circle cx="104.3" cy="334.9" r="1.0"/><circle cx="103.4" cy="309.4" r="1.0"/><circle cx="99.1" cy="325.3" r="1.0"/><circle cx="98.8" cy="317.6" r="1.0"/><circle cx="101.0" cy="303.1" r="1.0"/><circle cx="102.4" cy="311.6" r="1.0"/><circle cx="104.4" cy="329.4" r="1.0"/><circle cx="111.2" cy="331.5" r="1.0"/><circle cx="111.9" cy="332.4" r="1.0"/><circle cx="108.0" cy="323.7" r="1.0"/><circle cx="106.2" cy="332.1" r="1.0"/><circle cx="105.9" cy="307.4" r="1.0"/><circle cx="101.1" cy="322.3" r="1.0"/><circle cx="101.2" cy="304.6" r="1.0"/><circle cx="110.0" cy="327.2" r="1.0"/><circle cx="104.6" cy="326.1" r="1.0"/><circle cx="98.7" cy="299.7" r="1.0"/><circle cx="106.0" cy="326.0" r="1.0"/><circle cx="101.0" cy="320.0" r="1.0"/><circle cx="101.1" cy="306.4" r="1.0"/><circle cx="107.0" cy="306.7" r="1.0"/><circle cx="106.4" cy="314.7" r="1.0"/><circle cx="106.3" cy="319.1" r="1.0"/><circle cx="109.5" cy="328.5" r="1.0"/><circle cx="112.0" cy="307.8" r="1.0"/><circle cx="110.1" cy="331.4" r="1.0"/><circle cx="111.9" cy="319.9" r="1.0"/><circle cx="101.9" cy="330.3" r="1.0"/><circle cx="112.9" cy="341.6" r="1.0"/><circle cx="114.0" cy="342.3" r="1.0"/><circle cx="109.2" cy="339.8" r="1.0"/><circle cx="108.0" cy="334.8" r="1.0"/><circle cx="109.9" cy="335.6" r="1.0"/><circle cx="103.8" cy="343.9" r="1.0"/><circle cx="99.1" cy="334.8" r="1.0"/><circle cx="98.4" cy="339.7" r="1.0"/><circle cx="107.9" cy="342.1" r="1.0"/><circle cx="109.2" cy="339.5" r="1.0"/><circle cx="104.8" cy="335.7" r="1.0"/><circle cx="106.3" cy="334.5" r="1.0"/><circle cx="98.3" cy="342.7" r="1.0"/><circle cx="116.0" cy="341.6" r="1.0"/><circle cx="99.5" cy="337.6" r="1.0"/><circle cx="112.6" cy="336.8" r="1.0"/><circle cx="109.7" cy="334.9" r="1.0"/><circle cx="111.0" cy="336.9" r="1.0"/><circle cx="110.5" cy="343.8" r="1.0"/><circle cx="106.6" cy="336.1" r="1.0"/><circle cx="113.5" cy="337.5" r="1.0"/><circle cx="98.6" cy="337.2" r="1.0"/><circle cx="96.9" cy="338.5" r="1.0"/><circle cx="109.9" cy="336.5" r="1.0"/><circle cx="99.0" cy="337.6" r="1.0"/><circle cx="102.3" cy="344.3" r="1.0"/><circle cx="109.5" cy="342.8" r="1.0"/><circle cx="108.7" cy="340.1" r="1.0"/><circle cx="112.8" cy="340.4" r="1.0"/><circle cx="100.7" cy="341.6" r="1.0"/><circle cx="105.8" cy="341.2" r="1.0"/><circle cx="100.2" cy="344.1" r="1.0"/><circle cx="115.4" cy="339.0" r="1.0"/><circle cx="108.8" cy="334.7" r="1.0"/><circle cx="107.1" cy="343.9" r="1.0"/><circle cx="109.5" cy="334.6" r="1.0"/><circle cx="106.0" cy="336.9" r="1.0"/><circle cx="102.0" cy="343.0" r="1.0"/><circle cx="97.6" cy="336.7" r="1.0"/><circle cx="97.2" cy="337.8" r="1.0"/><circle cx="112.5" cy="341.6" r="1.0"/><circle cx="106.0" cy="334.6" r="1.0"/><circle cx="111.4" cy="342.7" r="1.0"/><circle cx="106.2" cy="336.9" r="1.0"/><circle cx="106.0" cy="341.5" r="1.0"/><circle cx="111.3" cy="345.0" r="1.0"/><circle cx="100.4" cy="344.6" r="1.0"/><circle cx="106.9" cy="334.3" r="1.0"/><circle cx="100.7" cy="340.4" r="1.0"/><circle cx="111.6" cy="336.7" r="1.0"/><circle cx="95.4" cy="342.8" r="1.0"/><circle cx="109.5" cy="335.4" r="1.0"/><circle cx="98.3" cy="338.6" r="1.0"/><circle cx="103.2" cy="344.4" r="1.0"/><circle cx="104.3" cy="334.9" r="1.0"/><circle cx="108.7" cy="338.5" r="1.0"/><circle cx="96.8" cy="342.4" r="1.0"/><circle cx="114.0" cy="339.2" r="1.0"/><circle cx="113.7" cy="339.3" r="1.0"/><circle cx="109.9" cy="343.9" r="1.0"/><circle cx="97.4" cy="341.2" r="1.0"/><circle cx="102.8" cy="344.8" r="1.0"/><circle cx="105.7" cy="337.4" r="1.0"/><circle cx="111.3" cy="339.9" r="1.0"/><circle cx="114.4" cy="339.9" r="1.0"/><circle cx="108.7" cy="342.6" r="1.0"/><circle cx="108.5" cy="337.0" r="1.0"/><circle cx="111.0" cy="339.5" r="1.0"/><circle cx="111.7" cy="337.0" r="1.0"/><circle cx="98.9" cy="341.8" r="1.0"/><circle cx="105.4" cy="344.3" r="1.0"/><circle cx="102.2" cy="338.9" r="1.0"/><circle cx="111.9" cy="338.3" r="1.0"/><circle cx="105.2" cy="344.1" r="1.0"/><circle cx="104.9" cy="339.9" r="1.0"/><circle cx="112.5" cy="335.3" r="1.0"/><circle cx="95.7" cy="338.6" r="1.0"/><circle cx="101.4" cy="336.6" r="1.0"/><circle cx="98.8" cy="342.6" r="1.0"/><circle cx="113.7" cy="335.7" r="1.0"/><circle cx="114.6" cy="337.4" r="1.0"/><circle cx="99.8" cy="334.1" r="1.0"/><circle cx="103.3" cy="336.3" r="1.0"/><circle cx="102.0" cy="339.9" r="1.0"/><circle cx="111.8" cy="344.6" r="1.0"/><circle cx="115.8" cy="340.2" r="1.0"/><circle cx="112.3" cy="343.5" r="1.0"/><circle cx="97.3" cy="340.5" r="1.0"/><circle cx="96.1" cy="340.2" r="1.0"/><circle cx="116.0" cy="338.5" r="1.0"/><circle cx="109.5" cy="338.3" r="1.0"/><circle cx="108.5" cy="344.5" r="1.0"/><circle cx="105.9" cy="338.2" r="1.0"/><circle cx="110.6" cy="335.3" r="1.0"/><circle cx="101.9" cy="341.1" r="1.0"/><circle cx="113.0" cy="338.8" r="1.0"/><circle cx="101.7" cy="334.5" r="1.0"/><circle cx="111.7" cy="340.9" r="1.0"/><circle cx="108.3" cy="340.0" r="1.0"/><circle cx="106.6" cy="334.1" r="1.0"/><circle cx="96.6" cy="340.1" r="1.0"/><circle cx="100.4" cy="339.8" r="1.0"/><circle cx="111.7" cy="337.8" r="1.0"/><circle cx="97.9" cy="343.2" r="1.0"/><circle cx="107.7" cy="334.9" r="1.0"/><circle cx="107.5" cy="344.2" r="1.0"/><circle cx="110.7" cy="337.8" r="1.0"/><circle cx="99.5" cy="344.0" r="1.0"/><circle cx="104.7" cy="334.4" r="1.0"/><circle cx="106.1" cy="341.8" r="1.0"/><circle cx="98.4" cy="339.3" r="1.0"/><circle cx="96.2" cy="335.8" r="1.0"/><circle cx="100.6" cy="339.1" r="1.0"/><circle cx="104.9" cy="340.4" r="1.0"/><circle cx="111.1" cy="337.5" r="1.0"/><circle cx="104.8" cy="337.7" r="1.0"/><circle cx="109.8" cy="339.0" r="1.0"/><circle cx="109.0" cy="344.8" r="1.0"/><circle cx="109.1" cy="334.0" r="1.0"/><circle cx="108.5" cy="339.8" r="1.0"/><circle cx="98.8" cy="334.4" r="1.0"/><circle cx="100.2" cy="334.2" r="1.0"/><circle cx="109.2" cy="335.3" r="1.0"/><circle cx="103.7" cy="342.4" r="1.0"/><circle cx="104.3" cy="336.4" r="1.0"/><circle cx="101.2" cy="335.3" r="1.0"/><circle cx="113.9" cy="338.9" r="1.0"/><circle cx="97.5" cy="342.0" r="1.0"/><circle cx="115.7" cy="342.8" r="1.0"/><circle cx="101.0" cy="343.8" r="1.0"/><circle cx="115.0" cy="340.5" r="1.0"/><circle cx="107.2" cy="336.8" r="1.0"/><circle cx="115.3" cy="340.9" r="1.0"/><circle cx="105.0" cy="343.1" r="1.0"/><circle cx="99.4" cy="340.5" r="1.0"/><circle cx="100.9" cy="343.0" r="1.0"/><circle cx="98.1" cy="341.3" r="1.0"/><circle cx="112.0" cy="342.0" r="1.0"/><circle cx="104.0" cy="335.2" r="1.0"/><circle cx="106.1" cy="335.8" r="1.0"/><circle cx="114.7" cy="336.6" r="1.0"/><circle cx="98.5" cy="343.2" r="1.0"/><circle cx="100.7" cy="336.7" r="1.0"/><circle cx="106.6" cy="335.5" r="1.0"/><circle cx="105.4" cy="341.9" r="1.0"/><circle cx="98.7" cy="339.6" r="1.0"/><circle cx="112.8" cy="339.0" r="1.0"/><circle cx="101.6" cy="334.9" r="1.0"/><circle cx="105.6" cy="339.7" r="1.0"/><circle cx="110.9" cy="336.1" r="1.0"/><circle cx="105.4" cy="344.8" r="1.0"/><circle cx="111.7" cy="344.9" r="1.0"/><circle cx="101.3" cy="342.3" r="1.0"/><circle cx="114.8" cy="340.2" r="1.0"/><circle cx="105.2" cy="343.3" r="1.0"/><circle cx="100.5" cy="336.7" r="1.0"/><circle cx="111.8" cy="338.3" r="1.0"/><circle cx="106.0" cy="338.5" r="1.0"/><circle cx="104.3" cy="336.2" r="1.0"/><circle cx="96.5" cy="335.7" r="1.0"/></g>
<text x="105.6" y="354.6" font-size="4.8" text-anchor="middle" fill="#222" stroke="#222" stroke-width="0.12">Low-MTA2</text>
<text x="137.84" y="240.7" font-size="9.6" fill="#1a1a1a" stroke="#1a1a1a" stroke-width="0.2">J</text>
<line x1="161.8" y1="251.3" x2="161.8" y2="349.3" stroke="#8a8a8a" stroke-width="0.9"/>
<line x1="160.2" y1="255.7" x2="161.8" y2="255.7" stroke="#8a8a8a" stroke-width="0.5"/>
<text x="158.8" y="257.1" font-size="4.2" text-anchor="end" fill="#555" stroke="#555" stroke-width="0.12">4</text>
<line x1="160.2" y1="278.4" x2="161.8" y2="278.4" stroke="#8a8a8a" stroke-width="0.5"/>
<text x="158.8" y="279.8" font-size="4.2" text-anchor="end" fill="#555" stroke="#555" stroke-width="0.12">3</text>
<line x1="160.2" y1="301.1" x2="161.8" y2="301.1" stroke="#8a8a8a" stroke-width="0.5"/>
<text x="158.8" y="302.5" font-size="4.2" text-anchor="end" fill="#555" stroke="#555" stroke-width="0.12">2</text>
<line x1="160.2" y1="323.6" x2="161.8" y2="323.6" stroke="#8a8a8a" stroke-width="0.5"/>
<text x="158.8" y="325" font-size="4.2" text-anchor="end" fill="#555" stroke="#555" stroke-width="0.12">1</text>
<line x1="160.2" y1="346.1" x2="161.8" y2="346.1" stroke="#8a8a8a" stroke-width="0.5"/>
<text x="158.8" y="347.5" font-size="4.2" text-anchor="end" fill="#555" stroke="#555" stroke-width="0.12">0</text>
<line x1="161.35" y1="349.3" x2="272.9" y2="349.3" stroke="#8a8a8a" stroke-width="0.9"/>
<line x1="192" y1="349.3" x2="192" y2="350.6" stroke="#8a8a8a" stroke-width="0.45"/>
<line x1="242" y1="349.3" x2="242" y2="350.6" stroke="#8a8a8a" stroke-width="0.45"/>
<text x="153.7" y="301.5" font-size="4.8" text-anchor="middle" fill="#333" stroke="#333" stroke-width="0.12" transform="rotate(-90 153.7 301.5)">PD-L1 expression</text>
<text x="203.1" y="258.4" font-size="7.0" fill="#1a1a1a" stroke="#1a1a1a" stroke-width="0.15" textLength="27.6" lengthAdjust="spacingAndGlyphs">P &lt; 0.001</text>
<path d="M192.3,269.8L192.5,300L192.9,315.3L194,320L197,325L200,327.4L204,331L204,338L198,343.9L186,343.9L180,338L180,331L184,327.4L187,325L190,320L191.1,315.3L191.5,300L191.7,269.8Z" fill="#f5a6d8" stroke="#141414" stroke-width="0.85" stroke-linejoin="round"/>
<path d="M173.3,328.3L211.7,328.3L211.7,332.5L202.1,334.4L211.7,336.3L211.7,338.8L173.3,338.8L173.3,336.3L182.9,334.4L173.3,332.5Z" fill="#f67ac2" stroke="#141414" stroke-width="0.85"/>
<line x1="182.9" y1="334.4" x2="202.1" y2="334.4" stroke="#141414" stroke-width="1.0"/>
<g fill="#ea62ae" stroke="#1a0610" stroke-width="0.2"><circle cx="193.0" cy="308.0" r="1.0"/><circle cx="188.8" cy="321.1" r="1.0"/><circle cx="195.5" cy="299.3" r="1.0"/><circle cx="189.5" cy="307.6" r="1.0"/><circle cx="188.9" cy="303.7" r="1.0"/><circle cx="194.4" cy="289.9" r="1.0"/><circle cx="195.4" cy="324.2" r="1.0"/><circle cx="189.1" cy="314.2" r="1.0"/><circle cx="185.6" cy="305.1" r="1.0"/><circle cx="188.3" cy="318.0" r="1.0"/><circle cx="200.7" cy="297.7" r="1.0"/><circle cx="200.6" cy="300.4" r="1.0"/><circle cx="196.7" cy="313.5" r="1.0"/><circle cx="186.2" cy="313.9" r="1.0"/><circle cx="187.7" cy="317.3" r="1.0"/><circle cx="185.3" cy="303.9" r="1.0"/><circle cx="189.6" cy="280.6" r="1.0"/><circle cx="189.9" cy="274.5" r="1.0"/><circle cx="201.0" cy="322.6" r="1.0"/><circle cx="184.9" cy="304.6" r="1.0"/><circle cx="184.1" cy="300.7" r="1.0"/><circle cx="194.2" cy="293.2" r="1.0"/><circle cx="183.6" cy="313.4" r="1.0"/><circle cx="190.6" cy="307.7" r="1.0"/><circle cx="185.4" cy="303.4" r="1.0"/><circle cx="184.8" cy="303.1" r="1.0"/><circle cx="194.7" cy="316.3" r="1.0"/><circle cx="190.3" cy="313.9" r="1.0"/><circle cx="189.6" cy="344.3" r="1.0"/><circle cx="189.3" cy="331.3" r="1.0"/><circle cx="185.8" cy="343.7" r="1.0"/><circle cx="199.9" cy="341.3" r="1.0"/><circle cx="191.4" cy="342.7" r="1.0"/><circle cx="199.8" cy="336.0" r="1.0"/><circle cx="197.5" cy="340.5" r="1.0"/><circle cx="194.3" cy="330.8" r="1.0"/><circle cx="187.3" cy="340.9" r="1.0"/><circle cx="199.2" cy="331.4" r="1.0"/><circle cx="190.1" cy="338.1" r="1.0"/><circle cx="186.9" cy="336.7" r="1.0"/><circle cx="183.7" cy="332.2" r="1.0"/><circle cx="184.6" cy="335.2" r="1.0"/><circle cx="200.2" cy="343.4" r="1.0"/><circle cx="183.4" cy="338.5" r="1.0"/><circle cx="184.8" cy="338.6" r="1.0"/><circle cx="184.2" cy="334.6" r="1.0"/><circle cx="183.1" cy="336.9" r="1.0"/><circle cx="186.4" cy="332.9" r="1.0"/><circle cx="201.0" cy="336.3" r="1.0"/><circle cx="197.9" cy="338.3" r="1.0"/><circle cx="192.6" cy="340.7" r="1.0"/><circle cx="184.0" cy="328.2" r="1.0"/><circle cx="192.3" cy="329.8" r="1.0"/><circle cx="201.0" cy="334.0" r="1.0"/><circle cx="184.3" cy="331.2" r="1.0"/><circle cx="194.2" cy="339.3" r="1.0"/><circle cx="189.2" cy="327.8" r="1.0"/><circle cx="198.8" cy="335.9" r="1.0"/><circle cx="198.7" cy="341.6" r="1.0"/><circle cx="201.2" cy="337.5" r="1.0"/><circle cx="187.6" cy="336.4" r="1.0"/><circle cx="198.8" cy="329.9" r="1.0"/><circle cx="194.3" cy="339.5" r="1.0"/><circle cx="194.4" cy="344.7" r="1.0"/><circle cx="196.1" cy="333.4" r="1.0"/><circle cx="186.2" cy="343.9" r="1.0"/><circle cx="190.5" cy="344.1" r="1.0"/><circle cx="192.2" cy="329.3" r="1.0"/><circle cx="191.8" cy="341.6" r="1.0"/><circle cx="197.6" cy="332.7" r="1.0"/><circle cx="195.2" cy="329.1" r="1.0"/><circle cx="194.4" cy="334.4" r="1.0"/><circle cx="187.4" cy="337.0" r="1.0"/><circle cx="198.7" cy="331.4" r="1.0"/><circle cx="187.5" cy="336.2" r="1.0"/><circle cx="197.6" cy="338.5" r="1.0"/><circle cx="191.2" cy="328.7" r="1.0"/><circle cx="197.6" cy="330.2" r="1.0"/><circle cx="198.0" cy="327.6" r="1.0"/><circle cx="192.3" cy="337.9" r="1.0"/><circle cx="187.3" cy="337.6" r="1.0"/><circle cx="185.1" cy="336.1" r="1.0"/><circle cx="194.0" cy="334.3" r="1.0"/><circle cx="188.3" cy="338.8" r="1.0"/><circle cx="198.0" cy="338.9" r="1.0"/><circle cx="183.1" cy="341.5" r="1.0"/><circle cx="185.1" cy="336.9" r="1.0"/><circle cx="193.5" cy="342.2" r="1.0"/><circle cx="194.3" cy="335.9" r="1.0"/><circle cx="185.9" cy="337.1" r="1.0"/><circle cx="184.0" cy="343.7" r="1.0"/><circle cx="188.3" cy="327.3" r="1.0"/><circle cx="189.4" cy="330.0" r="1.0"/><circle cx="189.7" cy="338.9" r="1.0"/><circle cx="188.9" cy="344.5" r="1.0"/><circle cx="200.6" cy="344.1" r="1.0"/><circle cx="198.4" cy="337.7" r="1.0"/><circle cx="199.8" cy="328.4" r="1.0"/><circle cx="188.6" cy="335.9" r="1.0"/><circle cx="190.2" cy="343.8" r="1.0"/><circle cx="183.5" cy="328.7" r="1.0"/><circle cx="186.2" cy="341.9" r="1.0"/><circle cx="183.6" cy="339.2" r="1.0"/><circle cx="200.4" cy="342.1" r="1.0"/><circle cx="198.2" cy="334.5" r="1.0"/><circle cx="187.2" cy="343.4" r="1.0"/><circle cx="202.5" cy="336.5" r="1.0"/><circle cx="193.1" cy="344.3" r="1.0"/><circle cx="181.9" cy="337.8" r="1.0"/><circle cx="200.0" cy="342.4" r="1.0"/><circle cx="186.4" cy="338.0" r="1.0"/><circle cx="194.7" cy="329.6" r="1.0"/><circle cx="193.8" cy="340.2" r="1.0"/><circle cx="183.6" cy="342.5" r="1.0"/><circle cx="184.8" cy="326.3" r="1.0"/><circle cx="182.5" cy="333.5" r="1.0"/><circle cx="185.9" cy="332.1" r="1.0"/><circle cx="192.5" cy="342.1" r="1.0"/><circle cx="192.1" cy="331.2" r="1.0"/><circle cx="202.2" cy="330.3" r="1.0"/><circle cx="187.3" cy="328.8" r="1.0"/><circle cx="200.3" cy="338.2" r="1.0"/><circle cx="184.8" cy="339.6" r="1.0"/><circle cx="197.0" cy="338.8" r="1.0"/><circle cx="194.5" cy="344.0" r="1.0"/><circle cx="198.9" cy="332.3" r="1.0"/><circle cx="199.2" cy="340.3" r="1.0"/><circle cx="199.1" cy="331.3" r="1.0"/><circle cx="186.1" cy="336.6" r="1.0"/><circle cx="183.6" cy="332.4" r="1.0"/><circle cx="185.6" cy="343.4" r="1.0"/><circle cx="186.9" cy="339.2" r="1.0"/><circle cx="188.9" cy="332.3" r="1.0"/><circle cx="184.2" cy="342.6" r="1.0"/><circle cx="188.4" cy="335.0" r="1.0"/><circle cx="194.6" cy="336.7" r="1.0"/><circle cx="194.4" cy="342.9" r="1.0"/><circle cx="198.9" cy="342.7" r="1.0"/><circle cx="183.5" cy="342.1" r="1.0"/><circle cx="192.4" cy="328.1" r="1.0"/><circle cx="189.1" cy="331.2" r="1.0"/><circle cx="192.7" cy="337.4" r="1.0"/><circle cx="196.9" cy="341.4" r="1.0"/><circle cx="193.5" cy="331.6" r="1.0"/><circle cx="190.8" cy="336.4" r="1.0"/><circle cx="195.9" cy="340.7" r="1.0"/><circle cx="189.9" cy="340.4" r="1.0"/><circle cx="193.5" cy="328.6" r="1.0"/><circle cx="188.0" cy="332.3" r="1.0"/><circle cx="184.1" cy="329.0" r="1.0"/><circle cx="201.7" cy="335.9" r="1.0"/><circle cx="186.8" cy="338.9" r="1.0"/><circle cx="186.5" cy="344.3" r="1.0"/><circle cx="183.8" cy="339.9" r="1.0"/><circle cx="199.4" cy="344.3" r="1.0"/><circle cx="189.8" cy="342.5" r="1.0"/><circle cx="191.9" cy="336.1" r="1.0"/><circle cx="193.5" cy="343.8" r="1.0"/><circle cx="200.5" cy="332.2" r="1.0"/><circle cx="196.8" cy="335.5" r="1.0"/><circle cx="196.9" cy="344.1" r="1.0"/><circle cx="198.3" cy="329.6" r="1.0"/><circle cx="202.4" cy="336.1" r="1.0"/><circle cx="185.2" cy="334.7" r="1.0"/><circle cx="201.7" cy="329.4" r="1.0"/><circle cx="181.8" cy="335.7" r="1.0"/><circle cx="201.6" cy="336.9" r="1.0"/><circle cx="201.0" cy="331.5" r="1.0"/><circle cx="186.7" cy="344.9" r="1.0"/><circle cx="184.6" cy="331.4" r="1.0"/><circle cx="182.7" cy="329.0" r="1.0"/><circle cx="198.3" cy="331.6" r="1.0"/><circle cx="190.1" cy="335.7" r="1.0"/><circle cx="184.4" cy="339.0" r="1.0"/><circle cx="187.5" cy="341.5" r="1.0"/><circle cx="186.1" cy="337.2" r="1.0"/><circle cx="184.6" cy="332.4" r="1.0"/><circle cx="190.6" cy="335.0" r="1.0"/><circle cx="198.2" cy="329.0" r="1.0"/><circle cx="195.6" cy="333.9" r="1.0"/><circle cx="182.4" cy="331.0" r="1.0"/><circle cx="187.3" cy="344.7" r="1.0"/><circle cx="199.7" cy="326.5" r="1.0"/><circle cx="181.6" cy="335.6" r="1.0"/><circle cx="188.7" cy="339.3" r="1.0"/><circle cx="197.7" cy="344.5" r="1.0"/><circle cx="195.9" cy="339.7" r="1.0"/><circle cx="200.8" cy="333.6" r="1.0"/><circle cx="187.4" cy="344.0" r="1.0"/><circle cx="184.1" cy="327.8" r="1.0"/><circle cx="194.5" cy="337.4" r="1.0"/><circle cx="199.3" cy="342.0" r="1.0"/><circle cx="190.8" cy="334.8" r="1.0"/><circle cx="200.5" cy="335.1" r="1.0"/><circle cx="184.2" cy="331.6" r="1.0"/><circle cx="200.9" cy="331.2" r="1.0"/><circle cx="202.4" cy="330.6" r="1.0"/><circle cx="189.3" cy="332.2" r="1.0"/><circle cx="201.9" cy="330.8" r="1.0"/><circle cx="185.9" cy="328.5" r="1.0"/><circle cx="191.7" cy="340.2" r="1.0"/><circle cx="191.1" cy="335.0" r="1.0"/><circle cx="185.7" cy="343.4" r="1.0"/><circle cx="185.9" cy="337.9" r="1.0"/><circle cx="189.6" cy="336.9" r="1.0"/><circle cx="188.1" cy="335.4" r="1.0"/><circle cx="186.6" cy="326.6" r="1.0"/><circle cx="190.0" cy="340.8" r="1.0"/><circle cx="184.2" cy="329.6" r="1.0"/><circle cx="186.4" cy="340.7" r="1.0"/><circle cx="192.4" cy="344.1" r="1.0"/><circle cx="188.8" cy="328.1" r="1.0"/><circle cx="202.2" cy="339.0" r="1.0"/><circle cx="187.2" cy="343.7" r="1.0"/><circle cx="193.6" cy="338.8" r="1.0"/><circle cx="186.2" cy="343.2" r="1.0"/><circle cx="193.7" cy="337.2" r="1.0"/><circle cx="191.4" cy="336.7" r="1.0"/></g>
<text x="192" y="355" font-size="4.8" text-anchor="middle" fill="#222" stroke="#222" stroke-width="0.12">High-MTA2</text>
<path d="M242.4,322.7L250.3,331.6L256,335L263,338L265.3,339.9L260,342L248,345L236,345L224,342L218.7,339.9L221,338L228,335L233.7,331.6L241.6,322.7Z" fill="#9ddbd5" stroke="#141414" stroke-width="0.85" stroke-linejoin="round"/>
<path d="M223.5,336.1L261.7,336.1L261.7,338L252.15,339L261.7,340L261.7,341.8L223.5,341.8L223.5,340L233.05,339L223.5,338Z" fill="#3bb2ac" stroke="#141414" stroke-width="0.85"/>
<line x1="233.05" y1="339" x2="252.15" y2="339" stroke="#141414" stroke-width="1.0"/>
<g fill="#0f7f72" stroke="#03302a" stroke-width="0.2"><circle cx="236.1" cy="335.3" r="1.0"/><circle cx="237.3" cy="335.7" r="1.0"/><circle cx="247.6" cy="330.2" r="1.0"/><circle cx="242.1" cy="328.8" r="1.0"/><circle cx="248.5" cy="325.9" r="1.0"/><circle cx="236.1" cy="335.9" r="1.0"/><circle cx="241.6" cy="325.2" r="1.0"/><circle cx="246.0" cy="330.8" r="1.0"/><circle cx="243.3" cy="328.6" r="1.0"/><circle cx="238.0" cy="325.9" r="1.0"/><circle cx="242.6" cy="324.4" r="1.0"/><circle cx="243.8" cy="331.4" r="1.0"/><circle cx="238.5" cy="335.4" r="1.0"/><circle cx="241.5" cy="328.6" r="1.0"/><circle cx="238.5" cy="335.5" r="1.0"/><circle cx="241.0" cy="327.9" r="1.0"/><circle cx="238.0" cy="332.8" r="1.0"/><circle cx="245.2" cy="326.1" r="1.0"/><circle cx="243.2" cy="331.5" r="1.0"/><circle cx="238.5" cy="322.7" r="1.0"/><circle cx="240.1" cy="324.8" r="1.0"/><circle cx="250.8" cy="335.1" r="1.0"/><circle cx="239.7" cy="334.5" r="1.0"/><circle cx="248.1" cy="331.4" r="1.0"/><circle cx="240.6" cy="328.6" r="1.0"/><circle cx="238.2" cy="342.5" r="1.0"/><circle cx="238.7" cy="340.0" r="1.0"/><circle cx="242.4" cy="343.6" r="1.0"/><circle cx="230.4" cy="336.0" r="1.0"/><circle cx="232.8" cy="341.7" r="1.0"/><circle cx="235.3" cy="342.0" r="1.0"/><circle cx="238.2" cy="340.6" r="1.0"/><circle cx="233.2" cy="341.9" r="1.0"/><circle cx="245.8" cy="339.3" r="1.0"/><circle cx="253.8" cy="337.7" r="1.0"/><circle cx="248.6" cy="345.4" r="1.0"/><circle cx="248.2" cy="344.8" r="1.0"/><circle cx="250.1" cy="341.0" r="1.0"/><circle cx="231.6" cy="339.3" r="1.0"/><circle cx="247.9" cy="344.7" r="1.0"/><circle cx="239.0" cy="337.7" r="1.0"/><circle cx="247.1" cy="337.5" r="1.0"/><circle cx="249.5" cy="336.8" r="1.0"/><circle cx="239.7" cy="335.4" r="1.0"/><circle cx="241.7" cy="343.2" r="1.0"/><circle cx="230.7" cy="336.4" r="1.0"/><circle cx="231.8" cy="342.1" r="1.0"/><circle cx="244.5" cy="338.0" r="1.0"/><circle cx="230.9" cy="338.2" r="1.0"/><circle cx="247.3" cy="343.3" r="1.0"/><circle cx="232.4" cy="341.4" r="1.0"/><circle cx="253.1" cy="340.1" r="1.0"/><circle cx="236.1" cy="340.4" r="1.0"/><circle cx="239.9" cy="344.8" r="1.0"/><circle cx="233.9" cy="340.5" r="1.0"/><circle cx="245.4" cy="344.1" r="1.0"/><circle cx="241.8" cy="340.6" r="1.0"/><circle cx="241.0" cy="338.6" r="1.0"/><circle cx="230.5" cy="340.4" r="1.0"/><circle cx="248.1" cy="342.5" r="1.0"/><circle cx="233.3" cy="335.3" r="1.0"/><circle cx="238.3" cy="342.5" r="1.0"/><circle cx="246.7" cy="336.5" r="1.0"/><circle cx="240.0" cy="345.3" r="1.0"/><circle cx="243.2" cy="341.2" r="1.0"/><circle cx="244.3" cy="340.8" r="1.0"/><circle cx="247.2" cy="344.6" r="1.0"/><circle cx="245.1" cy="344.3" r="1.0"/><circle cx="248.1" cy="343.0" r="1.0"/><circle cx="246.4" cy="342.8" r="1.0"/><circle cx="231.4" cy="343.0" r="1.0"/><circle cx="245.6" cy="336.8" r="1.0"/><circle cx="235.5" cy="339.4" r="1.0"/><circle cx="234.8" cy="341.8" r="1.0"/><circle cx="237.6" cy="342.9" r="1.0"/><circle cx="239.4" cy="344.6" r="1.0"/><circle cx="239.6" cy="345.1" r="1.0"/><circle cx="233.3" cy="343.2" r="1.0"/><circle cx="238.6" cy="340.3" r="1.0"/><circle cx="246.0" cy="344.1" r="1.0"/><circle cx="232.7" cy="341.0" r="1.0"/><circle cx="235.7" cy="340.5" r="1.0"/><circle cx="246.9" cy="336.1" r="1.0"/><circle cx="254.0" cy="340.7" r="1.0"/><circle cx="232.8" cy="343.8" r="1.0"/><circle cx="242.4" cy="344.9" r="1.0"/><circle cx="239.3" cy="345.4" r="1.0"/><circle cx="246.7" cy="339.9" r="1.0"/><circle cx="239.7" cy="337.7" r="1.0"/><circle cx="238.2" cy="338.5" r="1.0"/><circle cx="242.0" cy="340.7" r="1.0"/><circle cx="237.7" cy="344.3" r="1.0"/><circle cx="236.9" cy="337.5" r="1.0"/><circle cx="237.9" cy="335.0" r="1.0"/><circle cx="232.3" cy="338.7" r="1.0"/><circle cx="232.1" cy="340.4" r="1.0"/><circle cx="252.6" cy="343.3" r="1.0"/><circle cx="234.8" cy="341.4" r="1.0"/><circle cx="231.5" cy="336.6" r="1.0"/><circle cx="250.4" cy="336.9" r="1.0"/><circle cx="250.7" cy="343.0" r="1.0"/><circle cx="243.3" cy="338.8" r="1.0"/><circle cx="245.8" cy="342.5" r="1.0"/><circle cx="230.7" cy="341.8" r="1.0"/><circle cx="243.1" cy="345.5" r="1.0"/><circle cx="237.8" cy="338.0" r="1.0"/><circle cx="252.2" cy="343.0" r="1.0"/><circle cx="235.2" cy="335.4" r="1.0"/><circle cx="245.5" cy="335.5" r="1.0"/><circle cx="244.9" cy="341.3" r="1.0"/><circle cx="240.0" cy="337.0" r="1.0"/><circle cx="239.0" cy="344.2" r="1.0"/><circle cx="235.1" cy="337.1" r="1.0"/><circle cx="235.8" cy="343.4" r="1.0"/><circle cx="244.7" cy="342.4" r="1.0"/><circle cx="232.4" cy="343.6" r="1.0"/><circle cx="253.0" cy="338.2" r="1.0"/><circle cx="232.1" cy="340.2" r="1.0"/><circle cx="234.5" cy="336.2" r="1.0"/><circle cx="237.7" cy="341.9" r="1.0"/><circle cx="236.3" cy="336.0" r="1.0"/><circle cx="247.2" cy="343.4" r="1.0"/><circle cx="236.4" cy="340.0" r="1.0"/><circle cx="232.7" cy="336.0" r="1.0"/><circle cx="243.9" cy="344.3" r="1.0"/><circle cx="248.7" cy="335.1" r="1.0"/><circle cx="240.6" cy="344.9" r="1.0"/><circle cx="239.2" cy="344.4" r="1.0"/><circle cx="239.8" cy="338.6" r="1.0"/><circle cx="239.1" cy="340.4" r="1.0"/><circle cx="232.0" cy="337.5" r="1.0"/><circle cx="243.6" cy="338.1" r="1.0"/><circle cx="245.7" cy="344.1" r="1.0"/><circle cx="239.8" cy="340.4" r="1.0"/><circle cx="246.7" cy="336.7" r="1.0"/><circle cx="238.5" cy="343.4" r="1.0"/><circle cx="250.2" cy="342.9" r="1.0"/><circle cx="230.1" cy="338.7" r="1.0"/><circle cx="242.3" cy="343.8" r="1.0"/><circle cx="244.6" cy="335.8" r="1.0"/><circle cx="244.9" cy="341.6" r="1.0"/><circle cx="243.1" cy="341.8" r="1.0"/><circle cx="251.4" cy="335.4" r="1.0"/><circle cx="250.7" cy="341.9" r="1.0"/><circle cx="246.3" cy="340.4" r="1.0"/><circle cx="247.9" cy="340.0" r="1.0"/><circle cx="237.8" cy="335.9" r="1.0"/><circle cx="238.5" cy="343.1" r="1.0"/><circle cx="238.5" cy="340.5" r="1.0"/><circle cx="232.8" cy="343.1" r="1.0"/></g>
<text x="242" y="355" font-size="4.8" text-anchor="middle" fill="#222" stroke="#222" stroke-width="0.12">Low-MTA2</text>
<text x="284" y="240.7" font-size="9.6" fill="#1a1a1a" stroke="#1a1a1a" stroke-width="0.2">K</text>
<line x1="305.2" y1="251.3" x2="305.2" y2="349.3" stroke="#8a8a8a" stroke-width="0.9"/>
<line x1="303.6" y1="277.8" x2="305.2" y2="277.8" stroke="#8a8a8a" stroke-width="0.5"/>
<text x="302.2" y="279.2" font-size="4.2" text-anchor="end" fill="#555" stroke="#555" stroke-width="0.12">4</text>
<line x1="303.6" y1="311.1" x2="305.2" y2="311.1" stroke="#8a8a8a" stroke-width="0.5"/>
<text x="302.2" y="312.5" font-size="4.2" text-anchor="end" fill="#555" stroke="#555" stroke-width="0.12">2</text>
<line x1="303.6" y1="345" x2="305.2" y2="345" stroke="#8a8a8a" stroke-width="0.5"/>
<text x="302.2" y="346.4" font-size="4.2" text-anchor="end" fill="#555" stroke="#555" stroke-width="0.12">0</text>
<line x1="304.75" y1="349.3" x2="416.3" y2="349.3" stroke="#8a8a8a" stroke-width="0.9"/>
<line x1="335.4" y1="349.3" x2="335.4" y2="350.6" stroke="#8a8a8a" stroke-width="0.45"/>
<line x1="386" y1="349.3" x2="386" y2="350.6" stroke="#8a8a8a" stroke-width="0.45"/>
<text x="297.1" y="300.6" font-size="4.8" text-anchor="middle" fill="#333" stroke="#333" stroke-width="0.12" transform="rotate(-90 297.1 300.6)">PD-L2 expression</text>
<text x="345.9" y="258.4" font-size="7.0" fill="#1a1a1a" stroke="#1a1a1a" stroke-width="0.15" textLength="27.6" lengthAdjust="spacingAndGlyphs">P &lt; 0.001</text>
<circle cx="377.7" cy="255.7" r="0.95" fill="#0f7f72" stroke="#03302a" stroke-width="0.35"/>
<path d="M335.8,319.5L345.9,334.2L351.4,337L356.4,339.5L358.4,340.9L353.4,342.5L343.4,344.5L327.4,344.5L317.4,342.5L312.4,340.9L314.4,339.5L319.4,337L324.9,334.2L335,319.5Z" fill="#f5a6d8" stroke="#141414" stroke-width="0.85" stroke-linejoin="round"/>
<path d="M316.3,336.1L354.7,336.1L354.7,338L345.1,339.2L354.7,340.5L354.7,342L316.3,342L316.3,340.5L325.9,339.2L316.3,338Z" fill="#f67ac2" stroke="#141414" stroke-width="0.85"/>
<line x1="325.9" y1="339.2" x2="345.1" y2="339.2" stroke="#141414" stroke-width="1.0"/>
<g fill="#ea62ae" stroke="#1a0610" stroke-width="0.2"><circle cx="337.1" cy="326.7" r="1.0"/><circle cx="342.2" cy="319.6" r="1.0"/><circle cx="345.1" cy="333.8" r="1.0"/><circle cx="331.2" cy="325.7" r="1.0"/><circle cx="331.1" cy="321.2" r="1.0"/><circle cx="338.1" cy="320.3" r="1.0"/><circle cx="339.8" cy="327.4" r="1.0"/><circle cx="332.6" cy="333.0" r="1.0"/><circle cx="333.3" cy="323.9" r="1.0"/><circle cx="337.5" cy="320.5" r="1.0"/><circle cx="330.5" cy="324.3" r="1.0"/><circle cx="334.1" cy="334.6" r="1.0"/><circle cx="345.0" cy="335.4" r="1.0"/><circle cx="331.2" cy="331.8" r="1.0"/><circle cx="331.9" cy="323.5" r="1.0"/><circle cx="335.6" cy="332.7" r="1.0"/><circle cx="328.6" cy="326.3" r="1.0"/><circle cx="333.9" cy="327.2" r="1.0"/><circle cx="331.9" cy="321.6" r="1.0"/><circle cx="334.2" cy="326.2" r="1.0"/><circle cx="336.3" cy="329.4" r="1.0"/><circle cx="331.3" cy="334.2" r="1.0"/><circle cx="332.6" cy="322.3" r="1.0"/><circle cx="336.5" cy="324.8" r="1.0"/><circle cx="332.9" cy="329.1" r="1.0"/><circle cx="338.9" cy="322.3" r="1.0"/><circle cx="337.4" cy="331.2" r="1.0"/><circle cx="341.6" cy="332.3" r="1.0"/><circle cx="331.0" cy="320.6" r="1.0"/><circle cx="338.2" cy="329.0" r="1.0"/><circle cx="335.5" cy="329.5" r="1.0"/><circle cx="331.8" cy="326.4" r="1.0"/><circle cx="345.1" cy="334.5" r="1.0"/><circle cx="334.9" cy="329.5" r="1.0"/><circle cx="336.8" cy="323.0" r="1.0"/><circle cx="338.2" cy="337.2" r="1.0"/><circle cx="334.7" cy="337.9" r="1.0"/><circle cx="331.8" cy="344.1" r="1.0"/><circle cx="331.4" cy="340.6" r="1.0"/><circle cx="343.5" cy="340.1" r="1.0"/><circle cx="345.6" cy="340.2" r="1.0"/><circle cx="334.4" cy="339.3" r="1.0"/><circle cx="335.4" cy="341.8" r="1.0"/><circle cx="330.8" cy="342.1" r="1.0"/><circle cx="333.7" cy="335.1" r="1.0"/><circle cx="329.9" cy="335.7" r="1.0"/><circle cx="339.6" cy="341.3" r="1.0"/><circle cx="337.9" cy="344.6" r="1.0"/><circle cx="332.0" cy="340.8" r="1.0"/><circle cx="330.7" cy="340.0" r="1.0"/><circle cx="336.2" cy="336.1" r="1.0"/><circle cx="331.2" cy="341.6" r="1.0"/><circle cx="336.1" cy="342.8" r="1.0"/><circle cx="343.1" cy="338.2" r="1.0"/><circle cx="330.3" cy="335.2" r="1.0"/><circle cx="339.2" cy="338.4" r="1.0"/><circle cx="346.0" cy="337.7" r="1.0"/><circle cx="334.3" cy="336.1" r="1.0"/><circle cx="340.8" cy="339.9" r="1.0"/><circle cx="328.0" cy="337.7" r="1.0"/><circle cx="341.7" cy="342.8" r="1.0"/><circle cx="344.3" cy="341.0" r="1.0"/><circle cx="334.3" cy="339.1" r="1.0"/><circle cx="327.2" cy="340.2" r="1.0"/><circle cx="325.8" cy="343.7" r="1.0"/><circle cx="344.4" cy="335.8" r="1.0"/><circle cx="327.6" cy="339.7" r="1.0"/><circle cx="330.2" cy="344.3" r="1.0"/><circle cx="324.7" cy="339.8" r="1.0"/><circle cx="335.0" cy="336.5" r="1.0"/><circle cx="327.2" cy="342.4" r="1.0"/><circle cx="338.6" cy="343.0" r="1.0"/><circle cx="345.6" cy="342.1" r="1.0"/><circle cx="324.5" cy="340.0" r="1.0"/><circle cx="343.6" cy="335.6" r="1.0"/><circle cx="330.4" cy="336.1" r="1.0"/><circle cx="340.6" cy="341.9" r="1.0"/><circle cx="336.7" cy="342.9" r="1.0"/><circle cx="344.2" cy="338.4" r="1.0"/><circle cx="330.1" cy="335.2" r="1.0"/><circle cx="331.0" cy="345.4" r="1.0"/><circle cx="337.6" cy="343.8" r="1.0"/><circle cx="338.3" cy="341.6" r="1.0"/><circle cx="342.9" cy="339.7" r="1.0"/><circle cx="330.7" cy="335.6" r="1.0"/><circle cx="340.6" cy="343.1" r="1.0"/><circle cx="339.6" cy="341.7" r="1.0"/><circle cx="337.6" cy="338.1" r="1.0"/><circle cx="342.3" cy="341.0" r="1.0"/><circle cx="330.6" cy="337.4" r="1.0"/><circle cx="328.9" cy="338.4" r="1.0"/><circle cx="335.2" cy="342.6" r="1.0"/><circle cx="344.0" cy="335.7" r="1.0"/><circle cx="342.5" cy="340.5" r="1.0"/><circle cx="333.2" cy="342.8" r="1.0"/><circle cx="336.5" cy="338.4" r="1.0"/><circle cx="339.6" cy="344.9" r="1.0"/><circle cx="336.4" cy="345.1" r="1.0"/><circle cx="331.0" cy="340.7" r="1.0"/><circle cx="336.7" cy="340.8" r="1.0"/><circle cx="342.8" cy="343.0" r="1.0"/><circle cx="331.6" cy="344.5" r="1.0"/><circle cx="325.9" cy="341.8" r="1.0"/><circle cx="337.7" cy="337.9" r="1.0"/><circle cx="343.4" cy="335.0" r="1.0"/><circle cx="329.7" cy="340.7" r="1.0"/><circle cx="341.0" cy="339.4" r="1.0"/><circle cx="344.5" cy="336.0" r="1.0"/><circle cx="336.0" cy="341.9" r="1.0"/><circle cx="338.2" cy="337.0" r="1.0"/><circle cx="325.9" cy="337.3" r="1.0"/><circle cx="332.3" cy="343.9" r="1.0"/><circle cx="335.0" cy="343.1" r="1.0"/><circle cx="332.9" cy="340.9" r="1.0"/><circle cx="341.6" cy="343.6" r="1.0"/><circle cx="336.7" cy="339.1" r="1.0"/><circle cx="344.4" cy="337.9" r="1.0"/><circle cx="337.6" cy="339.8" r="1.0"/><circle cx="326.6" cy="341.0" r="1.0"/><circle cx="341.5" cy="338.5" r="1.0"/><circle cx="329.8" cy="341.2" r="1.0"/><circle cx="343.5" cy="336.7" r="1.0"/><circle cx="343.9" cy="343.5" r="1.0"/><circle cx="336.5" cy="336.9" r="1.0"/><circle cx="333.8" cy="339.6" r="1.0"/><circle cx="338.5" cy="338.8" r="1.0"/><circle cx="326.0" cy="341.0" r="1.0"/><circle cx="328.3" cy="335.4" r="1.0"/><circle cx="343.3" cy="343.5" r="1.0"/><circle cx="332.5" cy="342.0" r="1.0"/><circle cx="338.5" cy="340.6" r="1.0"/><circle cx="345.5" cy="336.8" r="1.0"/><circle cx="328.9" cy="344.6" r="1.0"/><circle cx="330.4" cy="337.7" r="1.0"/><circle cx="343.4" cy="344.0" r="1.0"/><circle cx="334.4" cy="344.9" r="1.0"/><circle cx="328.7" cy="340.7" r="1.0"/><circle cx="338.4" cy="335.3" r="1.0"/><circle cx="343.7" cy="340.7" r="1.0"/><circle cx="335.9" cy="344.7" r="1.0"/><circle cx="336.9" cy="335.6" r="1.0"/><circle cx="335.1" cy="344.8" r="1.0"/><circle cx="335.7" cy="341.8" r="1.0"/><circle cx="333.7" cy="339.7" r="1.0"/><circle cx="334.2" cy="337.4" r="1.0"/><circle cx="340.7" cy="343.4" r="1.0"/><circle cx="329.2" cy="335.3" r="1.0"/><circle cx="326.4" cy="335.8" r="1.0"/><circle cx="340.4" cy="335.1" r="1.0"/><circle cx="339.0" cy="337.1" r="1.0"/><circle cx="327.8" cy="343.7" r="1.0"/><circle cx="327.0" cy="337.6" r="1.0"/><circle cx="346.0" cy="336.4" r="1.0"/><circle cx="343.8" cy="344.2" r="1.0"/><circle cx="333.8" cy="336.9" r="1.0"/><circle cx="325.9" cy="340.8" r="1.0"/><circle cx="343.6" cy="341.8" r="1.0"/><circle cx="340.5" cy="344.7" r="1.0"/><circle cx="342.0" cy="338.2" r="1.0"/><circle cx="334.5" cy="337.2" r="1.0"/><circle cx="326.5" cy="335.8" r="1.0"/><circle cx="332.2" cy="335.8" r="1.0"/><circle cx="336.7" cy="342.8" r="1.0"/><circle cx="330.8" cy="336.8" r="1.0"/><circle cx="327.0" cy="338.8" r="1.0"/><circle cx="345.2" cy="336.7" r="1.0"/><circle cx="339.4" cy="343.2" r="1.0"/><circle cx="335.6" cy="336.0" r="1.0"/><circle cx="342.5" cy="343.3" r="1.0"/><circle cx="332.7" cy="337.3" r="1.0"/><circle cx="327.7" cy="341.4" r="1.0"/><circle cx="326.1" cy="341.3" r="1.0"/><circle cx="329.3" cy="343.6" r="1.0"/><circle cx="339.8" cy="338.8" r="1.0"/><circle cx="346.2" cy="341.3" r="1.0"/><circle cx="330.2" cy="341.9" r="1.0"/><circle cx="341.5" cy="336.5" r="1.0"/><circle cx="328.7" cy="342.6" r="1.0"/><circle cx="332.7" cy="343.6" r="1.0"/><circle cx="327.7" cy="336.9" r="1.0"/><circle cx="341.7" cy="339.7" r="1.0"/><circle cx="331.1" cy="340.5" r="1.0"/><circle cx="324.8" cy="341.8" r="1.0"/><circle cx="339.5" cy="342.7" r="1.0"/><circle cx="325.9" cy="339.8" r="1.0"/><circle cx="344.3" cy="339.3" r="1.0"/><circle cx="339.0" cy="344.8" r="1.0"/><circle cx="346.0" cy="342.4" r="1.0"/><circle cx="343.7" cy="337.8" r="1.0"/><circle cx="340.1" cy="344.6" r="1.0"/><circle cx="338.6" cy="337.4" r="1.0"/><circle cx="329.6" cy="335.3" r="1.0"/><circle cx="327.6" cy="343.8" r="1.0"/><circle cx="328.7" cy="341.8" r="1.0"/><circle cx="341.5" cy="345.2" r="1.0"/><circle cx="336.6" cy="345.1" r="1.0"/><circle cx="330.5" cy="345.5" r="1.0"/><circle cx="326.6" cy="341.1" r="1.0"/><circle cx="346.1" cy="341.3" r="1.0"/><circle cx="341.8" cy="342.7" r="1.0"/><circle cx="340.6" cy="344.5" r="1.0"/><circle cx="341.4" cy="341.5" r="1.0"/><circle cx="329.9" cy="336.6" r="1.0"/><circle cx="340.3" cy="342.6" r="1.0"/><circle cx="334.7" cy="339.2" r="1.0"/></g>
<text x="335.4" y="355" font-size="4.8" text-anchor="middle" fill="#222" stroke="#222" stroke-width="0.12">High-MTA2</text>
<path d="M386.3,255.7L386.55,300L387.2,317.7L389,327.9L392,331L396,336L397,341L392,344.5L380,344.5L375,341L376,336L380,331L383,327.9L384.8,317.7L385.45,300L385.7,255.7Z" fill="#9ddbd5" stroke="#141414" stroke-width="0.55" stroke-linejoin="round"/>
<path d="M366.5,331.1L405.4,331.1L405.4,336.2L395.67,338.3L405.4,340.4L405.4,343.2L366.5,343.2L366.5,340.4L376.23,338.3L366.5,336.2Z" fill="#3bb2ac" stroke="#141414" stroke-width="0.85"/>
<line x1="376.23" y1="338.3" x2="395.67" y2="338.3" stroke="#141414" stroke-width="1.0"/>
<g fill="#0f7f72" stroke="#03302a" stroke-width="0.2"><circle cx="387.3" cy="284.1" r="1.0"/><circle cx="383.8" cy="330.8" r="1.0"/><circle cx="384.2" cy="320.2" r="1.0"/><circle cx="388.6" cy="325.1" r="1.0"/><circle cx="392.7" cy="321.6" r="1.0"/><circle cx="383.8" cy="324.2" r="1.0"/><circle cx="387.9" cy="315.7" r="1.0"/><circle cx="382.1" cy="324.0" r="1.0"/><circle cx="385.3" cy="326.7" r="1.0"/><circle cx="380.3" cy="325.9" r="1.0"/><circle cx="379.2" cy="313.9" r="1.0"/><circle cx="382.6" cy="316.8" r="1.0"/><circle cx="382.1" cy="314.8" r="1.0"/><circle cx="387.9" cy="327.7" r="1.0"/><circle cx="386.0" cy="314.9" r="1.0"/><circle cx="392.2" cy="309.5" r="1.0"/><circle cx="387.0" cy="328.9" r="1.0"/><circle cx="392.3" cy="308.3" r="1.0"/><circle cx="379.8" cy="310.6" r="1.0"/><circle cx="384.3" cy="316.8" r="1.0"/><circle cx="381.1" cy="327.7" r="1.0"/><circle cx="385.2" cy="304.4" r="1.0"/><circle cx="388.3" cy="303.3" r="1.0"/><circle cx="391.2" cy="318.8" r="1.0"/><circle cx="382.3" cy="329.6" r="1.0"/><circle cx="386.0" cy="326.2" r="1.0"/><circle cx="380.1" cy="329.9" r="1.0"/><circle cx="392.7" cy="317.9" r="1.0"/><circle cx="383.3" cy="304.1" r="1.0"/><circle cx="384.1" cy="313.6" r="1.0"/><circle cx="381.7" cy="330.8" r="1.0"/><circle cx="382.7" cy="327.1" r="1.0"/><circle cx="381.1" cy="328.2" r="1.0"/><circle cx="393.2" cy="333.2" r="1.0"/><circle cx="388.0" cy="331.4" r="1.0"/><circle cx="387.4" cy="334.9" r="1.0"/><circle cx="388.4" cy="336.6" r="1.0"/><circle cx="391.0" cy="341.3" r="1.0"/><circle cx="391.1" cy="333.6" r="1.0"/><circle cx="387.7" cy="335.5" r="1.0"/><circle cx="390.3" cy="342.8" r="1.0"/><circle cx="386.0" cy="339.4" r="1.0"/><circle cx="392.1" cy="334.1" r="1.0"/><circle cx="391.6" cy="340.2" r="1.0"/><circle cx="388.8" cy="344.6" r="1.0"/><circle cx="385.6" cy="336.3" r="1.0"/><circle cx="382.3" cy="334.4" r="1.0"/><circle cx="388.4" cy="343.4" r="1.0"/><circle cx="386.4" cy="334.3" r="1.0"/><circle cx="392.2" cy="337.8" r="1.0"/><circle cx="383.8" cy="343.1" r="1.0"/><circle cx="381.5" cy="332.9" r="1.0"/><circle cx="383.2" cy="339.9" r="1.0"/><circle cx="389.4" cy="332.0" r="1.0"/><circle cx="382.4" cy="340.5" r="1.0"/><circle cx="384.0" cy="331.9" r="1.0"/><circle cx="377.0" cy="340.1" r="1.0"/><circle cx="379.1" cy="333.3" r="1.0"/><circle cx="387.6" cy="331.9" r="1.0"/><circle cx="388.6" cy="341.7" r="1.0"/><circle cx="383.2" cy="336.6" r="1.0"/><circle cx="390.3" cy="331.4" r="1.0"/><circle cx="379.7" cy="339.4" r="1.0"/><circle cx="382.6" cy="333.5" r="1.0"/><circle cx="389.9" cy="337.5" r="1.0"/><circle cx="389.9" cy="332.7" r="1.0"/><circle cx="379.7" cy="335.4" r="1.0"/><circle cx="378.7" cy="340.6" r="1.0"/><circle cx="388.5" cy="344.9" r="1.0"/><circle cx="386.9" cy="341.9" r="1.0"/><circle cx="390.9" cy="343.6" r="1.0"/><circle cx="378.7" cy="339.7" r="1.0"/><circle cx="396.2" cy="341.1" r="1.0"/><circle cx="389.6" cy="335.5" r="1.0"/><circle cx="390.9" cy="333.4" r="1.0"/><circle cx="387.2" cy="339.5" r="1.0"/><circle cx="386.5" cy="340.1" r="1.0"/><circle cx="388.4" cy="341.1" r="1.0"/><circle cx="393.0" cy="336.2" r="1.0"/><circle cx="389.8" cy="333.7" r="1.0"/><circle cx="378.1" cy="338.1" r="1.0"/><circle cx="385.8" cy="336.0" r="1.0"/><circle cx="388.0" cy="333.8" r="1.0"/><circle cx="389.1" cy="344.5" r="1.0"/><circle cx="387.9" cy="339.7" r="1.0"/><circle cx="391.3" cy="338.9" r="1.0"/><circle cx="386.2" cy="341.5" r="1.0"/><circle cx="388.6" cy="342.1" r="1.0"/><circle cx="381.0" cy="332.7" r="1.0"/><circle cx="382.4" cy="337.6" r="1.0"/><circle cx="385.4" cy="341.4" r="1.0"/><circle cx="390.3" cy="341.3" r="1.0"/><circle cx="386.5" cy="344.5" r="1.0"/><circle cx="395.0" cy="335.9" r="1.0"/><circle cx="390.8" cy="336.8" r="1.0"/><circle cx="384.2" cy="335.5" r="1.0"/><circle cx="394.7" cy="340.8" r="1.0"/><circle cx="392.5" cy="344.4" r="1.0"/><circle cx="390.9" cy="339.1" r="1.0"/><circle cx="386.2" cy="342.1" r="1.0"/><circle cx="383.9" cy="342.0" r="1.0"/><circle cx="382.4" cy="338.4" r="1.0"/><circle cx="392.9" cy="333.9" r="1.0"/><circle cx="386.2" cy="339.5" r="1.0"/><circle cx="381.7" cy="341.5" r="1.0"/><circle cx="387.9" cy="333.2" r="1.0"/><circle cx="380.1" cy="335.6" r="1.0"/><circle cx="383.8" cy="339.1" r="1.0"/><circle cx="385.9" cy="344.2" r="1.0"/><circle cx="389.9" cy="344.2" r="1.0"/><circle cx="387.5" cy="341.1" r="1.0"/><circle cx="391.9" cy="334.1" r="1.0"/><circle cx="391.0" cy="334.1" r="1.0"/><circle cx="391.3" cy="344.7" r="1.0"/><circle cx="390.0" cy="343.5" r="1.0"/><circle cx="391.6" cy="338.9" r="1.0"/><circle cx="388.7" cy="341.6" r="1.0"/><circle cx="388.5" cy="338.8" r="1.0"/><circle cx="379.3" cy="342.3" r="1.0"/><circle cx="394.7" cy="340.9" r="1.0"/><circle cx="393.2" cy="333.0" r="1.0"/><circle cx="385.4" cy="343.7" r="1.0"/><circle cx="384.3" cy="340.0" r="1.0"/><circle cx="382.9" cy="335.5" r="1.0"/><circle cx="380.0" cy="344.5" r="1.0"/><circle cx="381.5" cy="338.6" r="1.0"/><circle cx="395.2" cy="340.7" r="1.0"/><circle cx="380.1" cy="340.6" r="1.0"/><circle cx="384.7" cy="344.7" r="1.0"/><circle cx="391.7" cy="343.3" r="1.0"/><circle cx="379.5" cy="336.5" r="1.0"/><circle cx="391.2" cy="344.5" r="1.0"/><circle cx="392.7" cy="335.1" r="1.0"/><circle cx="381.3" cy="342.9" r="1.0"/><circle cx="387.1" cy="333.3" r="1.0"/><circle cx="380.2" cy="336.6" r="1.0"/><circle cx="383.2" cy="331.1" r="1.0"/><circle cx="379.7" cy="331.6" r="1.0"/><circle cx="386.2" cy="335.2" r="1.0"/><circle cx="383.0" cy="340.3" r="1.0"/><circle cx="386.6" cy="335.0" r="1.0"/><circle cx="384.0" cy="340.3" r="1.0"/><circle cx="388.0" cy="339.0" r="1.0"/><circle cx="380.4" cy="344.6" r="1.0"/><circle cx="390.4" cy="343.3" r="1.0"/><circle cx="388.7" cy="337.8" r="1.0"/><circle cx="389.9" cy="343.8" r="1.0"/><circle cx="379.0" cy="342.4" r="1.0"/><circle cx="379.7" cy="335.4" r="1.0"/><circle cx="382.0" cy="344.7" r="1.0"/><circle cx="390.2" cy="337.8" r="1.0"/><circle cx="382.6" cy="343.2" r="1.0"/><circle cx="383.7" cy="343.9" r="1.0"/><circle cx="381.0" cy="343.4" r="1.0"/><circle cx="379.5" cy="344.1" r="1.0"/><circle cx="384.4" cy="343.6" r="1.0"/><circle cx="392.3" cy="341.1" r="1.0"/><circle cx="391.5" cy="344.3" r="1.0"/><circle cx="379.6" cy="342.8" r="1.0"/><circle cx="384.9" cy="344.7" r="1.0"/><circle cx="381.9" cy="335.2" r="1.0"/><circle cx="394.9" cy="342.1" r="1.0"/><circle cx="394.3" cy="340.5" r="1.0"/><circle cx="386.7" cy="339.6" r="1.0"/><circle cx="389.4" cy="332.4" r="1.0"/><circle cx="379.6" cy="344.4" r="1.0"/><circle cx="386.8" cy="340.1" r="1.0"/><circle cx="392.5" cy="331.9" r="1.0"/><circle cx="378.2" cy="341.5" r="1.0"/><circle cx="381.0" cy="344.8" r="1.0"/><circle cx="379.1" cy="340.1" r="1.0"/><circle cx="394.4" cy="335.8" r="1.0"/><circle cx="378.5" cy="343.0" r="1.0"/><circle cx="388.3" cy="342.7" r="1.0"/><circle cx="379.8" cy="344.1" r="1.0"/><circle cx="376.5" cy="338.9" r="1.0"/><circle cx="380.8" cy="340.4" r="1.0"/><circle cx="384.4" cy="345.0" r="1.0"/><circle cx="392.6" cy="345.0" r="1.0"/><circle cx="380.5" cy="342.8" r="1.0"/><circle cx="391.0" cy="344.9" r="1.0"/><circle cx="394.7" cy="341.9" r="1.0"/><circle cx="385.5" cy="340.0" r="1.0"/><circle cx="384.2" cy="343.1" r="1.0"/><circle cx="379.0" cy="338.3" r="1.0"/><circle cx="379.6" cy="343.6" r="1.0"/><circle cx="386.5" cy="336.6" r="1.0"/><circle cx="381.3" cy="341.0" r="1.0"/><circle cx="389.7" cy="343.4" r="1.0"/><circle cx="386.0" cy="334.9" r="1.0"/><circle cx="385.4" cy="342.1" r="1.0"/><circle cx="385.2" cy="338.1" r="1.0"/><circle cx="389.2" cy="334.4" r="1.0"/><circle cx="390.5" cy="339.3" r="1.0"/><circle cx="387.6" cy="337.8" r="1.0"/><circle cx="378.2" cy="342.7" r="1.0"/><circle cx="389.4" cy="333.0" r="1.0"/><circle cx="378.9" cy="336.3" r="1.0"/><circle cx="393.7" cy="338.7" r="1.0"/><circle cx="392.4" cy="332.2" r="1.0"/><circle cx="383.3" cy="341.0" r="1.0"/><circle cx="383.1" cy="332.9" r="1.0"/><circle cx="393.1" cy="336.9" r="1.0"/><circle cx="393.6" cy="340.4" r="1.0"/><circle cx="380.3" cy="339.2" r="1.0"/><circle cx="378.4" cy="340.3" r="1.0"/><circle cx="382.7" cy="340.3" r="1.0"/><circle cx="390.2" cy="331.5" r="1.0"/><circle cx="387.5" cy="332.0" r="1.0"/><circle cx="393.0" cy="334.5" r="1.0"/><circle cx="385.3" cy="339.5" r="1.0"/><circle cx="395.3" cy="340.3" r="1.0"/><circle cx="377.1" cy="341.3" r="1.0"/></g>
<text x="386" y="355" font-size="4.8" text-anchor="middle" fill="#222" stroke="#222" stroke-width="0.12">Low-MTA2</text>
</svg>
</body></html>
